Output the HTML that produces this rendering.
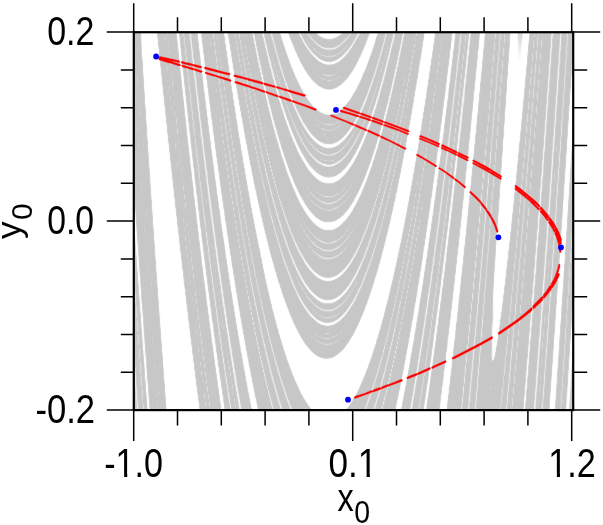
<!DOCTYPE html>
<html><head><meta charset="utf-8"><title>plot</title>
<style>html,body{margin:0;padding:0;background:#fff;width:603px;height:525px;overflow:hidden}svg{display:block}</style>
</head><body><svg width="603" height="525" viewBox="0 0 603 525">
<rect width="603" height="525" fill="#fff"/>
<defs><clipPath id="cp"><rect x="133.8" y="32.2" width="439.40000000000003" height="377.90000000000003"/></clipPath></defs>
<g clip-path="url(#cp)"><g fill-rule="evenodd" transform="scale(.1)"><path fill="rgb(243,243,243)" d="M5728 3485l-6 7-4 20 0 130-10 30 0 130-6 6-4 24 0 130-10 26 0 110 40 0zM1332 2088l0 1410 6 4 0 36-6 4 0 556 40 0 3-36 3 36 104 0-4-53-6-7 0-110-4-16-6-7 0-117-10-20 0-116-10-20 0-117-10-20 0-117-10-20 0-120-10-20 0-116-10-24 0-116-4-17-6-7 0-120-10-20 0-120-10-20 0-120-4-16-6-7 0-120-4-17-6-6 0-124-10-20 0-120-4-16zM5728 1305l-10 20 0 133-10 30 0 130-10 30 0 130-10 30 0 130-10 30 0 130-10 27 0 133-10 24 0 133-6 7-4 16 0 130-10 30 0 130-6 7-4 17 0 130-6 6-4 20 0 130-6 7-4 17 0 130-6 6-4 20 0 124-10 30 0 123-10 27 0 126-10 24 0 126-10 27 0 127-6 6-4 17 0 123 114 0 10-36 0-127 10-27 0-133 6-7 4-20 0-130 6-6 4-20 0-134 10-30 0-130 10-30 0-130 6-3zM4848 322l0 23-10 20 0 93-10 17 0 93-10 17 0 93-10 17 0 90-10 17 0 93-10 17 0 86-10 20 0 90-10 17 0 90-10 17 0 86-10 17 0 90-10 17 0 86-10 17 0 87-10 16 0 87-10 17 0 83-10 17 0 86-10 14 0 86-10 14 0 86-10 14 0 83-10 17 0 83-10 17 0 83-10 13 0 80-10 17 0 83-10 14 0 80-10 16 0 80-10 17 0 77-10 16 0 77-10 17 0 76-10 17 0 77-10 13 0 80-10 13 0 77-10 17 0 73-10 17 0 76-10 14 0 73-10 13 0 77-10 13 0 74-10 13 0 73-10 17 0 70-10 13 0 74-10 16 154 0 3-10 3 10 64 0 3-16 3 16 554 0 0-103 10-17 0-106 10-17 3-113 7 3-4 123-6 4-4 13 0 110-10 17 0 86 94 0 3-26 3 26 154 0 0-123 6-7 4-16 0-120 10-24 0-123 6-7 4-16 0-120 10-24 0-126 10-20 0-127 10-20 0-127 10-26 0-124 6-6 4-17 0-127 6-6 4-17 0-127 6-6 4-17 0-127 10-26 0-127 6-7 4-16 0-130 10-17 0-133 10-27 0-127 10-26 0-130 10-20 0-134 6-6 4-20 0-130 10-24 0-133 6-7 4-16 0-134 6-6 4-20 0-130 10-27 0-133 10-24 0-136 6-4 0-306-200 0-3 16-3-16-234 0 0 76-10 20 0 97-10 20 0 93-10 20 0 94-10 16 0 97-10 13 0 97-10 13 0 94-10 16 0 94-10 16 0 90-10 17 0 90-10 17 0 86-10 17 0 90-10 17 0 86-10 14 0 86-10 17 0 83-10 17 0 83-10 17 0 83-10 14 0 83-10 13 0 80-10 17 0 80-10 13 0 80-10 14 0 76-10 14 0 76-10 14 0 73-10 17 0 70-10 13 0 70-10 17 0 66-10 14 0 66-10 14 0 63-10 13 0 64-10 13 0 57-10 13 0 53-10 14 0 53-10 10 0 47-10 10 0 40-10 10-3 33-13-7 0-280 6-10 4-30 0-323 10-33 0-154 6-6 4-17 0-137 10-23 0-123 10-24 0-116 10-20 0-114 10-20 0-126 10-20 0-134 10-23 0-130 10-23 0-130 10-24 0-130 10-20 0-130 10-20 0-130 10-20 0-130 10-23 0-127 6-6 4-17 0-127 10-20 0-126 10-24 0-126 6-7 4-43zM5275 3615l7 10-7 120-7-7zM5285 3488l0 130-7-13zM4742 3432l3-4 3 7-3 3zM4702 3175l3-3 3 6-3 4zM4802 322l-254 0 0 53-10 17 0 70-10 16 0 70-10 17 0 70-10 17 0 66-10 20 0 67-10 13 0 70-10 17 0 67-10 13 0 70-10 13 0 67-10 17 0 63-10 17 0 66-10 17 0 60-10 13 0 67-10 17 0 63-10 13 0 64-10 13 0 63-10 14 0 63-10 13 0 60-10 17 0 60-10 13 0 60-10 17 0 60-10 10 0 60-10 13 0 60-10 14 0 56-10 14 0 56-10 17 0 57-10 13 0 53-10 17 0 53-10 14 0 53-10 13 0 57-10 10 0 53-10 17 0 50-10 13 0 54-10 13 0 50-10 13 0 54-10 13 0 50-10 10 0 50-10 13 0 50-10 14 0 46-10 14 0 46-10 14 0 46-10 14 0 46-10 14 0 46-10 14 0 43-10 13 0 47-10 10 0 43-10 14 0 43-10 13 0 40-10 14 0 43-10 13 0 40-10 10 0 44-10 13 0 40-10 10 0 40-10 13 0 30 234 0 0-30 10-13 0-53 10-17 0-53 10-14 0-56 10-14 0-56 10-14 0-56 10-14 0-56 10-14 0-60 10-13 0-60 10-10 0-63 10-14 0-60 10-13 0-60 10-17 0-60 10-13 0-63 10-14 0-63 10-13 0-64 10-13 0-63 10-17 0-63 10-17 0-63 10-14 0-66 10-14 0-66 10-14 0-66 10-17 0-70 10-13 0-67 10-13 0-70 10-17 0-70 10-13 0-70 10-14 0-73 10-13 0-74 10-13 0-73 10-14 0-73 10-13 0-77 10-10 0-77 10-10 3-83 7 10-4 80-10 13 0 77-6 3-4 14 0 70-10 16 0 74-10 13 0 73-10 17 0 73-10 17 0 70-10 17 0 70-10 16 0 70-10 14 0 70-10 13 0 73-10 14 0 70-10 13 0 70-10 17 0 63-10 17 0 66-10 14 0 66-10 17 0 63-10 14 0 66-10 14 0 66-10 14 0 63-10 13 0 67-10 10 0 63-10 17 0 60-10 13 0 64-10 13 0 60-10 17 0 56-10 17 0 60-10 13 0 57-10 17 0 56-10 17 0 53-10 17 0 57-10 13 0 57-10 10 0 46 144 0 0-56 10-14 0-66 10-14 0-66 10-17 0-67 10-13 0-70 10-13 0-70 10-14 0-70 10-13 0-70 10-13 0-70 10-17 0-70 10-17 0-70 10-16 0-70 10-17 0-73 10-14 0-73 10-17 0-73 10-13 0-77 10-13 0-77 10-17 0-73 10-17 0-76 10-17 0-77 10-13 0-80 10-13 0-80 10-14 0-80 10-16 0-80 10-17 0-80 10-13 0-80 10-17 0-83 10-17 0-80 10-17 0-80 10-16 0-84 10-16 0-84 10-13 0-87 10-16 0-87 10-17 0-83 10-17 0-86 10-20 0-84 10-16 0-87 10-17 0-86 10-20 0-87 10-17 0-90 10-16zM4595 1282l0 93-7-10zM4512 1185l3-3 3 6-3 4zM4522 1102l3-4 3 7-3 3zM4542 925l3-3 3 6-3 4zM4532 322l-184 0 0 26-10 14 0 60-10 13 0 60-10 10 0 60-10 13 0 57-10 10 0 57-10 13 0 57-10 13 0 53-10 14 0 53-10 13 0 57-10 10 0 53-10 14 0 53-10 13 0 50-10 14 0 50-10 13 0 50-10 13 0 50-10 14 0 46-10 14 0 53-10 10 0 50-10 10 0 47-10 13 0 43-10 14 0 46-10 14 0 43-10 13 0 47-10 10 0 43-10 14 0 43-10 13 0 44-10 10 0 43-10 13 0 40-10 14 0 40-10 10 0 43-10 10 0 40-10 10 0 40-10 10 0 40-10 13 0 37-10 13 0 37-10 10 0 40-10 7 0 36-10 14 0 33-10 13 0 37-10 7 0 36-10 10 0 37-10 7 0 33-10 13 0 30-10 14 0 33-10 7 0 33-10 10 0 30-10 10 0 30-10 13 0 27-10 10 0 30-10 10 0 30-10 7 0 33-10 7 0 26-10 10 0 27-10 10 0 27-10 10 0 23-10 10 0 23-10 14 0 23-10 7 0 23-10 13 0 24-10 10 0 23-10 7 0 23-10 7 0 23-10 7 0 23-10 7 0 23-10 7 0 23-10 7 0 20-10 6 0 20-10 10 0 17-10 7 0 20-10 6 0 17-10 10 0 17-10 6 0 17-10 7 0 13-20 33 0 17-10 7 0 13-10 7 0 13-10 7 0 13-10 7 0 13-10 7 0 10-10 6 0 10-20 24 0 10-10 6-10 17 0 10-10 3-20 37-10 3 0 10 504 0 0-33 10-10 0-37 10-10 0-36 10-10 0-40 10-10 0-37 10-13 0-40 10-10 0-40 10-14 0-36 10-14 0-43 10-10 0-40 10-13 0-40 10-14 0-43 10-10 0-43 10-14 0-43 10-10 0-47 10-10 0-46 10-10 0-47 10-13 0-47 10-10 0-50 10-10 0-50 10-13 0-47 10-13 0-47 10-10 0-50 10-13 0-50 10-14 0-50 10-13 0-50 10-13 0-54 10-13 0-50 10-13 0-57 10-10 0-53 10-14 0-53 10-13 0-57 10-13 0-54 10-13 0-57 10-13 0-60 10-10 0-57 10-13 0-60 10-13 0-57 10-17 0-56 10-14 0-60 10-16 0-60 10-14 0-60 10-13 0-63 10-14 0-63 10-13 0-60 10-17 0-63 10-14 0-63 10-17 0-63 10-17 0-63 10-13 0-67 10-13 0-67 10-17 0-66 10-14 0-66 10-17 0-67 10-16 0-67 10-17 0-66 10-17 0-70 10-17zM3742 4075l3-3 3 6-3 4zM2878 322l0 16 10 7 0 20 10 10 0 17 10 10 0 16 10 7 0 17 10 13 0 13 10 7 0 17 10 10 0 13 10 10 0 13 10 7 0 13 10 7 0 17 10 6 0 14 10 6 0 14 20 23 0 13 10 7 0 10 20 33 10 7 10 23 10 7 10 23 10 7 0 7 10 3 14 23 30 30 26 17 0 7 17 10 10 0 7 10 13 0 7 10 26 0 10 10 44 0 13-10 23 0 7-10 17 0 3-10 13 0 7-10 7 0 6-10 30-20 44-50 0-7 40-47 0-10 10-6 10-17 0-10 10-7 0-13 10-3 0-10 10-10 0-10 6-4 14-36 20-30 0-14 10-6 0-17 10-7 0-13 20-33 0-17 10-7 0-16 10-10 0-17 10-10 0-17 10-10 0-16 10-10 0-20-274 0-43 36-33 14-4 6-20 0-13 10-47 0-10-10-23 0-7-10-13 0-7-10-23-10-23-26zM3112 525l3-3 3 6-3 4zM3482 515l-4 10-10 3 0 7-10 3 0 7-10 3 0 7-43 43-7 0-3 10-27 10-10 10-13 0-10 10-90 0-7-10-13 0-10-10-10 0-17-16-13-4-3-10-7 0-3-10-7 0-13-13 0-7-7 0-3-10-10-3-4-10 7-3 3 10 7 0 40 40 10 0 3 10 17 10 10 0 10 10 17 0 10 10 80 0 10-10 16 0 7-10 13 0 7-10 23-10 7-10 7 0 3-10 7 0 3-10 7 0 3-10 7 0 3-10 7 0 3-10 7 0 3-10zM3102 512l3-4 3 7-3 3zM3482 505l3-3 3 6-3 4zM3088 495l7-3 7 13-7 3zM3082 485l3-3 3 6-3 4zM3502 475l3-3 3 6-3 4zM3072 472l3-4 3 7-3 3zM3512 462l3-4 3 7-3 3zM3062 455l3-3 3 6-3 4zM3522 445l3-3 3 6-3 4zM3052 442l3-4 3 7-3 3zM3032 405l3-3 3 6-3 4zM3012 372l3-4 3 7-3 3zM2275 322l3 60 10 10 0 53 10 13 0 50 10 14 0 50 10 13 0 50 10 13 0 50 10 14 0 46 10 14 0 50 10 10 0 50 10 13 0 47 10 10 0 50 10 10 0 46 10 14 0 43 10 13 0 44 10 13 0 43 10 14 0 43 10 10 0 47 10 10 0 43 10 10 0 43 10 14 0 40 10 13 0 40 10 10 0 40 10 10 0 43 10 10 0 40 10 10 0 40 10 10 0 40 10 7 0 40 10 10 0 37 10 13 0 37 10 10 0 36 10 7 0 37 10 13 0 33 10 10 0 34 10 10 0 33 10 10 0 33 10 14 0 30 10 10 0 30 10 13 0 30 10 10 0 30 10 10 0 30 10 10 0 30 10 10 0 27 10 13 0 27 10 10 0 26 10 7 0 30 10 10 0 23 10 10 0 27 10 10 0 23 10 10 0 24 10 13 0 23 10 7 0 23 10 7 0 27 10 10 0 20 10 10 0 20 10 10 0 20 10 10 0 20 10 10 0 16 10 7 0 23 10 7 0 20 10 10 0 17 10 6 0 20 10 7 0 17 10 10 0 16 10 7 0 13 10 7 0 17 10 10 0 13 10 10 0 13 10 7 0 13 10 7 0 13 10 7 0 13 10 7 0 13 10 7 0 10 20 27 0 10 10 3 0 13 10 7 10 23 10 7 0 7 10 6 20 34 7 0 3 10 40 40 10 3 0 7 37 20 7 10 13 0 7 10 23 0 13 10 54 0 10-10 23 0 67-40 0-7 10-3 0-7 10-3 0-7 10-3 0-7 10-3 3-10 7 0 0-7 46-57 4-13 10-7 10-23 10-7 0-13 10-7 10-16 0-10 10-10 0-10 20-27 10-33 10-10 0-14 10-6 0-17 10-7 0-13 10-10 0-17 10-6 0-17 10-10 0-17 10-6 0-17 10-10 0-20 10-7 0-16 10-10 0-20 6-4 4-23 10-10 0-20 10-10 0-20 10-10 0-20 10-10 0-23 6-4 4-26 10-10 0-27 10-7 0-23 10-10 0-23 10-10 0-27 10-10 0-23 10-14 0-23 10-10 0-30 10-7 0-26 10-14 0-26 10-10 0-27 10-13 0-27 10-10 0-30 10-13 0-30 10-10 0-30 10-10 0-34 10-10 0-33 10-10 0-33 10-10 0-37 10-7 0-33 10-13 0-37 10-7 0-36 10-10 0-37 10-10 0-40 10-10 0-37 10-10 0-36 10-14 0-36 10-14 0-36 10-14 0-40 10-13 0-40 10-10 0-40 10-13 0-40 10-14 0-43 10-10 0-40 10-13 0-44 10-10 0-46 10-10 0-47 10-10 0-47 10-10 0-46 10-14 0-46 10-10 0-47 10-13 0-50 10-14 0-46 10-14 0-46 10-14 0-50 10-10 0-53 10-10 0-50 10-13 0-50 10-14 0-53 10-13 0-50 10-14 0-53 10-13 0-20-214 0-3 33-3-33-84 0-3 13-3-13-164 0-10 13 0 23-10 10 0 20-10 14 0 23-10 7 0 23-10 7 0 23-10 7 0 23-10 7 0 23-10 7 0 20-10 6 0 20-10 10 0 17-10 10 0 17-10 10 0 13-10 10 0 17-10 10 0 13-20 33 0 17-10 7 0 13-10 7 0 13-10 10 0 10-10 10 0 10-10 10-10 30-10 7 0 13-10 7-20 33 0 10-10 7-10 23-10 3-20 37-10 3 0 7-50 50 0 10-10 3 0 7-10 3-3 10-13 0-7 10-20-3-40 7-63-4-10-10-14 0-6-10-27-10-3-10-7 0-63-63 0-7-10-3 0-10-20-20-10-23-10-7-4-13-6-4 0-10-10-3 0-13-10-7 0-10-20-27 0-10-10-10-14-36-6-4 0-13-10-10 0-13-10-7 0-13-10-7 0-17-10-10 0-16-10-7 0-17-10-10 0-16-10-7 0-17-10-10 0-16-10-10 0-20-10-7 0-20-10-10 0-20-10-10 0-20-10-10 0-17-10-13 0-20-10-10 0-23-10-7 0-23-10-10 0-24-10-16zM3428 3158l7-10 7 7-7 7zM3108 3152l7-4 57 54 13 0 3 10 10 0 10 10 17 0 13 10 74 0 13-10 17 0 50-30 0-7 16-7 17-20 7 7-30 33-34 20-3 10-13 0-7 10-13 0-7 10-57 4-43-4-7-10-13 0-7-10-13 0-43-40-7 0zM3445 3138l0 14-7-7zM3102 3148l3-10 7 7-7 7zM3468 3112l0 13-10 3 0 7-6 3 0-13 10-3 0-7zM3075 3115l10-3 17 23-7 3-3-10-7 0zM3472 3105l3-3 3 6-3 4zM3052 3075l3-3 10 13-10 3zM3502 3062l3-4 3 7-3 3zM3512 3045l3-3 3 6-3 4zM3032 3045l3-3 3 6-3 4zM3532 3012l3-4 3 7-3 3zM3012 3012l3-4 3 7-3 3zM3002 2992l3-4 3 7-3 3zM2982 2955l3-3 3 6-3 4zM2972 2935l3-3 3 6-3 4zM3068 2875l7-7 37 50 70 60 13 4 10 10 13 0 10 10 40 0 7 6 17-6 36 0 7-10 17 0 10-10 10 0 3-10 10 0 20-20 7 0 0-7 10-3 0-7 10-3 0-7 10-3 3-10 7 0 0-7 20-17 3-10 7 7-4 10-10 3 0 7-10 7-20 33-10 3 0 7-10 3-3 10-7 0-46 40-10 0-7 10-17 0-10 10-83 0-7-10-13 0-50-30-63-63 0-7-10-6 0-7-20-20zM3495 2852l3 13-10 3-3 14-7-7zM3052 2842l6 3 0 7 10 3 4 10-7 7-3-14-10-3zM3515 2822l3 13-10 3-3 10-3-13 10-3zM3035 2808l3 14 10 3-3 17-3-14-10-3zM3025 2792l7 13-4 3-6-3zM2972 2705l3-3 3 6-3 4zM3592 2675l3-3 3 6-3 4zM3495 2632l3 13-10 3-3 10-10-3 10-13 7 0zM3612 2632l3-4 3 7-3 3zM3062 2632l6 0 10 20 10 3 10 23 54 54 23 10 3 10 17 10 10 0 10 10 20 0 10 10 70 0 10-10 20 0 10-10 10 0 17-10 43-40 7 0 0-7 10-3 0-7 20-17 13-23 3 17-80 86-20 10-3 10-10 0-10 10-10 0-10 10-17 0-13 10-50 0-10-10-20 0-10-10-30-10-3-10-7 0-83-83 0-7-10-6 0-10-10-7 0-7-10-3zM3512 2612l3 3-10 13-3-13zM3045 2615l10-3 7 13-7 3zM2932 2615l3-3 3 6-3 4zM3622 2605l3-3 3 6-3 4zM2922 2592l3-4 3 7-3 3zM3035 2582l7 13-4 3-6-3zM2912 2565l3-3 3 6-3 4zM2992 2515l3-3 3 6-3 4zM2892 2515l3-3 3 6-3 4zM2882 2492l3-4 3 7-3 3zM2972 2475l3-3 3 6-3 4zM3592 2455l3-3 3 6-3 4zM2962 2455l3-3 3 6-3 4zM2952 2432l3-4 3 7-3 3zM3612 2412l3-4 3 7-3 3zM3622 2385l3-3 3 6-3 4zM2932 2385l3-3 3 6-3 4zM2922 2362l3-4 3 7-3 3zM2912 2335l3-3 3 6-3 4zM3328 1645l30 0-23 7zM3222 1645l23-3 7 10 73-4 7 7-87 3-3-10zM3038 1255l7-7 3 14 10 3 0 10 10 17 10 3 20 37 7 0 17 26 46 44 37 20 7 10 16 0 10 10 34 0 10 6 13 0 10-6 33 0 10-10 14 0 10-10 10 0 3-10 10 0 20-20 7 0 0-7 10-3 0-7 10-3 0-7 10-3 3-10 7 0 0-7 20-17 10-23 20-20 0-10 10-3 3-10 10 3-7 3-10 17 0 10-10 7-10 23-10 7-20 33-73 73-23 10-7 10-13 0-7 10-23 0-14 10-43 0-10-10-20 0-10-10-30-10-7-10-30-20-56-63 0-7-10-3-4-13-16-17-10-23-10-7 0-10zM3545 1225l3 20-10 7-3 13-3-20 10-7zM3555 1208l3 17-10 3-3-3 7-3zM3015 1195l3 17 10 3 0 17 10 3 4 10-7 7-3-14-10-3 0-17-10-3zM3005 1178l7 17-4 3-6-3zM2995 1158l7 17-4 3-6-3zM3855 1128l7 7-4 33-6 4-4-7zM3742 1102l3 3-7 3-3 27-3-30zM3868 1092l0 36-6 4 0-37zM2825 1095l13 0 0 23 10 7 0 20 10 10 0 17 10 10 0 20 10 10 0 16 10 7 0 20 10 10 0 17 10 10 0 16 10 7 0 17 10 10 0 16 10 7 0 13 10 10 0 14 10 10 0 13 10 10 0 13 10 7 0 13 10 7 0 13 10 7 0 13 10 7 0 10 20 27 0 10 10 6 0 10 10 7 4 13 16 17 20 37 64 70 33 20 7 10 10 0 6 10 17 0 7 10 26 0 14 10 30 0 13-10 27 0 10-10 13 0 23-20 14-4 13-16 7 0 3-10 7 0 3-10 7 0 3-10 7 0 0-7 20-17 20-33 20-20 0-10 10-7 10-23 10-7 0-13 20-23 0-10 6-4 14-33 10-10 0-13 6-4 4-16 6-4 4-16 10-10 0-17 10-7 0-13 20-33 0-17 10-7 0-16 10-10 0-17 10-10 0-20 10-7 0-16 10-10 0-20 10-10 0-17 10-7 0-23 13 0-7 7 0 20-10 10 0 23-10 7 0 20-10 10 0 16-10 10 0 20-6 4-4 23-10 10 0 17-10 10 0 13-10 10 0 17-10 10 0 13-20 33 0 17-10 7 0 13-10 10 0 10-10 10 0 10-30 60-10 10 0 10-10 7 0 13-10 7-50 83-93 93-17 10-10 0-6 10-17 0-10 10-80 0-7-10-16 0-4-6-43-24-63-63 0-7-10-3-4-13-26-30-4-14-16-16 0-10-10-7 0-10-20-27 0-10-20-23 0-13-10-7 0-13-10-7 0-17-10-6 0-14-10-10 0-13-10-10 0-13-10-7 0-17-10-10 0-16-10-7 0-17-10-10 0-16-10-7 0-20-10-10 0-17-10-10 0-16-10-10 0-20-10-7 0-23-10-7 0-23-10-7 0-23-10-7 0-23zM3748 1072l4 3-7 30-3-30zM2825 1058l0 37-7-30zM3878 1052l4 3-7 37-3-37zM2815 1028l7 27-7 7zM3765 1008l3 27-6 3-4-3zM2805 995l7 30-4 3-6-3zM3662 975l3-3 3 6-3 4zM2795 962l7 33-4 3-6-3zM2892 932l3-4 3 7-3 3zM3682 922l3-4 3 7-3 3zM2882 905l3-3 3 6-3 4zM3692 895l3-3 3 6-3 4zM2655 888l3 40 10 7 0 33 10 7 0 33 10 7 0 33 10 7 0 33 10 7 0 33 10 7 0 30 10 10 0 27 10 10 0 26 10 10 0 27 10 10 0 27 10 10 0 26 10 7 0 27 10 6 0 27 10 10 0 23 10 7 0 23 10 7 0 27 10 6 0 24 10 10 0 20 10 10 0 20 10 10 0 16 10 7 0 23 10 7 0 20 10 10 0 17 10 10 0 16 10 7 0 17 10 10 0 16 10 7 0 17 10 10 0 13 10 10 0 13 10 7 0 13 10 7 0 17 10 6 0 14 10 10 0 10 10 6 0 14 20 23 0 13 10 7 0 10 20 23 0 10 20 20 0 10 10 7 0 7 10 3 14 27 60 60 23 10 7 10 10 0 6 10 17 0 7 10 36 0 7 6 20 0 7-6 36 0 7-10 17 0 3-10 13 0 7-10 33-20 44-44 10-20 30-33 0-10 10-3 10-17 0-10 10-7 20-33 0-10 10-7 0-13 10-7 0-13 10-7 0-13 10-3 0-17 10-7 0-13 10-7 0-13 20-33 0-17 10-7 0-13 10-10 0-17 10-6 0-17 10-10 0-20 10-7 0-16 10-10 0-17 10-10 0-20 10-7 0-23 10-7 0-23 10-7 0-23 10-7 0-23 10-7 0-23 10-7 0-23 10-13 0-20 10-10 0-27 10-7 0-26 10-10 0-27 10-7 0-26 10-10 0-27 10-7 0-33 10-7 0-26 10 0-4 36-10 10 0 27-10 10 0 30-10 7 0 30-10 10 0 23-10 13 0 27-10 7 0 26-10 10 0 27-10 7 0 23-10 10 0 23-6 4-4 26-10 10 0 24-10 10 0 23-10 7 0 23-10 7 0 20-10 10 0 16-10 10 0 20-10 10 0 17-10 10 0 20-10 7 0 16-10 10 0 17-10 7 0 13-10 13 0 17-10 7 0 13-10 7 0 13-20 33 0 14-10 6 0 14-10 6 0 14-10 6-10 30-20 24 0 13-10 7-30 53-10 7-20 33-10 3 0 7-43 43-7 0-3 10-23 10-7 10-13 0-7 10-17 0-10 10-73 0-7-10-13 0-30-20-10 0-3-10-7 0-73-73 0-7-30-33-10-23-10-7 0-10-20-27 0-10-10-3 0-13-10-7 0-13-10-7 0-13-10-7 0-13-10-7 0-13-10-7 0-13-10-7 0-17-10-6 0-17-10-10 0-13-10-7 0-17-10-10 0-16-10-7 0-17-10-10 0-16-10-7 0-20-10-10 0-20-10-10-4-23-6-4 0-20-10-10 0-20-10-10 0-20-10-10 0-20-10-13 0-20-10-10 0-23-10-7 0-27-10-10 0-23-10-10 0-27-10-6 0-27-10-10 0-27-10-10 0-26-10-7 0-30-10-10 0-27-10-10 0-30-10-10 0-30-10-10 0-30-10-10 0-30-10-10 0-33-10-10 0-33-10-7 0-33-10-7-4-40zM2645 845l7 40-7 7zM2632 802l6 3 0 43-6-3zM2822 725l3-3 3 6-3 4zM3752 715l3-3 3 6-3 4zM2812 695l3-3 3 6-3 4zM2008 322l0 56 10 17 0 70 10 17 0 66 10 17 0 67 10 13 0 70 10 17 0 63 10 17 0 66 10 14 0 66 10 14 0 66 10 14 0 66 10 14 0 63 10 17 0 63 10 13 0 64 10 13 0 63 10 14 0 63 10 13 0 60 10 17 0 60 10 13 0 60 10 14 0 56 10 17 0 60 10 10 0 60 10 13 0 60 10 14 0 56 10 14 0 53 10 17 0 53 10 13 0 57 10 10 0 57 10 13 0 53 10 14 0 53 10 13 0 54 10 13 0 50 10 13 0 50 10 14 0 50 10 13 0 53 10 10 0 50 10 14 0 50 10 13 0 47 10 13 0 47 10 13 0 47 10 13 0 43 10 14 0 46 10 14 0 43 10 13 0 44 10 13 0 43 10 14 0 43 10 10 0 43 10 14 0 43 10 10 0 40 10 13 0 40 10 14 0 40 10 10 0 43 10 10 0 37 10 13 0 40 10 10 0 40 10 10 0 37 10 13 0 33 10 14 0 36 10 10 0 10 234 0 3-13 3 13 94 0 3-6 3 6 204 0 0-6-20-17-20-37-10-6 0-10-10-7-10-23-10-7 0-13-10-7 0-10-20-27 0-10-10-10-4-16-6-4-10-33-10-10 0-13-10-7 0-17-10-10 0-13-10-10 0-13-10-7 0-20-20-33 0-20-10-7-10-47-10-10 0-16-10-10 0-20-10-10 0-20-10-7 0-23-10-10 0-24-10-10 0-23-10-10 0-23-10-7 0-27-10-10 0-23-10-10 0-27-10-10 0-23-10-10 0-27-10-10 0-30-10-10 0-26-10-10 0-30-10-7 0-30-10-10 0-33-10-10 0-30-10-10 0-34-10-10 0-33-10-10 0-33-10-7 0-37-10-10 0-36-10-14 0-33-10-10 0-40-10-10 0-40-10-10 0-43-10-14 0-36-10-10 0-37-10-10 0-40-10-10 0-40-10-10 0-40-10-10 0-40-10-10 0-43-10-7 0-43-10-14 0-40-10-13 0-40-10-10 0-47-10-10 0-43-10-10 0-47-10-13 0-43-10-10 0-47-10-10 0-47-10-13 0-47-10-13 0-47-10-10 0-50-10-13 0-47-10-13 0-50-10-10 0-50-10-13 0-50-10-14 0-50-10-13 0-50-10-13 0-54-10-13 0-53-10-14 0-53-10-10 0-57-10-13 0-53-10-14 0-56-10-14 0-56-10-14 0-56-10-14 0-56-10-14 0-56-10-14 0-60-10-13 0-60-10-13 0-20zM2902 4072l3-4 3 7-3 3zM2722 4072l3-4 3 7-3 3zM2892 4045l3-3 3 6-3 4zM2882 4022l3-4 3 7-3 3zM2872 3992l3-4 3 7-3 3zM2782 3992l3-4 3 7-3 3zM2762 3925l3-3 3 6-3 4zM2742 3852l3-4 3 7-3 3zM2732 3815l3-3 3 6-3 4zM1788 322l0 73 10 13 0 80 10 17 0 77 10 20 0 80 10 16 0 80 10 14 0 80 10 16 0 77 10 17 0 73 10 20 0 73 10 17 0 73 10 20 0 74 10 16 0 70 10 20 0 74 10 16 0 74 10 13 0 73 10 17 0 70 10 17 0 73 10 13 0 70 10 17 0 70 10 17 0 66 10 17 0 70 10 17 0 66 10 14 0 70 10 13 0 70 10 13 0 67 10 17 0 63 10 17 0 63 10 17 0 63 10 17 0 63 10 13 0 67 10 13 0 64 10 13 0 63 10 14 0 63 10 13 0 60 10 17 0 60 10 13 0 60 10 14 0 60 10 13 0 60 10 13 0 60 10 14 0 56 10 14 0 56 10 17 0 53 10 17 0 53 10 14 0 56 10 14 0 53 10 17 0 56 164 0 3-26 3 26 114 0 0-23-10-10 0-43-10-10 0-40-10-14 0-40-10-13 0-43-10-10 0-44-10-10 0-43-10-10 0-47-10-13 0-43-10-14 0-43-10-10 0-47-10-13 0-47-10-13 0-47-10-10 0-46-10-14 0-46-10-14 0-50-10-13 0-47-10-13 0-50-10-10 0-53-10-14 0-50-10-13 0-50-10-13 0-54-10-13 0-53-10-14 0-53-10-10 0-57-10-13 0-53-10-14 0-56-10-14 0-53-10-17 0-53-10-17 0-53-10-17 0-56-10-14 0-56-10-17 0-57-10-13 0-60-10-17 0-60-10-13 0-60-10-13 0-60-10-17 0-60-10-17 0-63-10-10 0-63-10-17 0-63-10-14 0-66-10-14 0-63-10-17 0-66-10-14 0-66-10-14 0-66-10-17 0-67-10-13 0-67-10-16 0-70-10-14 0-70-10-13 0-70-10-17 0-70-10-16 0-70-10-14 0-73-10-17 0-66zM1568 322l0 63 10 17 0 80 10 20 0 80 10 16 0 80 10 17 0 80 10 17 0 80 10 16 0 80 10 14 0 80 10 16 0 80 10 17 0 80 10 13 0 80 10 17 0 77 10 16 0 77 10 17 0 76 10 17 0 77 10 13 0 77 10 16 0 77 10 13 0 77 10 17 0 73 10 17 0 73 10 17 0 73 10 17 0 73 10 13 0 74 10 16 0 74 10 13 0 73 10 14 0 73 10 17 0 70 10 13 0 73 10 14 0 70 10 16 0 70 10 14 0 70 10 13 0 70 10 17 0 66 10 14 0 70 10 13 0 70 10 13 0 67 10 13 0 67 10 13 0 67 10 17 0 63 10 17 0 63 10 13 0 67 10 10 0 67 10 13 0 63 234 0 0-16-10-14 0-56-10-14 0-56-10-14 0-56-10-14 0-56-10-14 0-60-10-13 0-60-10-13 0-60-10-14 0-60-10-13 0-60-10-17 0-60-10-13 0-60-10-17 0-63-10-17 0-60-10-13 0-67-10-13 0-63-10-17 0-63-10-17 0-63-10-17 0-67-10-13 0-67-10-13 0-70-10-13 0-67-10-17 0-66-10-17 0-67-10-20 0-66-10-17 0-70-10-17 0-70-10-13 0-73-10-14 0-73-10-17 0-70-10-16 0-74-10-16 0-74-10-16 0-74-10-16 0-77-10-17 0-73-10-17 0-76-10-14 0-76-10-17 0-77-10-20 0-76-10-17 0-77-10-16 0-80-10-17 0-80-10-17 0-76-10-20 0-80-10-17 0-80-10-20 0-53zM1332 322l0 1576 6 4 0 120 4 16 6 7 0 123 10 20 0 124 10 20 0 123 10 20 0 117 4 16 6 7 0 123 10 20 0 117 10 23 0 117 10 20 0 117 4 16 6 7 0 117 10 20 0 116 10 20 0 117 10 20 0 113 4 17 6 7 0 116 10 20 0 110 4 17 6 7 0 106 184 0 0-26-10-24 0-113-10-17 0-116-10-20 0-114-10-20 0-116-10-24 0-113-10-23 0-114-4-16-6-7 0-120-10-20 0-117-10-23 0-117-4-16-6-7 0-120-4-17-6-6 0-124-10-20 0-120-4-16-6-7 0-127-10-20 0-126-10-20 0-127-10-23 0-127-10-23 0-127-10-23 0-127-4-17-6-6 0-130-10-24 0-133-10-23 0-130-4-17-6-7 0-136-10-24 0-133-4-17-6-6 0-137-10-27 0-136-4-17-6-7 0-66z"/><path fill="rgb(231,231,231)" d="M5728 3512l-6 23 0 80-10 80-4 137-6 30 0 73-14 163 34 0 0-10 6-3zM1332 2112l0 1360 6 3 4 50-4 37-6 3 0 533 40 0 3-60 3 60 100 0 0-20-6-16-4-117-6-20-4-120-6-17-4-116-6-20-4-117-6-17-14-256-6-20-14-264-6-13-4-123-6-20-4-120-6-24-4-123-6-17-4-123-6-20-4-123-6-20-4-127zM1355 3758l7 57-7 30zM5728 1325l-6 20-4 140-6 20-4 140-6 17-14 303-6 20-4 137-6 23-4 137-6 23-4 133-6 20-4 137-6 17-4 136-6 24-4 136-6 17-4 133-6 24-4 133-6 20-4 133-6 17-4 137-6 16-4 130-6 24-4 130-6 20-4 133-6 20-4 103 114 0 0-33 6-27 7-133-3-10 6-13 4-130 6-30 4-130 6-30 4-130 6-24 4-140 6-23 4-137 6-3zM4848 322l0 40-6 16-4 94-6 16-4 94-6 16-4 94-6 16-4 94-6 16-4 90-6 17-4 90-6 17-4 90-10 53 0 53-6 14-4 90-6 16-4 90-6 14-4 90-6 16-4 87-10 53 0 50-6 14-4 86-6 20-4 80-6 17-4 83-6 17-4 87-6 13-14 183-6 14-4 83-10 50 0 50-6 13-4 80-6 17-4 80-6 17-4 80-6 13-4 80-6 13-4 80-6 14-4 80-6 13-4 77-10 50 0 43-6 13-4 80-6 14-4 76-6 14-4 76-10 40 0 47-6 17-4 73-6 13-4 74-10 43 0 50-6 10-4 70-6 13-7 80 147 0 3-26 3 26 64 0 3-33 3 33 64 0 3-40 3 40 244 0 3-6 3 6 54 0 3-36 3 36 167 0 7-53 0-67 6-13 4-110 6-17 4-110 6-13 4-113 6-14 4-110 6-16 4-114 6-13 4-113 6-14 4-116 10-54 0-76 6-14 4-116 6-14 4-116 6-14 4-120 6-13 4-117 10-53 0-80 6-13 4-120 6-14 4-120 6-10 4-126 6-10 4-124 6-6 7-134 7 4-4 136-6 7-4 127-6 10-4 130-6 13-4 123-6 14-4 120-6 16-4 120-6 17-4 117-6 16-4 117-6 17-4 116-6 14-4 120-6 13-4 117-6 13-4 117-6 13-4 117-6 13-4 117-10 53 0 73-6 17-4 113-6 17-4 110-6 13-4 114-6 13-4 73 94 0 3-50 7 17 0 33 143 0 7-143 6-17 4-126 10-74 0-73 6-20 4-127 6-16 4-127 10-77 0-73 6-20 4-130 6-17 4-130 10-73 0-80 6-17 4-133 6-17 4-133 6-17 4-133 6-20 14-287 10-76 0-77 6-20 4-130 10-77 0-83 6-20 4-137 6-20 4-136 6-20 4-137 6-17 4-140 6-23 4-133 6-24 4-136 6-4 0-286-200 0-3 33-7-13 0-20-226 0-4 93-6 17-4 100-6 16-4 97-6 13-4 100-6 14-4 96-6 14-4 96-6 14-14 203-6 17-4 90-10 53 0 53-10 50 0 54-10 50 0 56-6 14-4 90-6 13-4 87-10 43 0 57-6 13-4 87-10 43 0 57-6 10-4 86-6 10-4 84-6 13-4 80-10 43 0 50-10 40 0 54-6 10-4 76-10 44 0 46-6 10-4 77-6 10-4 73-6 10-4 70-10 37 0 47-10 30 0 46-10 30 0 44-10 30 0 40-10 30 0 36-10 27 0 37-10 23 0 33-10 24 0 26-6 7-4 30-13 7-3-330 6-24 4-76 0-257 6-33 4-144 6-30 14-276 6-17 4-120 6-23 4-110 10-60 0-90 6-17 4-137 6-20 4-133 6-23 4-130 6-20 4-130 10-74 0-80 6-20 4-126 10-74 0-80 6-20 4-130 6-20 4-130 6-16 4-130 6-20 4-130 6-30zM5355 3912l7 26-7 97-7-13zM5032 3795l3-3 3 6-3 4zM5365 3782l7 16-7 104-7-20zM5375 3645l7 27-7 96-7-23zM5385 3515l7 17-7 100-7-20zM5395 3372l7 23-7 100-7-20zM5405 3242l7 20-7 93-7-20zM5415 3102l7 23-7 97-7-30zM5425 2965l7 23-7 94-7-24zM5435 2822l7 26-7 94-7-24zM5445 2685l7 20-7 97-7-30zM5455 2542l7 30-7 86-7-30zM5465 2405l7 20-7 100-7-33zM5475 2265l7 20-7 90-7-23zM5485 2125l7 23-7 87-7-27zM5495 1978l7 27-7 90-7-37zM5572 1912l3-4 3 7-3 3zM5505 1835l7 30-7 80-7-27zM5515 1695l7 27-7 80-7-27zM5525 1545l7 30-7 87-7-34zM5438 1492l0 136-6 4 0-137zM5535 1402l7 26-7 80-7-26zM5445 1355l7 7-4 130-6 3-4-60zM5545 1258l7 34-7 73-7-33zM5455 1215l7 7-4 126-6 4-4-50zM5555 1108l7 27-7 83-7-33zM5465 1075l7 13-7 127-7-7zM5565 958l7 34-7 76-7-26zM5475 935l7 10-7 130-7-10zM4902 935l3-3 3 6-3 4zM5575 808l7 37-7 77-7-34zM5485 795l7 13-7 120-7-10zM5585 658l7 34-7 80-7-30zM5495 655l7 13-7 120-7-13zM5595 515l7 30-7 73zM5505 512l7 13-7 120-7-13zM5515 372l7 13-7 117-7-17zM5605 362l7 33-7 73-7-33zM4802 322l-94 0-6 30-4 80-6 13-4 83-6 17-4 83-6 17-14 177-6 16-14 174-6 16-4 77-6 17-4 76-6 17-4 80-6 13-14 170-6 17-4 73-6 14-4 80-6 16-4 70-6 14-4 73-6 17-4 70-6 16-4 74-6 13-4 73-6 14-4 73-6 13-4 74-6 16-4 67-6 17-4 70-6 13-4 70-6 13-4 70-6 14-4 66-10 44 0 40-6 13-4 70-6 13-14 144-6 10-4 66-6 14-4 66-6 14-4 63-6 13-4 67-6 10-4 63-6 14-4 63-6 13-4 60-6 14-4 60-6 13-4 63-6 10-14 134-6 10-4 60-6 13-4 57-6 10-4 60-10 46 140 0 4-66 10-44 0-40 6-10 4-70 6-13 14-150 10-40 0-43 6-10 4-74 10-43 0-40 6-13 4-74 6-13 4-73 6-14 4-73 6-13 4-74 6-13 4-73 6-14 4-76 6-14 4-73 10-47 0-46 6-14 4-76 6-14 4-76 6-14 4-80 6-13 4-77 6-13 4-80 6-13 4-84 10-43 0-50 6-13 4-84 6-13 4-80 6-13 14-184 6-13 4-83 6-17 14-180 10-50 0-50 6-13 4-87 6-17 4-86 6-17 4-83 6-17 4-90 6-13 4-90 6-14 4-86 6-17 4-90 6-13 4-94 6-13 4-90 6-17zM4692 322l-140 0-4 66-6 17-4 70-10 50 0 37-6 16-4 70-6 14-4 73-6 10-4 73-6 14-14 153-6 13-14 150-6 14-4 66-6 14-4 73-6 10-14 143-6 14-4 63-6 13-4 64-6 13-4 67-6 10-14 140-6 10-4 63-6 13-4 64-6 10-4 63-6 10-4 63-6 10-4 60-6 10-4 60-6 14-14 130-6 10-4 60-6 10-4 56-6 10-4 57-10 40 0 30-6 10-4 57-6 10-4 56-6 10-14 120-6 10-4 54-6 10-4 53-6 10-14 113-6 10-4 50-6 10-4 54-6 6-4 50-6 10-4 50-6 10-4 50-10 27 0 30-6 10-4 47-6 10-4 46-6 10-4 47-10 30 0 27-6 6-4 47-6 7-4 46-6 7-4 47-6 10-4 40-6 10-4 43-6 7-4 26 94 0 6-10 7-53 7 3-4 54-6 6 126 0 14-110 6-10 4-56 6-14 4-56 6-14 4-56 6-14 4-56 6-14 4-60 6-10 14-133 6-13 4-60 6-14 4-63 6-13 14-134 6-13 4-67 6-10 4-66 6-10 4-67 6-13 14-147 6-10 4-67 6-13 0-37 10-43 14-150 6-13 4-70 6-14 4-66 6-17 4-70 6-10 4-73 6-14 14-156 6-14 4-73 6-13 4-74 6-13 4-73 6-14 4-76 6-14 4-73 6-17 4-73 10-47 0-46 6-14 4-76 6-17 4-77 6-13 4-77 6-16 4-80 6-14 4-76 6-17 4-80 6-17 24-270 6-16zM4128 3975l4 33-4 24-6 3-4-30 4-27zM4135 3915l7 7-7 56-7-6zM4145 3855l7 7-7 56-7-6 0-30zM4155 3795l7 7-7 53-7-7zM4165 3735l7 7-7 53-7-10zM4175 3675l7 10-7 47-7-7zM4185 3612l7 10-7 46-7-10zM4195 3548l7 14-7 43-7-7zM4205 3485l7 10-7 47-7-14zM4215 3418l7 14-7 43-7-17zM4225 3355l7 13-7 40-7-10zM4235 3288l7 17-7 40-7-17zM4245 3222l7 13-7 43zM4255 3155l7 17-7 36zM4265 3085l7 20-7 37-7-17zM4275 3015l7 20-7 37-7-17zM4285 2945l7 20-7 40-7-20zM4295 2878l7 17-7 37zM4315 2735l7 20-7 33zM4335 2588l0 54-7-17zM4528 322l-180 0 0 40-6 10-4 60-6 10-4 60-6 13-4 60-6 10-4 60-6 10-4 57-6 10-4 60-6 10-4 56-6 14-4 53-6 10-4 57-6 10-4 56-6 10-4 57-10 30 0 33-6 10-14 117-10 30-10 97-6 6-4 54-10 26 0 34-6 10-4 50-6 10-4 46-10 27 0 33-10 27 0 30-10 27 0 30-10 26 0 30-10 27 0 30-6 10-4 43-10 27 0 30-6 7-4 46-6 7-4 43-10 27 0 27-10 23 0 30-10 20 0 30-6 7-4 43-6 7-4 43-6 7-4 40-10 23 0 27-10 20 0 26-6 7-4 40-10 20 0 27-10 20 0 23-10 23 0 24-10 20 0 23-10 20 0 23-6 7-14 77-10 20 0 23-10 17 0 23-6 7-4 33-10 17 0 20-6 6-14 70-6 7-4 30-10 17 0 20-6 6-4 30-6 7-4 27-6 6-4 30-10 17 0 17-10 16-10 50-6 7-4 23-10 17 0 17-10 13 0 17-6 6-4 24-16 33-4 23-16 34-4 23-6 7-4 20-10 13 0 13-6 4-4 20-10 13-20 60-10 10-10 33-6 4-4 16-30 60-6 4-14 33-6 3-44 74-26 30 0 6 496 0 4-40 6-10 4-36 10-27 0-23 6-7 4-40 10-27 0-23 6-7 4-43 10-27 0-26 6-7 4-43 10-27 0-27 6-6 4-47 6-7 4-46 6-10 4-44 10-30 0-26 6-7 4-47 10-30 0-30 6-10 14-103 6-10 4-47 6-10 4-50 6-10 4-53 6-7 4-53 6-7 4-53 6-10 4-50 10-33 0-30 6-14 4-50 10-33 10-97 6-10 4-53 6-10 4-57 6-13 4-53 6-14 4-53 10-40 0-30 6-13 4-54 6-13 4-57 6-13 4-60 6-10 4-57 6-13 4-60 6-13 4-60 6-14 14-133 10-40 0-33 6-10 4-67 6-10 14-140 6-10 4-67 6-13 4-63 6-14 4-66 6-14 4-66 6-14 4-63 6-13 4-70 6-14 4-66 6-17 4-67 6-10 4-70 6-13 4-70 6-13 4-70 6-14 4-70 6-13 4-73zM3832 3512l3-4 3 7-3 3zM3962 3475l3-3 3 6-3 4zM3842 3475l3-3 3 6-3 4zM3972 3425l3-3 3 6-3 4zM3972 3165l3-3 3 6-3 4zM2878 322l40 110 10 13 4 20 46 97 4 16 6 4 14 36 36 67 30 40 4 13 46 60 50 50 67 40 33 4 10 6 57-6 50-24 47-36 56-64 60-93 4-13 6-4 14-33 10-10 0-10 10-10 0-10 26-47 4-16 36-77 4-20 6-7 4-20 6-6 4-20 6-4 4-23 10-17 0-6-104 0-3 6-3-6-164 0-23 26-7 0-23 20-17 4-3 6-13 0-17 10-63 0-67-30-40-36-157 0 4 13-7 7-3-20zM3348 485l-20 7-16-7 23-7zM3235 485l10-7 30 7-10 7zM3348 475l20 0-13 7zM3215 475l20 0-10 7zM3368 465l20 0-13 7zM3562 388l-4 17-6 3-24 47-40 60-40 47-63 56-37 14-3 6-40 7-63-7-57-30-83-83 0-7-30-36-44-74 4-10 6 4 64 100 63 66 43 30 40 14 7 6 53 4 47-14 63-40 50-50 64-90 0-6 6-4 14-30zM3025 378l7 14-4 10-6-4-4-13zM3568 368l4 7-10 13-4-6zM3012 362l10 13-7 7-7-14zM3575 348l7 7-10 13-4-3zM3002 342l6 3 0 17-6-4zM3585 328l7 7-10 13-4-6zM2278 322l0 33 10 30 0 37 10 26 4 57 6 7 4 56 6 7 4 57 6 6 0 37 10 27 4 53 6 7 0 36 10 27 0 33 10 27 0 33 10 27 0 33 10 27 0 30 10 27 4 50 6 6 4 50 6 7 4 50 6 7 4 50 6 6 14 104 6 6 4 47 6 7 4 46 6 7 0 30 10 23 4 44 6 6 0 30 10 24 0 26 10 24 0 26 10 24 10 76 10 20 0 27 10 20 0 27 10 20 0 26 10 20 0 27 10 20 4 40 6 7 0 23 10 20 0 23 10 20 0 24 10 20 4 36 6 7 0 23 10 17 0 23 10 20 0 20 10 20 0 20 10 20 10 60 10 17 0 20 10 17 0 23 10 17 4 30 6 6 0 17 10 17 0 20 10 16 0 17 10 17 0 16 10 17 0 20 10 13 10 50 10 17 0 13 10 17 0 13 10 17 0 13 10 17 10 43 10 14 10 43 10 13 4 20 6 7 20 60 10 13 4 20 6 4 0 13 10 10 0 10 54 110 66 110 80 93 57 40 30 14 20 0 7 6 43 0 10-6 20 0 47-24 26-20 54-53 36-47 4-13 16-17 4-13 6-3 14-30 20-27 0-10 6-3 4-17 6-3 4-17 6-3 4-17 6-3 4-17 16-27 4-16 26-54 4-20 16-30 4-20 10-13 0-13 16-34 4-23 6-7 14-50 10-16 0-14 10-16 0-14 6-6 4-27 6-7 4-26 6-7 4-23 10-17 10-50 6-7 4-30 10-16 0-20 6-7 14-63 10-20 0-20 10-17 0-20 6-7 4-33 6-7 4-33 6-7 4-33 6-7 4-33 10-20 0-20 10-20 0-23 10-24 0-20 10-20 0-23 6-7 4-36 10-24 0-23 6-7 4-36 10-24 0-23 10-23 0-27 10-20 0-27 6-6 14-90 6-7 4-43 6-7 4-43 6-7 4-47 6-6 4-44 6-10 4-43 6-7 4-46 6-7 4-47 6-6 4-47 10-27 0-30 6-6 4-47 6-10 4-47 6-10 4-46 6-10 4-50 10-30 0-30 6-7 4-53 10-27 0-33 10-27 0-33 10-27 0-33 6-7 4-53 6-10 4-54 10-30 0-33 10-30 0-33 6-10 4-57 6-10 4-53 6-10 4-57 6-10 0-13-206 0-7 40-7-4 4-36-84 0-3 23-7-10 0-13-70 0-3 13-3-13-84 0-10 43-10 17 0 16-6 7-4 23-6 7-4 23-6 7-4 23-6 7-4 23-6 7-4 23-10 17 0 13-6 4-4 23-20 40 0 13-6 4-4 20-6 6-4 20-6 4-24 66-70 140-6 4-34 63-30 40-60 63-23 34-27 16-40 0-23 10-30 0-10-6-30-4-40-20-83-80-60-83-34-67-6-3 0-10-10-10-14-37-6-3 0-10-30-57-14-43-36-80 0-13-10-14-4-23-16-33-14-54-16-33-4-27-16-36-20-80-174 0-3 10-3-10-84 0 4 43 6 7 4 43 6 7 4 43 6 7 0 26 10 24 4 40 6 6 0 27 10 20 4 40 6 7 0 26 10 20 0 24 10 20 0 26 10 20 4 37 6 7 0 23 10 20 0 23 10 20 4 34 6 6 0 24 10 20 0 20 10 20 4 33 6 7 4 30 6 6 0 20 10 20 0 20 10 17 0 20 10 17 0 16 10 20 10 54 10 16 4 27 6 7 4 30 6 3 4 30 6 7 10 46 10 14 0 16 10 17 0 13 10 17 10 43 10 14 10 43 10 13 24 74 6 3 4 20 6 7 0 10 10 13 24 63 6 4 10 33 10 10 50 100 40 60 74 83 40 30 53 24 90-4 50-26 53-44 50-60 34-56 6-4 4-13 6-3 24-50 6-4 4-16 6-4 4-16 6-4 4-16 40-80 0-10 6-4 4-20 10-13 0-10 6-7 4-20 10-13 0-13 6-7 4-20 6-7 4-20 20-43 0-13 6-7 4-23 6-7 4-23 6-7 4-23 10-17 0-17 10-16 0-17 16-37 4-30 10-13 0-20 10-17 0-16 10-17 0-20 10-17 0-20 6-6 4-30 10-17 0-23 10-17 0-20 6-7 4-33 10-17 0-23 6-7 4-33 6-7 4-33 10-20 0-23 10-17 0-23 6-7 4-37 10-20 0-26 6-4 4-40 6-6 4-37 6-7 4-40 6-6 4-40 6-4 4-43 6-7 4-43 3-3 7 6-4 44-6 3-4 43-6 7-4 43-6 4-4 43-6 3-4 44-10 20-10 70-10 20 0 23-10 20 0 23-6 7-4 37-10 20 0 23-6 7-14 76-10 17 0 23-10 17 0 23-6 7-4 30-10 20 0 20-10 17 0 20-6 6-4 30-10 17 0 20-10 17 0 16-6 7-4 30-6 7-4 26-10 17 0 17-10 16 0 17-6 7-4 23-10 17 0 16-6 7-4 23-6 7-4 23-10 17 0 13-16 34-4 23-20 40 0 13-10 14 0 13-6 3-4 20-6 7-4 20-10 10 0 13-6 4-4 16-6 7-4 20-6 3-4 17-10 10 0 10-30 60-10 10 0 10-6 3-4 14-40 63-50 63-63 60-60 30-83 0-7-6-20-4-83-63-70-90-4-13-6-4-24-46-6-4-60-120-10-33-10-10-4-20-16-30-10-37-10-13 0-13-10-14 0-13-10-13-4-24-6-3 0-13-10-17 0-13-10-17 0-13-10-17-14-53-6-7 0-17-10-16 0-17-10-17 0-16-10-17-10-50-10-17-4-30-6-6-4-30-6-7-4-30-6-7-4-30-6-6 0-20-10-17 0-20-10-20-4-30-6-7 0-20-10-20 0-23-10-20-4-33-6-7 0-23-10-20-4-37-6-7 0-23-10-20 0-23-10-20 0-24-10-20 0-26-10-20 0-27-10-20 0-27-10-20 0-26-10-20-4-44-6-6-4-40-6-7-4-47-6-6-4-40-6-7-4-47-6-6-4-50zM3538 3002l4 6-10 14-4-7zM3548 2982l0 20-6 3-4-10zM3565 2945l7 10-7 13zM2978 2948l10 0 34 70 86 120 54 50 30 20 30 14 13 0 7 6 66 0 67-30 27-20 66-70 34-53 6-3 14-30 6-4 4 10-44 74-40 53-53 53-67 40-60 10-46-10-40-20-80-73-70-100-4-13-16-20-4-14-6-3zM2975 2925l7 17-4 6-10-13zM2955 2882l7 13-7 10zM2945 2862l7 13-7 7zM3595 2665l7 10-10 13-4-6zM2948 2655l7-7 17 44 6 3 4 17 6 3 24 53 6 4 4 13 40 63 46 60 70 64 67 30 80-4 43-20 40-30 80-90 50-80 4-13 6-3 34-74 6-3 4 10-54 110-6 3-4 14-40 56 0 7-30 40-63 63-70 40-77 4-43-14-3-6-27-14-73-70-60-83-24-47-6-3-4-17-6-3-24-57-16-23zM3608 2642l4 3-7 20-7-10zM2942 2628l10 14-4 10-10-14zM3615 2622l0 23-7-10zM2935 2605l7 17-4 6-6-3zM2925 2582l7 13-7 10zM2915 2558l0 24-7-17zM3722 2552l3-4 3 7-3 3zM3575 2485l7 10-10 13-4-6zM3585 2465l7 10-10 13-4-6zM2972 2468l3-3 7 17 6 3 0 10 10 10 10 30 54 87 60 76 76 60 27 14 17 0 6 6 47 4 17-4 6-6 17 0 40-20 43-34 70-80 4-13 16-17 4-13 30-40 0-10 20-27 3-13 7 10-24 50-6 3-44 80-50 67-43 43-63 40-24 4-3 6-67 0-6-6-24-4-56-36-40-37-70-93-34-64-6-3 0-10-10-10-24-57-6-3zM3595 2445l3 20-6 3-4-3zM2962 2442l6 3 0 13 7 7-3 3-10-3zM2952 2422l6 3-3 20-7-20zM2945 2398l7 17-7 7-7-17zM2752 2322l3-4 3 7-3 3zM2712 2172l3-4 3 7-3 3zM3822 1995l3-3 3 6-3 4zM3812 1815l3-3 3 6-3 4zM3822 1782l3-4 3 7-3 3zM2722 1742l3-4 3 7-3 3zM2692 1625l3-3 3 6-3 4zM2632 1605l3-3 3 6-3 4zM2682 1585l3-3 3 6-3 4zM3435 1575l3 10-10 3-3-3zM3128 1575l10-3 24 26 46 30 54 20 53 0 10-6 13 0 47-24 40-33 3 10-23 23-70 40-80 4-57-24-50-40zM3125 1558l0 14-7-7zM2622 1562l3-4 3 7-3 3zM3465 1555l-7 3 0 7-10 3-3 10-10-3 7-3 0-7 10-3 3-10zM3108 1555l7-7 7 7-7 7zM3468 1542l4 3-7 10-3-10zM3102 1542l3-4 7 7-7 3zM2672 1542l3-4 3 7-3 3zM3482 1522l3-4 3 7-3 3zM3082 1515l3-3 3 6-3 4zM3492 1505l3-3 3 6-3 4zM3072 1502l3-4 3 7-3 3zM3062 1485l3-3 3 6-3 4zM3052 1472l3-4 3 7-3 3zM3522 1462l3-4 3 7-3 3zM3042 1455l3-3 3 6-3 4zM3532 1445l3-3 3 6-3 4zM3032 1435l3-3 3 6-3 4zM3022 1422l3-4 3 7-3 3zM2908 975l10 0 4 20 6 7 34 86 6 4 0 10 64 123 40 63 46 60 44 44 36 26 54 24 73 0 17-10 10 0 50-30 56-54 40-50 50-80 4-13 6-3 44-87 0-10 6-3 14-40 6-4 24-66 6-4 4 10-84 197-70 120-70 90-53 43-37 20-23 4-7 6-60 0-6-6-24-4-63-40-53-53-30-40-90-153-34-84-6-3-4-17-6-6-24-70-6-4zM3665 962l7 13-4 13-6 4-4-14zM2905 945l7 17-4 13-6-3-4-14zM3675 938l7 7-7 17-7-7zM2895 918l7 17-4 13-6-3-4-13zM3685 912l0 26-7-13zM2885 892l7 13 0 10-7 7-7-17zM3695 882l7 13-7 13zM2875 865l7 20-7 7-7-17zM3705 855l7 10-7 17zM2865 835l0 30-7-20zM3715 828l0 24-7-7zM2855 808l7 17-7 10zM3725 798l0 27-7-10zM2845 778l7 17-7 7zM3735 768l0 24-7-7zM3865 642l7 6-4 30-6 4-4-20zM3875 602l7 6-7 37-7-7zM3888 562l4 20-4 16-6 4-4-20 4-17zM2682 545l6 3 4 37 6 7 4 30 6 6 14 74 6 6 4 30 6 7 24 103 6 7 4 27 16 43 4 27 6 6 4 27 6 7 4 26 6 7 4 23 6 7 0 13 14 30 0 14 16 33 4 23 6 7 4 23 6 7 34 100 46 100 0 10 20 33 4 17 40 77 6 3 4 13 26 37 4 13 56 74 60 56 34 20 33 14 27 0 13 6 20-6 23 0 17-10 10 0 53-34 80-86 50-77 4-13 6-4 14-33 6-3 4-17 6-3 14-37 20-33 0-10 6-4 34-90 16-30 24-73 6-7 4-23 16-33 34-117 6-7 4-26 10-17 30-117 6-6 4-30 6-7 4-30 6-7 4-30 6-6 4-30 6-7 4-33 3-4 7 7-4 37-6 6-4 30-6 7-4 33-6 7-14 67-6 6-4 27-6 7-4 30-6 6-4 27-10 20-30 113-6 7-4 23-20 60-6 7-4 23-10 17 0 13-6 7-24 73-16 30-4 20-6 7-34 87-20 33 0 10-6 3-4 17-10 10 0 10-6 3-24 50-6 4-4 13-40 60-40 50-73 63-43 20-24 4-66-4-44-20-50-40-56-63-70-110-4-13-6-4-4-16-6-4-20-40-4-16-46-97 0-10-10-13-4-20-6-7-4-20-16-30-14-50-6-7-4-23-16-33-4-24-6-6 0-14-10-20-4-23-6-7-24-90-6-6-14-64-6-6-4-30-6-7-24-103-6-7-4-30-6-7-14-70-6-6-4-37-6-7-4-36-6-4-4-20zM3895 518l7 7-4 33-6 4-4-24zM2672 505l6 3 4 17-4 23-6-3-4-20zM3905 478l7 7-7 37-7-7zM4005 465l7 7-4 40-6 3-4-17zM2665 462l7 23-4 20-6-3-4-34zM3915 435l7 7-7 36-7-10zM2655 422l7 20 0 16-7 7-7-27zM4015 415l7 7-7 43-7-7zM3925 392l7 10-7 33-7-10zM2645 378l7 20 0 17-7 7-7-37zM4025 365l7 7-4 40-6 3-4-20zM3935 348l7 10-7 30-7-10zM2635 335l7 33-7 7-7-20 0-13zM2008 322l4 46 6 14 4 70 6 13 4 70 6 17 4 70 6 13 4 70 6 13 4 70 6 10 4 70 6 14 14 146 6 14 4 66 6 14 4 66 6 10 14 144 6 13 14 140 6 10 4 67 6 10 0 36 10 40 4 60 6 14 4 60 6 10 14 136 6 10 4 60 6 10 4 60 6 14 4 56 6 10 0 34 10 36 4 57 6 10 4 60 6 10 4 57 6 10 4 56 6 10 4 57 6 10 10 97 10 30 4 53 6 10 4 57 6 10 4 50 6 10 0 30 10 33 4 50 6 10 4 53 6 7 4 50 6 10 0 30 10 27 0 30 10 30 4 46 6 10 4 47 6 10 4 47 6 10 4 46 6 10 4 47 6 7 14 100 6 6 0 30 10 24 0 26 10 27 4 43 6 7 14 93 6 7 0 27 10 26 0 20 10 27 4 40 6 7 10 66 234 0 3-20 3 20 90 0 7-13 3 13 197 0-7-16-26-30 0-7-30-40-34-67-6-3-20-40 0-10-10-10 0-10-50-107-4-20-6-3-14-50-16-30-4-23-6-7-24-80-6-7-4-23-6-7-4-26-6-7-14-60-6-7-4-26-6-7-4-27-6-6-14-64-6-6-4-30-6-7-4-30-6-7-4-33-6-7-4-33-6-7 0-20-10-16 0-24-10-20-4-33-6-7-14-76-6-7 0-23-10-24 0-23-10-20-4-40-6-7 0-23-10-23 0-27-10-23-4-44-6-6-4-47-6-7-10-76-10-20 0-27-10-23-4-40-6-10 0-27-10-23 0-27-10-23 0-30-10-20-4-47-6-7-4-46-6-7-4-47-6-6-14-104-6-6 0-30-10-27 0-33-10-24 0-30-10-26-4-50-6-7 0-33-10-27 0-33-10-27 0-33-10-27 0-33-10-27-4-53-6-7 0-37-10-26 0-37-10-27 0-36-10-27-4-57-6-6 0-37-10-30 0-37-10-30 0-36-10-30-4-57-6-10 0-40-10-27 0-40-10-30-4-60-6-10 0-40-10-30 0-40-10-30 0-40-10-30 0-43-10-30 0-43-10-30 0-30zM2805 4045l7 20-7 10-7-20zM2592 2945l3-3 3 6-3 4zM2472 2922l3-4 3 7-3 3zM2462 2865l3-3 3 6-3 4zM2452 2812l3-4 3 7-3 3zM2452 2512l3-4 3 7-3 3zM2392 2155l3-3 3 6-3 4zM1788 322l4 56 6 17 4 83 6 14 4 83 6 10 4 83 6 17 4 80 6 13 4 80 6 14 4 76 6 20 4 74 6 16 4 80 6 14 4 76 6 14 4 76 6 14 14 166 6 17 4 73 6 17 4 73 6 14 4 73 6 13 4 74 6 13 4 73 6 14 14 156 6 14 14 156 6 14 24 233 6 13 4 67 6 13 4 67 6 13 0 37 10 43 4 67 6 13 4 67 6 10 4 67 6 13 4 63 6 14 14 136 6 14 4 63 6 13 4 60 6 14 4 60 6 13 4 60 6 13 4 60 6 14 0 30 10 40 4 56 6 14 4 56 6 10 4 60 6 14 14 126 6 10 7 70 153 0 0-10-6-10-4-50-6-10-4-46-6-10-4-54-6-10-14-113-6-10-4-50-6-10-4-53-6-10-4-54-6-10-4-53-6-13-4-54-6-10-4-56-6-10-4-57-6-10-4-60-6-7-4-60-6-6-14-134-6-6-14-134-6-6-4-60 7-7 7 67 6 3 4 63 6 7 4 57 6 13 4 63 6 4 4 63 6 7 4 56 6 10 4 57 6 10 4 57 6 6 4 57 6 10 4 53 6 10 4 54 6 10 4 50 6 13 4 50 6 10 4 53 6 10 4 50 6 10 4 50 6 10 4 50 6 10 0 27 10 30 14 93 106 0-10-70-6-10-4-43-6-7 0-26-10-27-4-47-6-6 0-27-10-30-4-43-6-10 0-27-10-30-4-47-6-10-4-46-6-10-4-47-6-10-14-107-6-10 0-30-10-30-4-50-6-10-4-53-6-10-4-50-6-10-4-53-6-10-4-54-6-10-4-53-6-10-4-53-6-10-4-57-6-10-4-53-6-14-4-53-6-13-4-54-6-13-4-57-6-10-14-126-6-10-4-60-6-10-4-60-6-10-4-64-6-10-4-60-6-10-4-63-6-10-4-63-6-10-4-64-6-10-4-66-6-10-4-64-6-10-4-66-6-10-4-67-6-10-4-67-6-10 0-40-10-40-14-143-6-13-14-147-6-13-4-70-6-14-4-70-6-13-4-70-6-10-4-73-6-10-4-74-6-13-4-70-6-13-4-74-6-13-4-70-6-13-4-77-6-13-4-74-3-6zM2205 2772l7 36-4 34-6-4-4-60zM2195 2702l7 33 0 30-7 7-7-34 0-30zM2185 2628l7 37 0 27-7 6-7-33 0-30zM2175 2555l7 33 0 30-7 10-7-33 0-33zM2165 2478l7 37 0 30-7 7-7-37 0-23zM2155 2408l7 34 0 26-7 7-7-33 0-27zM2145 2332l7 30 0 33-7 7-7-34 0-26zM2135 2255l7 37 0 23-7 10-7-33 0-27zM2125 2178l7 37 0 23-7 10-7-56zM2115 2105l7 30 0 23-7 20-7-63zM2105 2022l7 40-7 33-7-43zM2095 1948l7 34 0 23-7 10-7-37 0-23zM2085 1865l7 63-7 14-7-37 0-30zM2002 1845l3-3 3 6-3 4zM2075 1788l7 40-7 30-7-56zM2065 1705l7 43-7 27-7-57zM2055 1625l7 37-7 33-7-57zM2045 1542l7 56-7 14-7-37zM1962 1512l3-4 3 7-3 3zM2035 1462l7 40-7 26-7-40zM2025 1378l7 40-7 27-7-53zM2015 1295l7 37-7 30-7-40zM2005 1212l7 40-7 26-7-43zM1995 1122l7 43-7 27-7-44zM1985 1038l7 34-7 36-7-43zM1975 952l7 40-7 26-7-40zM1965 865l7 43-7 24-7-40zM1955 778l0 70-7-43zM1945 688l7 44-7 23zM1935 598l7 47-7 20-7-37zM1925 508l0 67-7-40zM1915 418l7 44-7 23zM1905 328l0 67-7-40zM1568 322l4 53 6 13 0 57 10 40 4 87 6 13 0 53 10 44 0 53 10 43 0 54 10 43 0 53 10 40 4 87 6 10 4 83 6 14 4 83 6 10 4 83 6 14 0 53 10 40 4 80 6 13 0 54 10 40 0 50 10 43 4 77 6 13 0 50 10 43 0 54 10 36 0 54 10 36 0 50 10 40 0 50 10 40 0 50 10 40 4 77 6 10 0 47 10 43 4 73 6 14 0 53 10 33 10 134 10 40 4 73 6 10 4 73 6 10 0 50 10 37 0 47 10 36 4 74 6 10 4 73 6 10 0 43 10 40 4 70 6 10 4 70 6 10 4 70 6 10 4 70 6 10 0 47 10 33 4 67 6 10 0 43 10 37 4 67 3 6 223 0-6-20-4-56-6-10-4-60-6-10-14-130-6-10-4-64-6-10-4-63-6-13-4-60-6-14-4-60-6-13-4-63-6-10-14-140-6-10-4-67-6-13-4-67-6-10-4-67-6-13-4-63-6-14-4-66-6-14-4-66-6-14-4-70-6-10-4-70-6-13-4-67-6-16-4-67-6-13-4-70-6-14-4-70-6-13-4-73-6-14-14-156-6-14-4-76-6-14-4-70-6-13-4-80-6-10-4-77-6-13-4-77-6-13-4-73-6-17-4-77-6-13-4-80-6-10-4-80-6-13-4-80-6-14-4-80-6-13-4-80-6-13-4-80-6-17-4-77-6-20-14-173-6-17 0-46-10-54-14-166zM1332 322l0 1553 6 3 4 124 6 20 14 270 6 16 4 124 6 23 14 257 6 26 4 114 6 23 4 120 6 20 4 120 6 17 14 256 6 20 4 117 6 20 4 117 6 16 4 120 6 20 4 114 6 16 4 117 3 13 173 0-6-30-4-110-6-23-4-113-6-20 0-64-10-73-4-113-6-24-4-110-6-26-4-117-6-20 0-73-10-70-4-117-6-20-4-120-6-20 0-73-10-70 0-74-10-73-4-120-6-20 0-77-10-70-4-123-6-23 0-77-10-73-14-277-6-20-4-130-6-23-4-134-6-20 0-80-10-76-4-134-6-20-4-130-6-26-4-134-6-26-4-137-6-23-10-250z"/><path fill="rgb(218,218,218)" d="M5728 3545l-6 40 0 80-10 90 0 67-20 276 26 0 4-50 6-3zM1332 2142l0 513 6 3 0 67-6 3 0 720 6 4 4 26 0 107-10 7 0 506 36 0 4-86 6 3 4 83 50 0 3-50 3 50 37 0-7-43 0-73-10-57 0-73-10-70 0-67-10-67 0-76-10-60 0-70-10-67-10-217-10-56 0-84-10-60 0-76-10-67 0-70-10-70 0-77-10-63 0-77-10-66 0-80-10-67 0-70zM1362 3875l6 3 4 24-4 113-6-3-7-130zM1345 3592l7 30 0 106 6 7 4 30 0 97-7 10-7-34 0-100-6-3-4-130zM5728 1362l-6 26 0 94-10 63 0 97-10 63 0 97-10 76 0 84-10 70 0 86-10 74 0 83-10 70 0 87-10 70 0 86-10 70 0 87-10 70 0 87-10 63 0 90-10 63 0 90-10 67 0 87-7 33-3 117-10 70 0 80-10 70 0 83-10 67 0 86-10 67 0 63 50 0 3-16 3 16 50 0 10-110 0-73 10-80 0-80 10-80 0-80 10-80 0-80 10-73 14-284 6-3 0-783-6-4 0-86 6-4zM5728 322l-50 0-3 106-3-106-54 0 0 20-6 10 0 113-4 33-6 7 0 113-10 67 0 83-10 67 0 80-10 67-4 113-6 10 0 113-10 40 0 100-10 54 0 93-10 43 0 110-10 47 3 20-13 137 0 76-10 57 0 93-10 67 0 77-10 43 3 23-13 137 0 80-10 67 0 70-10 70-10 213-10 77 0 63-7 27-3 113-10 67 0 63-10 80 0 63-10 70 0 67-10 70 0 70-10 67 0 66-7 27-10 173 67 0-4-50 7-36 7 33-4 53 64 0 6-53 0-83 10-64 0-83 10-60 0-87 10-66 0-77 10-63 0-84 10-63 0-83 10-64 0-86 10-64 0-86 10-57 0-93 10-70 0-80 10-67 0-87 10-60 0-86 10-67 0-87 10-63 0-90 10-70 0-87 10-56 0-94 10-66 0-90 10-64 0-93 10-70 0-83 10-67 0-97 10-63 0-90 10-73 0-84 10-70 4-123 6-3zM5435 3872l7 23 0 50-7 33-7-36zM5445 3728l7 30 0 47-7 33-7-30 0-43zM5455 3592l7 30 0 43-7 30-7-33zM5465 3448l7 40-7 70-7-36zM5475 3302l7 33-7 83-7-33zM5485 3162l7 40-7 70-7-40zM5495 3018l7 37-7 70-7-37zM5505 2875l7 47-7 66-7-36zM5515 2728l7 44-7 70-7-40zM5525 2582l7 43-7 70-7-40zM5535 2438l7 37-7 77-7-44zM5545 2282l7 50-7 70-7-40zM5555 2138l7 44-7 73-7-40zM5565 1992l7 40-7 73-7-63zM5575 1842l7 73-7 37-7-57zM5585 1692l7 40-7 73-7-60zM5595 1548l7 34-7 73-7-63zM5605 1395l7 37 0 43-7 30-7-30 0-43zM5615 1238l7 47-7 67-7-44zM5645 785l0 103-7-50zM5655 638l7 57-7 43zM5665 475l0 107-7-37zM5608 322l-76 0-10 80 0 93-10 57 0 86-10 54 0 90-10 50 0 90-10 56 0 87-10 57 0 83-10 57 0 83-10 60 0 80-10 57 0 83-10 53 0 84-10 56 0 80-10 54 0 86-10 50 0 84-10 50 0 86-10 50 0 84-10 53 0 83-10 50 0 84-10 50 0 83-10 50 0 80-10 57 0 73-10 50 0 83-10 50 0 80-10 50 0 77-10 50 0 80-10 50 0 80-10 47 0 80-10 50 0 76-10 47 0 43 86 0 0-46 10-60 0-74 10-63 0-70 10-67 0-63 10-77 0-56 10-74 0-73 10-67 4-96 6-17 0-87 10-70 10-210 10-63 0-73 10-50 0-94 10-53-3-13 13-144 0-66 10-57 0-83 10-64 0-83 10-73 0-74 10-53 0-83 10-67 10-230 10-57 0-83 10-60 0-93 10-54 0-93 4-27 6-10 0-120 10-63 4-107 6-6-3-27 7-120 6-7 0-110 4-33zM5518 322l-223 0-3 90-10 50 0 63-10 50 0 67-10 46 0 64-10 43 0 67-10 50 0 60-7 23-3 87-10 50 0 60-10 43 0 63-10 44 0 63-10 40 0 63-10 44 0 63-10 40 0 63-10 37 0 63-10 40 0 60-10 37 0 63-10 37 0 63-10 37 0 60-10 37 0 56-10 40 0 57-10 33 0 57-10 37 0 56-10 34 0 56-10 34 0 53-10 30 0 57-10 30 0 53-10 30 0 53-10 27 0 53-10 27 0 50-10 27 0 46-10 27 0 47-10 23 0 43-10 24 0 40-10 20 0 36-10 20 0 30-10 17 0 20-10 10-7 0-7-10 0-310 10-90 0-273 10-84 0-96 10-67 0-90 10-67 0-80 10-63 0-77 10-53 0-80 10-50 0-100 10-57 0-93 10-60 0-97 10-56 0-97 10-53 0-97 10-60 0-90 10-60 0-90 10-63 0-87 10-67 0-83 10-60 0-90 10-57 0-93 10-57 0-93 7-33-97 0-3 43-3-43-44 0-3 53-3-53-100 0 0 36-10 50 0 60-10 50 0 60-10 50 0 60-10 50 0 60-10 50 0 57-10 53 0 54-10 50 0 56-10 47 0 60-10 43 0 60-10 44 0 63-10 47 0 56-10 44 0 60-10 46 0 57-10 43 0 57-10 47 0 56-10 40 0 57-10 47 0 56-7 20-3 77-10 43 0 57-10 43 0 54-10 43 0 57-7 20-3 73-10 43 0 54-10 46 0 50-10 40 0 54-10 40 0 53-10 40 0 53-10 40 0 54-10 40 0 50-10 40 0 53-10 33 0 57-10 37 0 56-10 34 0 50-10 40 0 50-10 40 0 50-10 36 0 50-10 37 0 47-10 40-4 56 140 0 7-40 7 17 0 23 56 0 0-30 7-23 7 17 0 36 56 0 7-63 7 27 0 36 240 0 3-26 3 26 50 0 7-46 7 13 0 33 160 0 6-40 0-76 10-47 0-77 10-46 0-80 10-47 0-80 10-47 0-76 10-50 0-80 10-47 0-80 10-50 0-80 10-47 0-83 10-47 0-80 10-56 0-77 10-50 0-80 10-50 0-83 10-50 0-84 10-46 0-87 10-50 0-83 10-50 0-84 10-53 0-83 10-50 0-87 10-53 0-84 10-53 0-83 10-54 0-83 10-50 0-90 10-57 0-83 7-27 3-113 10-60 0-83 10-57 0-83 10-57 0-87zM4625 3962l7 20 0 33-7 23-7-23 0-33zM5075 3938l7 34-7 50-7-30zM4695 3935l7 10 0 60-7 23-7-16 0-50zM4765 3915l7 17 0 43-7 33-7-26 0-37zM4898 3885l7-7 7 7-7 7zM4635 3862l7 20 0 33-7 23-7-23 0-33zM5085 3828l7 37-7 47-7-34zM4705 3825l7 17 0 56-7 30-7-16 0-57zM4775 3788l7 34-7 63-7-30zM4645 3762l7 20 0 30-7 23-7-20 0-33zM5095 3722l7 23-7 53-7-36zM4715 3715l7 7 0 63-7 27-7-10 0-57zM4785 3675l7 20-7 63-7-26 0-30zM4655 3658l7 20 0 30-7 24-7-20 0-34zM5105 3615l7 37-7 40-7-27zM4725 3598l7 20 0 54-7 30-7-14 0-53zM4665 3555l7 23 0 30-7 20-7-20 0-30zM4795 3545l7 37-7 60-7-37zM5115 3498l7 37-7 50-7-50zM4735 3492l7 20 0 53-7 30-7-23 0-47zM4675 3455l7 20 0 30-7 20-7-20 0-30zM4805 3422l7 36-7 54-7-34zM5125 3395l7 40-7 40zM4745 3385l7 10 0 53-7 34-7-24 0-43zM5075 3372l7 53-7 17zM4685 3348l7 24 0 26-7 24-7-24 0-26zM4815 3302l7 33-7 57-7-34zM4755 3272l7 20 0 46-7 27-7-17 0-50zM4695 3245l7 20 0 30-7 23-7-23 0-30zM4825 3172l7 46-7 40-7-33zM4765 3162l7 20 0 40-7 33-7-20 0-50zM4705 3138l7 24 0 30-7 20-7-20 0-30zM5155 3058l0 77-7-50zM4835 3055l7 50-7 30zM4775 3048l7 20-7 80-7-26 0-44zM4715 3035l7 23-7 47-7-23zM4785 2932l7 26 0 37-7 27-7-17 0-43zM4725 2932l7 20 0 26-7 20-7-20 0-26zM4795 2822l7 20 0 36-7 27-7-23 0-34zM4735 2822l7 23-7 50-7-27zM4745 2715l7 23-7 50-7-26zM4805 2702l7 36-7 60-7-23zM4755 2608l7 24 0 23-7 20-7-20zM4815 2592l7 26 0 30-7 27-7-27zM4765 2502l7 20-7 46-7-26zM4825 2468l7 34 0 36-7 24-7-20zM4775 2388l7 27-7 40-7-23zM4835 2355l7 30-7 60-7-37zM4785 2278l7 27-7 43-7-26zM4845 2238l7 34-7 56-7-23zM4795 2172l7 23-7 40-7-23zM4855 2125l7 33-7 50-7-26 0-30zM4805 2058l7 24-7 43-7-27zM4865 2002l7 40-7 53-7-37zM4815 1948l7 24-7 40-7-24zM4875 1878l7 50-7 44-7-34zM4825 1832l7 26-7 40-7-26zM4885 1772l7 30-7 43-7-23zM4835 1722l7 30-7 33-7-27zM4895 1648l7 27-7 60-7-40zM4845 1608l7 27-7 37-7-27zM4905 1522l7 33-7 57-7-57zM4855 1495l7 30-7 30-7-30zM5322 592l3-4 3 7-3 3zM5402 545l3-3 3 6-3 4zM5412 422l3-4 3 7-3 3zM4798 322l-86 0-10 56 0 54-10 43 0 53-10 47-10 147-10 43 0 53-10 44-10 150-10 46 0 44-10 50-10 140-10 43 0 50-10 40 0 50-10 43 0 47-10 40 0 50-10 47-10 130-10 43 0 47-10 43 0 47-10 40 0 46-10 40 0 47-20 123-10 130-10 37 0 50-10 40 0 43-10 37 0 40-20 123 0 40-10 40-10 120-10 37 0 43-10 34 0 43-10 40 0 37-10 36 0 44-10 33 0 40-20 113 0 40-10 34-10 113-10 33 0 37-7 20-3 53-10 37 0 33-10 37 0 33-7 17-3 53-10 50 133 0 3-63 10-37 0-46 10-34 0-46 10-37 0-43 10-37 0-47 10-36 0-47 10-37 0-46 10-37 10-133 10-40 0-47 10-37 0-50 10-36 0-50 10-40 0-47 10-37 0-53 10-40 0-47 10-43 0-50 10-37 0-53 10-37 0-53 10-43 0-50 10-40 0-54 10-36 0-54 10-43 0-53 10-40 0-54 10-40 0-56 10-44 0-50 10-40 0-56 10-47 0-53 10-44 0-53 10-43 10-154 10-43 0-57 7-20 3-80 10-50 0-53 10-43 0-57 10-47 0-60 10-40 0-60 10-46 0-57 10-50 0-57 10-46 0-57 10-50 0-57 10-46zM4688 322l-70 0-3 16-3-16-57 0-3 63-10 43 0 44-10 46 0 40-10 44 0 43-10 43 0 44-7 16-3 64-10 46 0 40-10 40 0 44-10 40 0 40-10 40 0 43-20 120 0 43-20 114 0 43-10 40 0 40-10 37 0 40-10 33 0 43-10 37 0 40-10 30 0 43-10 37 0 40-10 37-10 110-10 33 0 40-10 30 0 40-10 33 0 40-20 104 0 36-10 34 0 36-7 14-3 53-10 30 0 40-10 30 0 37-10 30 0 36-10 30 0 37-10 30 0 37-10 30 0 33-10 30 0 33-10 30 0 34-10 30 0 33-7 13-3 47-10 30 0 33-10 30 0 30-10 27 0 33-10 30 0 30-10 24 0 33-10 27 0 30-10 26 0 34-10 23 0 30-10 27-10 86-10 24 0 30-10 26 0 27-10 27 0 26-10 27 0 27-10 26 0 24-10 36 86 0 10-30 0-30 10-30 4-43 6-10 10-97 10-26 0-34 10-23 0-37 10-30 0-33 10-27 0-33 10-33 10-94 10-30 0-36 10-34 0-30 10-23 0-43 10-27 0-40 10-23 0-44 10-36 0-30 10-27 0-43 10-34 4-53 6-7 0-46 10-27 0-43 10-27 4-60 6-10 0-47 10-20 0-53 10-27 0-46 4-14 6-3 0-57 10-26 0-47 7-20 7 3 0 57-10 20 0 57-10 20-4 70-6 3-4 70-6 3 0 50-10 30 0 44-10 30 0 43-10 27 0 43-10 37 0 36-10 34 0 36-10 24 0 43-10 30 0 37-10 36 0 34-10 26 0 40-10 30 0 37-10 33-4 50-6 14 0 33-10 33 0 34-10 33-10 93-10 30 0 30-10 34-4 43-6 13 0 34-10 33 0 30-7 13-3 44-14 66 117 0 3-6 0-30 20-104 0-36 10-34 0-33 10-40 10-100 10-37 0-36 7-17 3-53 10-40 0-37 10-33 10-114 10-36 0-40 10-37 0-37 7-16 3-60 7-17 3-60 10-43 0-34 10-40 0-40 10-33 0-47 20-116 0-40 10-37 0-43 10-37 0-47 10-40 10-123 10-40 0-47 10-36 0-47 20-127 0-43 10-40 0-47 10-40 0-46 10-44 0-43 10-43 0-44 10-46 10-134 10-40 0-53 10-47 10-136 10-44 0-46 10-47 0-47 10-46 10-144 10-43 0-53 10-44 10-150 20-143zM4378 2278l4 64-7 16-10-13 7-63zM4385 2202l7 6 0 54-4 16-6 4-4-60zM4405 2048l7 7-4 70-6 3 0 57-4 17-6 3-4-60 4-17 6-6 0-54zM4415 1968l7 10 0 50-7 20-7-6 0-50zM4425 1888l7 7 0 50-7 20-7-7 0-46zM4438 1808l4 57-7 20-7-7 4-66zM4448 1732l4 53-7 27-7-7 0-53 4-17zM4455 1648l7 7 0 50-7 20-7-7 0-46zM4465 1562l7 10 0 53-7 20-7-7 0-53zM4475 1485l7 10 0 47-7 23-7-17 0-40zM4542 1405l3-3 3 6-3 4zM4485 1398l7 7 0 53-7 24-7-17 0-43zM4495 1315l7 10 0 47-7 26-7-16 0-40zM4552 1292l3-4 3 7-3 3zM4505 1235l7 7 0 43-7 27-7-10 0-47zM4515 1145l7 7 0 50-7 26-7-10 0-50zM4525 1062l7 10 0 46-7 24-7-14 0-40zM4535 978l7 14 0 40-7 23-7-17 0-36zM4545 885l7 13 0 44-7 26-7-16 0-37zM4555 802l7 13 0 40-7 23-7-13 0-40zM4612 772l3-4 3 7-3 3zM4565 715l7 10 0 40-7 27-7-10 0-47zM4575 625l7 10 0 40-7 30-7-17 0-43zM4585 532l7 13 0 40-7 30-7-13 0-44zM4595 445l7 13 0 44-7 20-7-14 0-43zM4605 355l7 10 0 40-7 27-7-20 0-37zM4522 322l-170 0 0 36-10 30 0 40-10 30 0 44-10 30 0 40-10 30 0 40-10 26 0 44-10 26 0 40-10 30 0 40-10 27 0 40-10 27 0 40-10 26 0 40-10 27 0 37-10 26 0 40-10 27 0 37-10 26 0 37-10 23 0 37-10 27 0 36-10 27 0 33-10 27 0 37-10 23 0 33-10 27 0 33-10 24 0 33-10 23 0 37-10 20 0 37-10 23 0 33-10 24 0 30-10 23 0 33-10 20 0 34-10 23 0 30-10 20 0 33-10 20 0 30-10 24 0 30-10 20 0 30-10 23-10 77-10 20-10 76-10 20 0 27-10 20 0 27-10 20 0 26-10 20 0 27-10 20 0 23-10 20 0 24-10 20-10 66-10 17-10 67-10 16 0 24-10 16 0 24-10 16 0 24-10 16 0 20-10 17 0 23-10 17 0 20-10 13 0 24-10 13-10 57-10 13 0 20-10 17 0 16-10 17 0 17-10 16-10 50-10 14 0 16-10 17 0 13-10 17-10 43-10 14 0 16-20 40 0 17-10 10 0 13-10 14-10 40-10 13 0 10-10 13 0 10-60 130-60 104-50 66 180 0 53-136 7 3 0 17-10 10 0 16-20 40 0 17-10 13-4 20 77 0 3-26 10-14 0-20 7-10 7 4 0 23-10 10-4 33 64 0 3-10 3 10 137 0 3-36 10-24 0-26 10-20 0-27 10-23 0-27 10-23 0-24 10-26 0-27 10-23 0-27 10-23 0-30 10-24 0-26 20-80 0-30 10-24 0-30 10-26 0-27 10-27 0-30 10-26 0-30 10-27 0-30 10-27 0-30 10-26 0-34 10-26 0-34 10-26 0-34 10-23 0-37 10-26 10-97 10-27 0-36 10-27 0-37 10-26 0-37 10-27 0-36 10-30 0-37 10-30 0-37 10-26 0-40 7-14 3-53 10-30 0-37 10-33 0-37 10-33 0-37 10-33 0-37 20-103 10-110 10-33 0-40 10-34 0-40 10-33 10-117 10-33 0-40 10-37 0-40 10-36 0-40 10-37 4-60 6-17 0-43 10-40 0-40 10-30 0-50 7-17 3-60 10-36 0-44 10-46 0-40 10-37 0-43 10-40 0-44 10-40 0-43 10-40 0-43 10-47zM3825 4052l7 10 0 13-7 10-7-10 0-13zM3835 4015l7 10-7 23-7-10 0-13zM3845 3975l7 10 0 13-7 10-7-10 0-13zM3855 3938l7 10-7 20-7-10zM3705 3932l7 6 0 14-10 10-4-20zM3785 3928l7 7 0 20-10 13 0 20-10 14 0 20-10 10-4-27 10-13 0-20 10-10 0-24zM3718 3905l4 17-10 10-4-20zM3865 3898l7 10-7 20-7-10zM3795 3892l7 6 0 20-10 10-4-23zM3725 3872l7 6 0 17-7 10-7-7 0-16zM3808 3858l4 24-10 10-4-24zM3875 3855l7 13-7 20-7-10zM3735 3842l7 6 0 14-10 10-4-20zM3815 3822l7 6 0 17-10 13-4-26zM3885 3815l7 13-7 17-7-10zM3745 3812l7 6-7 24-7-7 0-13zM3825 3785l7 7 0 16-7 14-7-7 0-20zM3755 3778l7 10-7 20-7-10zM3895 3775l7 10-7 20-7-10zM3835 3745l7 7 0 20-7 13-7-7 0-20zM3765 3745l7 10-7 20-7-7zM3905 3732l7 10-7 20-7-14zM3775 3715l7 7-7 20-7-10zM3845 3708l7 7 0 17-7 13-7-7 0-16zM3915 3688l7 14-7 16-7-13zM3785 3678l7 14-7 16-7-10zM3855 3668l7 14 0 13-7 10-7-7 0-16zM3925 3645l7 10-7 20-7-17zM3795 3645l7 10-7 20-7-17zM3865 3628l7 14 0 13-7 10-7-7 0-16zM3805 3608l7 14-7 16-7-10zM3935 3598l7 14-7 16-7-13zM3875 3588l7 14-7 23-7-10zM3815 3572l7 13-7 17-7-17zM3945 3555l7 10-7 20-7-20zM3885 3548l7 10-7 27-7-10zM3955 3508l7 17-7 13-7-13zM3895 3505l7 10-7 27-7-7 0-17zM3835 3498l7 17-7 13-7-13zM3965 3462l7 13-7 17-7-17zM3905 3462l7 13-7 23-7-10zM3845 3462l7 13-7 17-7-14zM3915 3422l7 10-7 23-7-10zM3925 3378l7 14-7 20-7-10zM3875 3342l0 30-7-17zM3935 3332l7 20-7 20-7-14zM3945 3288l7 14-7 23-7-17zM3995 3052l0 36-7-13zM4072 2412l3-4 3 7-3 3zM4082 2345l3-3 3 6-3 4zM4172 2335l3-3 3 6-3 4zM3002 335l10 10 10 27 50 83 56 73 67 60 40 20 13 0 24 10 43 0 73-30 70-63 60-80 67-123-67 0-3 6-3-6-80 0-17 20-37 26-56 24-60 0-17-10-13 0-37-20-43-40-74 0-3 16-3-16-70 0zM3128 402l7-4 7 10-7 4zM3118 392l7-4 7 10-7 4zM3472 385l-4 10-10 3 0 7-60 57-53 30-17 0-13 6-47 0-50-16-33-20-47-47 7-7 17 20 60 40 10 0 16 10 67 4 23-4 44-20 40-30 43-46zM3108 385l7-7 7 10-7 4zM3468 378l7-10 7 7-7 7zM3102 368l3-3 7 10-7 3zM3478 365l7-7 7 7-7 7zM3088 355l7-3 3 10-3 3zM3078 345l7-7 7 7-7 7zM2882 322l20 60 10 13 0 13 10 14 0 13 10 13 0 10 10 14 20 56 20 34 0 10 50 96 50 80 10 7 30 43 63 60 57 30 23 0 17 7 56-7 57-30 73-70 40-53 60-100 0-10 10-10 10-30 20-30 0-10 50-107 0-13 10-13 0-10 20-44 0-13 10-13 0-10-96 0-70 133-40 53 0 7-70 77-40 30-40 20-17 0-13 6-40 0-14-6-16 0-57-30-57-54-90-123-50-97-3-16zM2635 322l57 230 0 16 20 60 10 60 10 20 0 17 20 60 0 17 10 16 0 17 10 20 10 53 10 17 10 50 10 17 0 16 10 17 10 47 10 16 0 14 10 16 10 44 10 13 10 43 10 14 0 13 20 40 0 13 10 14 0 10 10 13 0 10 30 60 0 10 50 103 60 100 30 40 50 54 33 26 57 30 63 4 53-14 57-40 43-43 50-67 50-83 80-170 30-87 10-13 0-13 10-14 10-43 10-13 0-14 30-76 10-47 10-17 4-23 6-7 0-16 10-17 0-17 20-53 0-17 10-20 0-16 10-20 0-17 30-93 0-17 7-10 3-30 7-10 3-30 7-10 3-30 20-63 0-20 10-24 0-20 10-20 0-23 7-10 3-33 10-30-66 0-7 20-7-7 0-13-76 0 0 10-10 16 0 17-10 13 0 17-10 17 0 16-10 14 0 16-20 44 0 16-10 14 0 16-20 40 0 17-10 13-10 37-10 13 0 14-30 60 0 13-90 180-60 90-60 63-24 34-30 20-43 0-27 10-63-10-77-50-60-67-50-70 0-10-40-60 0-10-30-50 0-13-10-10 0-10-20-34 0-13-10-10 0-13-20-37-10-40-10-10-10-43-10-14-10-43-10-13 0-17-20-43 0-17-10-13 0-17-10-17 0-16-10-14-10-46-80 0 4 30-7 6-7-13 4-23zM3308 1545l14-7 23 4-10 10-20 0zM3232 1545l6-7 34 7-7 7-23 0zM3345 1538l10-10 13 7-10 7zM3208 1535l7-7 17 7-7 7-10 0zM3365 1528l10-10 7 4-7 10zM3192 1522l6-4 14 7-10 7zM3398 1512l-3 6-13-3 13-7zM3178 1515l7-7 7 10-7 4zM3165 1505l10-3 3 6-3 4zM3398 1505l7-7 7 4-7 10zM3408 1495l14 0-7 7zM3422 1488l3-6 7 3-7 7zM3432 1475l3-3 3 6-3 4zM3522 1472l-14 30-46 63-54 53-73 44-47 6-46-6-70-40-64-64-50-70 0-6 7-4 67 87 63 53 40 20 60 10 47-10 66-40 60-60 0-6 30-34 10-23 7-7zM3132 1472l3-4 7 7-7 3zM3528 1455l4 10-10 7-4-10zM3045 1445l17 27-4 10-20-24zM3538 1438l4 10-7 10-7-13zM3032 1428l10 7-4 13-10-10zM3545 1418l7 10-10 10-4-6zM3022 1412l10 10-4 10-10-10zM3555 1402l3 16-6 4-4-7zM3015 1392l7 13-4 7-10-7zM3565 1382l7 10-7 10-7-7zM3005 1375l7 10-7 10-7-10zM3575 1365l7 10-7 7-7-7zM2995 1355l7 10-7 10-7-10zM3585 1342l0 20-7-7zM2985 1335l7 10-7 7-7-7zM2975 1312l7 13-7 10-7-10zM2832 955l3-3 3 6-3 4zM3782 812l3-4 3 7-3 3zM3778 635l4 23-10 10-4-23zM2795 612l7 13 0 20 10 10 0 20 10 13 0 20 6 4 4 26 10 14 0 16 10 14 0 16 10 14 0 13 20 43 0 14 10 13 0 13 16 34 4 20 10 13 0 10 40 87 0 10 30 53 0 10 10 10 0 10 10 10 0 10 70 113 40 50 66 60 60 30 80 0 50-23 37-27 43-43 50-67 40-63 60-120 0-10 50-107 10-36 10-14 10-40 10-13 0-17 20-43 10-43 10-14 0-20 10-13 14-57 10 0 0 24-10 13 0 20-10 17 0 16-20 44 0 20-10 13 0 13-20 44 0 13-10 13 0 14-10 16-10 40-10 14 0 10-10 13-10 37-40 80 0 10-90 163-54 70-73 67-37 20-13 0-20 10-53 0-20-10-14 0-63-40-47-47-30-43-10-7-90-153 0-10-20-34 0-10-50-106 0-10-50-124 0-13-20-47 0-16-10-14 0-16-20-44 0-20-10-13 0-20-10-13 0-17-10-17 0-20zM2782 578l10 10-4 27-10-10zM3795 565l7 7 0 20-10 13 0 20-10 10-4-23 10-14 0-20zM2775 542l7 13-4 27-10-14 0-20zM3808 532l4 23-10 13-4-26zM2762 508l10 10-4 27-10-10zM3818 495l4 23-7 17-7-7 0-20zM2755 472l7 13-4 23-10-10 0-20zM3825 458l7 7 0 20-10 10-4-23zM2745 435l7 13 0 17-7 7-7-10 0-20zM3835 422l7 6 0 20-7 10-7-6 0-17zM2732 398l10 14 0 16-7 7-7-13zM3845 385l7 7 0 16-7 14-7-7 0-17zM2725 358l7 14 0 20-7 6-7-13 0-17zM3855 348l7 7-7 27-7-7zM2542 322l0 30 10 23 0 30 10 20 0 30 10 20 0 27 10 20 0 30 10 20 0 26 10 20 0 27 10 20 0 27 10 20 0 23 10 20 0 27 10 16 0 27 10 17 0 26 10 17 0 27 10 16 10 67 10 17 0 23 10 17 0 23 10 17 0 23 10 17 0 23 10 13 0 24 10 13 0 23 10 17 0 20 6 7 4 26 10 17 0 20 20 50 0 20 10 13 10 50 10 14 0 20 10 13 0 17 10 13 10 47 10 13 10 43 10 14 0 13 10 13 0 17 10 10 10 40 10 10 10 40 10 10 0 13 20 34 0 10 20 33 0 10 10 10 0 10 10 10 0 10 10 10 30 60 50 73 53 60 30 20 7 10 60 30 86 0 14-10 13 0 80-60 73-93 90-163 0-10 20-34 0-13 10-10 0-10 20-37 0-13 20-37 0-16 10-14 0-13 10-10 0-17 10-13 0-13 10-14 0-16 10-14 0-16 10-14 0-16 10-14 0-16 10-14 0-16 10-17 0-17 10-16 0-17 20-50 0-20 10-13 0-20 10-17 0-20 10-13 10-60 10-14 0-23 10-17 0-23 10-17 0-20 10-16 0-24 10-20 0-20 10-16 0-27 10-17 0-23 10-20 0-23 10-17 0-27 10-16 0-27 10-20 0-23 10-20 0-27 10-20 0-23 10-24 0-26 10-17 0-30 10-20 0-27 10-20 0-30 10-20 0-30 10-23 0-27 10-20 0-26-76 0-10 63-20 67 0 20-10 20 0 23-10 23 0 20-10 20 0 20-10 24 0 20-10 20-10 56-10 20 0 20-10 17 0 23-10 17 0 20-10 17 0 16-10 20 0 17-10 20-10 50-10 17 0 16-10 20-10 47-10 17-10 46-10 17-10 43-10 14-10 43-10 17-40 116-10 14 0 10-40 90-70 133-80 110-37 37-40 30-43 20-30 3-60-3-14-10-13 0-57-40-70-77-100-167 0-10-20-33 0-10-10-10 0-10-30-60-10-37-10-13 0-10-30-70 0-13-10-14 0-13-10-17 0-13-10-17-10-43-10-17-10-46-10-17-10-50-10-17 0-16-10-17-10-50-10-20 0-17-10-20 0-16-10-20 0-17-10-20 0-20-10-17-10-60-10-16 0-24-20-60 0-23-10-20 0-20-20-63 0-27-10-20 0-20-10-23-10-50zM3348 2085l7-7 7 7-7 7zM3252 2035l10-7 50 0 10 7-17 7-40 0zM3325 2025l10-7 10 0 7 7-14 7zM3218 2025l7-7 20 7-7 7zM3352 2015l13-7 7 7zM3198 2015l7-7 13 7zM3185 2005l17 0-7 7zM3388 1995l7-7 7 7zM3402 1988l3-6 7 3-7 7zM3298 1965l27-7 7 7-7 7zM3238 1965l10-7 24 7-14 7zM2282 322l0 40 10 23 0 43 10 24 0 40 10 23 0 40 10 23 0 40 10 24 0 40 10 20 0 40 10 23 0 40 10 20 0 40 10 23 0 37 10 20 0 37 10 23 0 37 10 23 0 33 10 24 0 36 10 20 0 34 10 23 0 33 10 24 0 33 10 20 0 33 10 24 0 30 10 23 0 30 10 20 0 33 10 20 0 34 10 20 0 33 10 17 0 33 10 17 0 33 10 17 0 30 10 20 0 30 10 20 0 26 10 20 0 27 10 20 0 30 10 17 0 26 10 20 0 27 10 17 0 26 10 17 0 27 10 20 10 66 10 17 0 27 10 16 0 24 10 16 0 24 10 20 0 20 10 16 0 24 10 16 0 24 10 16 0 20 10 17 0 23 10 14 0 23 10 13 0 20 10 17 0 20 10 17 0 16 10 17 0 20 10 13 0 17 10 17 10 50 10 13 0 17 10 13 0 17 10 13 0 20 10 10 0 17 10 13 10 43 10 14 0 13 10 13 0 14 10 13 10 40 10 10 0 13 10 14 10 33 10 10 0 13 10 10 0 10 50 100 20 27 0 10 40 60 50 63 70 60 40 20 20 0 33 10 30-10 20 0 70-40 53-53 57-77 3-13 40-60 10-30 10-7 0-10 20-33 0-10 10-10 20-57 10-10 0-13 20-37 0-13 10-13 0-14 10-13 0-13 20-40 0-17 10-10 0-17 10-13 0-17 10-13 0-17 20-43 0-20 10-13 0-17 10-17 0-16 10-14 0-20 10-13 0-20 20-50 0-20 10-17 0-20 10-16 0-20 10-17 0-20 10-17 0-23 10-17 10-60 10-16 0-24 10-20 0-23 10-17 0-23 10-17 0-26 10-17 0-23 10-20 0-27 10-17 0-26 10-20 0-24 10-20 0-26 10-20 0-27 10-20 0-27 10-20 0-26 10-20 0-30 10-20 0-27 10-23 0-30 10-17 0-33 10-20 0-30 10-20 0-30 10-24 0-30 10-23 0-30 10-23 0-30 10-24 0-33 10-20 0-33 10-24 0-33 10-23 0-34 10-23 0-33 10-24 0-33 10-27 0-33 10-23 0-37 10-27 0-33 10-23 0-37 10-20 0-40 10-27 0-36 10-27 0-37 10-26 0-37 10-23 0-40 10-27 0-37 10-26 0-40 10-27 0-40 7-23-200 0-3 6 0 30-10 20 0 30-10 20 0 30-10 24 0 26-10 20 0 30-10 20 0 30-10 20 0 27-10 20 0 27-10 20 0 26-10 20 0 27-10 20 0 23-10 20 0 27-10 17 0 26-10 17 0 27-10 16-10 67-10 17 0 23-10 17 0 23-10 17 0 23-10 17 0 23-10 17 0 20-10 16 0 20-10 17 0 20-10 17 0 20-10 16-10 57-10 13 0 20-10 14 0 16-10 17 0 20-10 13 0 17-10 13 0 17-10 17 0 16-10 14 0 16-10 14-10 43-10 13 0 17-10 10 0 13-10 14 0 13-20 40 0 13-10 14 0 10-10 13-20 57-10 10 0 13-10 10 0 10-10 10 0 10-10 10 0 10-10 10 0 10-20 27-20 43-50 70-87 87-60 30-80 0-17-10-10 0-60-40-43-44-47-66-10-7-3-13-27-37 0-10-20-27-40-80-10-33-10-10 0-10-20-37 0-13-10-10 0-13-10-14 0-13-10-10-10-43-20-40 0-17-10-10 0-20-10-10-10-47-10-13 0-20-20-43 0-20-10-14 0-16-10-17 0-20-10-13-10-57-10-13 0-20-10-17 0-20-10-17 0-23-10-13 0-24-10-13 0-23-10-17 0-23-10-17 0-20-10-20 0-23-10-17 0-27-10-16-10-67-10-17 0-26-10-17 0-27-10-20 0-23-10-20 0-27-10-20 0-26-10-17 0-30-10-20 0-27-10-20 0-26-10-20 0-30-10-20 0-30-10-20 0-27-10-23 0-30-10-20 0-30-6-20zM3348 3092l-3 6-20 4-13 10-70 0-10-7 3-7 83 0 10-10zM3205 3092l20-4 10 10-20 4zM3188 3082l10-4 10 10-13 4zM3382 3072l-24 20-13-4 20-16zM3172 3072l13-4 7 10-10 4zM3378 3065l7-7 10 7-10 7zM3158 3062l7-4 10 10-10 4zM3408 3052l-3 6-13-3 13-7zM3148 3055l7-7 7 10-7 4zM3138 3045l7-3 3 6-3 4zM3408 3045l7-7 3 4-3 6zM3128 3035l7-3 3 6-3 4zM3418 3035l7-7 3 4-3 6zM3118 3025l7-3 3 6-3 4zM3432 3022l3-4 3 7-3 3zM3108 3015l7-3 3 6-3 4zM3102 3005l3-3 3 6-3 4zM3452 2995l3-3 3 6-3 4zM3092 2992l3-4 3 7-3 3zM3462 2985l3-3 3 6-3 4zM3082 2982l3-4 3 7-3 3zM3472 2972l3-4 3 7-3 3zM3072 2965l3-3 3 6-3 4zM3648 2762l4 16-10 14-4 20-6 3-4-20 10-10 4-20zM2898 2765l7-3 7 10 0 13 10 10 0 13 10 10 0 14 10 10 10 33 50 100 10 10 30 60 50 70 73 73 53 30 14 0 23 10 40 0 23-10 14 0 53-30 53-50 50-63 50-80 40-77 0-10 10-10 4-16 6-4 0-13 10-10 4-17 6-3 4-20 10 0 0 13-80 174-60 100-40 53-47 47-57 40-20 10-56 10-30-10-20 0-44-24-80-73-60-83-40-77-10-10 0-10-20-30-10-33-10-10 0-10-30-60 0-14-10-10 0-13-10-13zM3655 2735l7 7 0 13-10 10-4-20zM3665 2712l7 6 0 10-10 10-4-16zM2882 2708l6 4 4 23 10 10-4 20-6-3-4-20-10-14zM3675 2685l7 7-7 20-7-7zM2872 2682l10 10-4 20-10-10zM3685 2655l7 10-7 20-7-7 0-13zM2862 2655l10 10-4 20-10-10zM3695 2628l7 7-7 20-7-7zM2855 2625l7 10 0 17-7 6-7-10 0-16zM3705 2598l7 7-7 20-7-7zM2845 2598l7 10 0 14-7 6-7-10 0-13zM3242 2585l6-7 67 0 7 7-10 7-60 0zM3715 2572l7 6-7 17-7-7zM3325 2575l7-7 13 0 7 7-10 7-10 0zM3215 2575l7-7 20 7-7 7-13 0zM2835 2568l7 14 0 10-7 6-7-10zM3348 2565l20 0-13 7zM3195 2565l7-7 13 7-7 7zM3368 2555l7-7 10 7-10 7zM3178 2555l7-7 10 7-7 7zM3725 2538l7 14-7 13-7-10zM3168 2545l7-7 7 7-7 7zM2825 2538l7 10-7 20-7-13 0-10zM3398 2535l7-7 7 7-7 7zM3408 2525l7-7 7 7-7 7zM3735 2508l7 14-7 13-7-10zM2815 2508l7 10 0 10-7 7-7-10 0-10zM3235 2502l90-4 3 7-10 7-73 0zM3325 2498l13-10 17 4-10 10zM3212 2492l16-4 10 7-6 7-14 0zM3352 2488l10-10 10 4-7 10zM3192 2482l13-4 7 10-10 4zM3745 2475l0 27-7-7zM2805 2475l7 10 0 13-7 7-7-10 0-13zM3372 2478l10-10 6 4-10 10zM3178 2472l7-4 10 7-10 7zM3162 2465l13-3 3 6-3 4zM3388 2468l7-10 7 7-7 7zM3398 2455l7-7 7 7-7 7zM3152 2452l3-4 10 7-10 3zM2795 2445l7 10 0 10-7 7-7-10 0-10zM3412 2448l3-6 7 3-7 7zM3142 2442l3-4 7 7-7 3zM3422 2438l3-6 7 3-7 7zM3132 2432l3-4 7 7-7 3zM3432 2425l3-3 3 6-3 4zM3308 2425l14-7 20 7-14 7zM3225 2425l7-7 13 0 10 7-10 7zM3122 2422l3-4 7 7-7 3zM3442 2418l3-6 7 3-7 7zM3342 2415l13-7 7 7-7 7zM3205 2415l7-7 13 7-7 7zM2785 2408l7 14-7 16-7-10zM3452 2405l3-3 3 6-3 4zM3188 2405l7-7 7 7-7 7zM3378 2395l14 0-7 7zM3705 2382l7 6 0 14-10 13 0 17-10 10-4-24 10-10 0-16zM2775 2375l7 20-7 10-7-10zM2838 2368l7-6 7 10 0 16 10 14 0 13 20 43 0 14 10 13 10 40 10 10 0 13 10 14 0 10 10 13 20 57 50 93 0 10 40 60 3 13 47 67 60 63 43 30 47 20 73 0 17-10 13 0 60-40 43-43 50-67 70-120 0-10 20-30 10-33 10-10 0-10 30-60 0-13 10-10 0-14 14-33 6-3 0-17 10-13 4-20 10 0 0 16-10 14 0 16-10 14 0 13-10 13-10 37-10 13 0 14-10 13 0 10-10 13-20 57-50 100-60 100-10 7-30 43-57 57-30 20-40 20-67 3-26-3-14-10-10 0-46-30-64-64-60-83-30-60-10-10-10-30-10-10 0-10-20-30 0-10-40-83 0-14-20-36 0-14-10-13 0-13-10-14 0-13-10-13 0-17-10-10-10-47-10-10zM3718 2352l4 20-10 10-4-20zM2765 2342l7 13 0 10-7 7-7-14zM3725 2322l7 6-7 27-7-7 0-16zM2822 2302l6 3 4 27 10 10-4 23-6-3-4-24-10-13zM3735 2292l7 6 0 14-10 10-4-20zM3665 2275l7 7 0 13-10 10-4-20zM2888 2275l7-3 7 10 0 16 10 7 0 17 10 10 0 13 10 10 0 13 10 14 10 33 10 10 0 10 10 10 0 13 10 10 10 30 90 147 30 37 60 56 50 30 20 0 16 10 44 0 20-10 16 0 37-20 63-53 70-90 30-50 0-10 10-7 0-10 10-10 40-80 4-16 6-4 0-13 10-10 0-13 10-10 0-14 10-10 0-13 10-10 4-20 10 0 0 17-10 10 0 13-10 10 0 17-10 10 0 13-10 13-10 34-10 10 0 13-10 10 0 10-10 10 0 10-10 10 0 10-10 10-10 30-90 137-47 50-73 50-17 0-13 10-64 0-53-24-50-36-43-47-54-73-30-50 0-10-10-7 0-10-10-10 0-10-10-10 0-10-10-10-10-30-10-10 0-13-10-10 0-14-10-10 0-10-10-13 0-13-20-37 0-17-6-3-4-20-10-10zM2745 2272l7 13-7 13-7-13zM2815 2268l7 14-4 23-10-10 0-20zM3745 2258l7 7-7 27-7-7zM3675 2248l7 7 0 13-7 10-7-6 0-14zM2885 2245l7 10-4 20-10-7 0-16zM2805 2238l7 14-4 20-10-10 0-17zM3755 2228l7 10-7 20-7-6zM3685 2222l7 6 0 14-10 6-4-16zM2872 2218l10 10-4 20-10-10zM2795 2205l7 13 0 14-7 6-7-10 0-16zM3765 2195l7 7 0 13-7 10-7-7 0-13zM3695 2195l7 7-7 20-7-7 0-13zM2725 2195l7 20-7 13-7-13zM2865 2192l7 10 0 13-7 7-7-10 0-14zM2785 2175l7 10 0 13-7 7-7-10 0-13zM3705 2165l7 7 0 13-7 7-7-7zM3775 2162l7 6-7 24-7-7 0-13zM2855 2162l7 10 0 13-7 7-7-10 0-14zM2715 2158l7 17-7 13-7-13zM2775 2138l7 14 0 13-7 7-7-10 0-14zM3715 2135l7 10-7 20-7-10zM2845 2132l7 10 0 13-7 7-7-10zM3785 2125l7 10-7 23-7-10zM2705 2122l7 13-7 17-7-17zM3725 2108l7 7 0 10-7 7-7-7 0-10zM2765 2105l7 10 0 17-7 6-7-13 0-13zM2835 2102l7 10 0 13-7 7-7-7 0-13zM3795 2088l7 10-7 24-7-10zM3735 2075l7 10 0 10-7 7-7-7zM2825 2072l7 10 0 13-7 7-7-10zM2755 2068l7 14-7 20-7-14zM3805 2058l7 10-7 20-7-13zM3745 2045l7 7-7 20-7-10zM2815 2042l7 10-7 20-7-14 0-10zM2745 2032l7 13 0 13-7 7-7-10 0-13zM3815 2022l7 10-7 20-7-14zM3755 2012l7 10-7 16-7-10zM2805 2008l7 10-7 20-7-10zM2735 1998l7 10 0 14-7 10-7-14 0-13zM3825 1985l7 10-7 17-7-17zM3765 1978l7 14-7 13-7-7zM2795 1978l7 7-7 20-7-10 0-10zM2725 1958l7 17-7 17-7-14zM3775 1945l7 10-7 17-7-17zM2785 1945l7 10-7 17-7-10 0-10zM2715 1918l7 14 0 13-7 10-7-13 0-14zM3785 1912l7 10-7 16-7-10zM3845 1908l7 17-7 13zM2775 1908l7 14-7 13-7-10zM2705 1882l7 13-7 20-7-13zM3795 1878l7 17-7 10-7-10zM2765 1875l7 10-7 17-7-14zM3805 1842l7 13-7 13-7-13zM2755 1838l7 14-7 16-7-13zM2745 1805l7 10-7 13-7-10zM2685 1802l7 13 0 13-7 7-7-10zM2735 1765l7 10-7 20-7-20zM2675 1762l7 13-7 20-7-17zM3932 1755l3-3 3 6-3 4zM3835 1735l7 10-7 13-7-13zM2725 1728l7 17-7 10-7-10zM2665 1722l7 13-7 20-7-17zM2715 1692l7 13-7 13-7-13zM2655 1678l7 17-7 17-7-17zM2705 1652l7 13-7 13-7-13zM2695 1612l7 13-7 13-7-13zM2685 1575l7 10-7 13-7-13zM3972 1565l3-3 3 6-3 4zM2625 1548l7 17-7 17zM2675 1532l7 13-7 10-7-10zM4002 1002l3-4 3 7-3 3zM4012 945l3-3 3 6-3 4zM2432 825l3-3 3 6-3 4zM4142 462l3-4 3 7-3 3zM2012 322l0 26 10 37 0 47 10 36 0 50 10 37 0 43 10 37 0 47 10 36 0 47 10 37 0 46 10 34 0 43 20 120 0 43 10 34 0 43 10 37 0 43 10 33 0 47 10 30 0 43 10 37 0 40 10 33 0 47 10 30 0 40 10 33 0 40 10 37 0 37 10 33 0 40 10 33 0 40 10 34 0 36 10 34 0 40 10 30 0 40 10 30 0 40 6 13 4 53 10 30 0 40 10 30 0 37 10 30 0 37 10 26 0 37 10 30 0 37 10 30 0 36 10 27 0 37 10 26 0 37 10 27 0 33 10 30 0 33 10 27 0 37 10 23 0 37 10 26 0 30 10 30 0 34 10 23 0 33 10 24 0 33 10 27 0 33 10 23 0 30 10 27 0 30 10 23 0 30 10 27 0 30 10 23 0 30 10 24 0 30 10 23 0 27 10 23 0 30 10 23 0 27 10 23 0 27 10 23 0 27 10 23 0 27 10 23 0 27 10 20 0 27 10 20 0 16 150 0 3-6 3 6 70 0 0-10-10-16 0-17-10-17 0-16-10-17 0-20-10-17 0-16-10-17 0-23-10-14-10-56-10-14 0-26-6-4-4-33-6-3-4-14 4-26 10 13 0 23 10 14 0 23 10 13 0 24 10 13 0 23 10 14 0 23 10 10 0 23 10 14 0 20 10 13 0 17 10 16 0 17 20 47 0 16 86 0-20-43 0-13-10-14 0-13-10-13-10-44-10-13 0-20-10-10 4-27 6 4 4 26 10 10 0 17 10 10 0 17 10 13 0 13 10 14 0 16 10 14 20 56 190 0-64-93-20-43-20-27 0-10-20-30 0-10-60-127 0-13-10-13 0-10-20-44 0-13-20-40 0-13-10-17 0-13-10-17 0-13-30-77 0-17-10-16 0-17-20-50 0-20-10-13 0-20-10-17 0-20-10-17 0-20-10-13 0-20-10-20 0-20-10-17 0-20-10-20 0-23-10-17 0-23-10-20 0-20-10-17 0-26-10-17 0-23-10-20 0-24-10-20 0-26-10-17 0-30-10-20 0-27-10-20 0-26-10-20 0-30-10-24 0-33-10-20 0-30-10-17 0-30-10-20 0-30-10-16 0-30-10-20 0-30-10-20 0-34-10-16 0-34-10-20 0-33-10-20 0-30-10-23 0-34-10-20 0-33-10-20 0-33-10-24 0-33-10-20 0-37-10-20 0-36-10-20 0-40-10-20 0-37-10-20 0-40-10-20 0-40-10-20 0-40-10-23 0-37-10-23 0-40-10-24 0-40-10-23 0-40-10-23 0-40-10-24 0-40-10-26 0-40-10-24 0-43-10-23 0-44-10-23 0-43-10-27 0-43-10-24 0-46-10-24 0-46-10-24 0-46-10-27 0-43-10-27 0-47-10-26 0-47-10-27 0-26zM2725 4055l7 10 0 17-7 10-7-14 0-16zM2715 4018l7 10 0 17-7 7-7-10 0-17zM2705 3978l7 10 0 17-7 10-7-10 0-17zM2695 3938l7 14 0 13-7 10-7-10 0-17zM2685 3902l7 10 0 16-7 7-7-10 0-13zM2835 3858l7 14-4 20-10-10 0-17zM2675 3858l7 14 0 13-7 10-7-10 0-17zM2665 3818l7 10 0 14-7 10-7-10 0-14zM2815 3795l7 10 0 23 10 10-4 24-6-4-4-23-10-13 0-20zM2655 3775l7 13 0 14-7 10-7-14zM2805 3765l7 10 0 17-7 6-7-10 0-16zM2645 3735l7 10 0 13-7 10-7-10 0-13zM2795 3732l7 10 0 16-7 7-7-10 0-17zM2785 3698l7 14 0 13-7 7-7-10 0-17zM2635 3688l7 14 0 13-7 10-7-10zM2705 3685l7 10 0 23-7 7-7-13 0-20zM2775 3665l7 10 0 17-7 6-7-13 0-13zM2625 3645l7 13-7 24-7-14zM2692 3642l10 13 0 20-7 7-7-10zM2765 3628l7 14 0 13-7 7-7-10 0-14zM2685 3602l7 13-4 30-10-13 0-24zM2615 3602l7 10 0 13-7 10-7-10 0-13zM2755 3595l7 10 0 13-7 10-7-13 0-13zM2675 3565l7 10 0 20-7 7-7-10 0-20zM2745 3558l7 14-7 20-7-14zM2605 3555l7 13-7 24-7-14zM2735 3522l7 10-7 23-7-13 0-14zM2665 3522l7 13 0 20-7 7-7-14 0-20zM2595 3512l7 10-7 23-7-13zM2725 3482l7 13 0 13-7 10-7-13 0-13zM2655 3482l7 10 0 16-7 10-7-13 0-17zM2585 3465l7 10-7 23-7-13zM2715 3445l7 10 0 13-7 10-7-13zM2645 3435l7 13 0 20-7 10-7-13 0-20zM2575 3415l7 17-7 20-7-14zM2705 3405l7 17-7 16-7-13zM2635 3395l7 13 0 14-7 10-7-14 0-16zM2565 3368l7 14-7 20-7-14zM2695 3365l7 17-7 16-7-13zM2625 3352l7 10 0 16-7 10-7-13 0-13zM2685 3325l7 17-7 16-7-13zM2555 3318l7 14-7 20-7-14zM2615 3305l7 10 0 17-7 10-7-14 0-13zM2675 3282l7 16-7 20-7-13zM2545 3272l7 13-7 20-7-17zM2605 3258l7 14 0 16-7 10-7-13zM2665 3242l7 13-7 20-7-17zM2535 3218l7 17-7 20-7-17zM2595 3212l7 16 0 14-7 10-7-14zM2655 3198l7 17-7 20-7-20zM2525 3172l7 13-7 17-7-14zM2585 3168l7 14 0 13-7 10-7-13 0-14zM2645 3155l7 20-7 17-7-17zM2515 3122l7 13-7 17-7-17zM2575 3118l7 14-7 26-7-16zM2635 3112l0 33-7-20zM2625 3068l7 17-7 17-7-17zM2565 3068l7 17-7 23-7-13zM2505 3068l7 17-7 13-7-13zM2555 3022l7 13-7 27-7-17 0-13zM2545 2968l7 17-7 27-7-17zM2485 2962l7 13-7 17-7-17zM2535 2922l7 13-7 27-7-17zM2525 2868l7 17-7 23-7-13zM2515 2818l7 17-7 23-7-20zM2505 2765l7 20-7 20-7-20zM2485 2658l7 27-7 13zM2332 1485l3-3 3 6-3 4zM2232 1405l3-3 3 6-3 4zM2182 762l3-4 3 7-3 3zM1908 322l4 73 6 7 4 86 10 27 0 67 6 6 4 17 0 57 10 33 0 53 10 34 0 46 10 40 0 47 20 130 0 50 10 33 0 57 10 30 0 43 10 40 0 44 10 43 0 47 10 33 0 50 10 33 0 40 10 44 0 53 10 23 0 47 10 40 3 57 7 16 0 44 10 40 3 56 7 17 0 43 10 40 0 37 20 117 3 56 7 17 0 40 10 37 0 36 10 37 10 110 10 37 0 36 20 110 0 34 10 36 0 37 10 33 0 37 10 30 0 37 20 103 0 33 10 34 0 36 10 30 0 37 10 30 10 100 10 30 0 33 10 30 0 34 20 93 0 30 10 33 10 94 10 30 0 30 6 13 14 103 10 30 10 90 106 0-10-30 0-26-10-24 0-30-10-23 0-27-20-80 0-30-10-23 0-30-10-27 0-30-10-23 0-30-10-27 0-30-10-26 0-34-10-26-10-90-10-27 0-33-10-27 0-33-10-27 0-33-10-30 0-34-10-26 0-34-10-26 0-37-10-27 0-36-10-30 0-37-10-27 0-33-10-30 0-37-10-30 0-36-10-30 0-37-10-33 0-37-10-30-10-107-10-30 0-36-10-34 0-40-10-30 0-40-10-33 0-33-10-37 0-40-10-33 0-40-10-34 0-40-10-33 0-43-10-34 0-36-10-37 0-43-10-34 0-40-10-36 0-47-10-30 0-43-10-37-3-60-7-17 0-46-10-34 0-43-10-37 0-46-10-37 0-43-10-37 0-47-10-36 0-47-10-33 0-47-10-37 0-46-10-40 0-47-10-37-10-133-10-40 0-47-10-40 0-46-6-30zM1792 322l10 76 0 47 10 50 0 50 10 43 0 50 10 50 0 44 10 50 0 50 10 46 0 47 10 43 0 44 10 50 0 50 10 43 0 50 10 37 0 50 20 133 0 50 10 43 0 50 10 37 0 50 10 40 10 133 10 40 0 44 10 43 0 43 10 44 0 43 10 40 0 47 10 40 0 46 10 34 0 43 20 123 0 44 10 40 10 120 10 40 0 43 10 37 0 40 10 40 0 40 10 36 0 40 10 37 0 40 10 37 0 40 10 36 0 40 10 37 10 113 10 37 0 37 10 33 0 43 10 34 0 40 10 33 0 37 10 33 0 37 10 33 0 33 10 37 0 40 10 30 0 37 10 33 0 33 10 34 0 33 6 33 54 0-4-40 7-16 7 20-4 36 87 0-17-83 0-30-10-27 0-30-10-30 0-30-10-33-10-90-10-33 0-34-10-30-10-96-10-30 0-34-10-33-10-100-10-30 0-37-10-33-10-100-10-37 0-33-10-33-10-107-10-33 0-40-10-34 0-33-10-37 0-36-10-37-10-110-10-37 0-36-10-40-3-57-7-17 0-36-10-40-10-114-20-120-3-63-7-13 0-40-10-37 0-43-10-40 0-40-20-124 0-40-10-43 0-37-10-43 0-47-10-36 0-40-10-47-10-123-10-47 0-53-10-30 0-57-10-30 0-53-10-37 0-50-10-37 0-56-10-27 0-53-20-134 0-50-10-40 0-50-10-40 0-66-60 0-3 33-3-33zM2295 3978l7 17 0 30-7 13-7-20 0-30zM2285 3915l7 17 0 30-7 13-7-20 0-27zM2275 3848l7 20 0 27-7 10-7-17 0-30zM2265 3782l7 20 0 30-7 10-7-20 0-24zM2255 3715l7 20 0 23-7 14-7-20 0-20zM2245 3645l7 20 0 23-7 17-7-17 0-26zM2235 3578l7 20 0 20-7 17-7-17 0-26zM2225 3512l7 20 0 20-7 13-7-17 0-20zM2215 3442l7 20 0 20-7 16-7-20zM2205 3372l7 16 0 24-7 16-7-20 0-23zM2195 3298l7 20 0 20-7 17-7-17 0-23zM2185 3225l7 23-7 40-7-23zM2175 3155l7 20-7 43-7-30zM2165 3082l7 23-7 37-7-24zM2155 3008l7 24-7 33-7-20zM2145 2935l7 20 0 20-7 17-7-20zM2135 2858l7 24-7 33-7-20zM2125 2782l7 23-7 37-7-24zM2115 2705l7 27-7 36-7-30zM2105 2628l7 27-7 33-7-23zM2095 2552l7 26-7 30-7-23zM2085 2472l7 23-7 37-7-27zM2075 2395l7 30-7 27-7-27zM2065 2318l7 24-7 33-7-30zM2045 2152l7 23-7 37zM2035 2075l7 30-7 20-7-20zM1572 322l0 33 10 37 0 60 10 36 0 60 10 40 0 60 10 37 0 60 10 37 0 60 10 33 0 63 10 34 0 60 10 36 0 60 10 37 0 60 10 33 0 60 10 37 0 57 10 36 0 60 10 34 0 56 10 37 0 57 10 36 0 57 10 33 0 57 10 33 0 60 10 34 0 56 10 34 0 56 10 34 0 56 10 34 0 53 10 37 0 53 10 33 0 57 10 33 0 54 10 33 0 53 10 34 0 53 10 33 0 54 10 33 0 50 10 33 0 54 10 30 0 53 10 33 0 50 10 34 0 50 10 33 0 50 10 30 0 53 10 30 0 50 10 34 0 50 10 30 0 46 10 34 0 50 10 30 0 50 10 30 0 46 10 30 0 50 10 30 0 47 6 23 217 0-7-20 0-36-10-34 0-36-10-34 0-36-10-34 0-40-10-33 0-40-10-30 0-37-10-36 0-40-10-34 0-40-10-36 0-40-10-34-10-116-10-34 0-40-10-36 0-44-10-36 0-40-10-40 0-37-10-40 0-43-10-37 0-40-20-120 0-43-10-40-10-124-10-40 0-43-10-40 0-43-10-40 0-47-10-40-10-130-10-40 0-50-10-40-10-133-10-40 0-47-20-133 0-47-10-43 0-47-10-43-10-140-10-44 0-50-10-43-3-73-7-20 0-50-10-47 0-50-10-43 0-47-10-50 0-50-10-47 0-46-10-47 0-53-10-47 0-53-10-44-3-66zM2092 4032l3-4 3 7-3 3zM2042 3645l3-3 3 6-3 4zM1332 322l0 1533 6 3 4 100 10 70 0 77 10 67 0 73 20 213 0 74 10 66 10 210 10 67 0 80 20 203 0 74 10 66 10 207 10 63 0 74 10 60 0 83 10 53 0 74 10 63 0 67 6 56 164 0-4-113-6-23-4-107-10-60 0-77-10-56 0-77-10-60 0-80-10-57 0-80-10-60 0-76-10-64 0-76-10-60 0-80-10-64 0-80-10-60 0-83-10-63 0-84-10-60 0-86-10-60 0-84-10-63 0-90-10-57 0-93-10-57 0-93-10-57 0-90-10-60 0-90-10-63 0-90-10-67 0-90-10-63 0-93-10-67 0-93-10-67 0-90-10-70 0-93-10-67 0-83z"/><path fill="rgb(199,199,199)" d="M1332 3618l0 480 33 0 0-56-7-24-3-106-7-30 0-67-10-73 0-70zM5728 3572l-10 150 4 16-7 7-3 150-7 10-3 143-7 10 0 40 20 0 3-76 10-7 0-147-6-3 6-7zM1332 2165l0 457 6 3 4 113-4 17-6 3 0 334 6 3 0 10-6 3 0 34 6 3 0 13-6 4 0 10 6 3-6 3 0 240 6 4 7 140 7 30 0 56 10 84 3 110 7 23 0 67 10 76 3 90 43 0 0-60 7-10 7 17 0 53 30 0-7-123-7-20-3-110-7-20-13-257-7-16-3-114-7-30-3-113-7-20-3-123-7-17-3-123-7-24-3-113-7-27-3-110-7-20-3-126-7-24-3-113-7-27-3-123-7-10 4-10zM1425 3882l7 30-4 106-6-3-4-20 0-107zM1415 3748l7 20 0 97-7 10-7-13-3-37 3-70zM1405 3612l7 23 0 100-7 7-7-7 0-113zM1395 3478l7 17 0 90-7 10-7-10 0-93zM1385 3335l7 20 0 90-7 10-7-10 0-93zM1375 3188l7 27 0 100-7 7-7-7 0-107zM1365 3058l7 20 0 100-7 7-7-20 0-97zM1355 2915l7 20 0 77-7 30-7-27 0-87zM1345 2768l7 17 0 93-7 17-10-40 7-60-4-20zM5728 1382l-6 140-7 13-3 143-7 20-3 144-7 20-3 130-7 30-3 133-7 20-3 133-7 17 0 80-10 90-3 133-7 20-13 290-7 20-13 287-7 23-3 127-7 30-3 123-7 27-3 127-7 23-3 123-7 27-3 123-7 30-3 70 46 0 7-43 7 10 0 33 20 0 3-6 3 6 17 0 13-226 7-24 3-143 7-10 0-90 10-83 3-130 7-17 3-143 7-27 0-90 7-63 6-4 0-300-6-3 6-3 0-44-10-3 10-13 0-7-6-3 0-10 6-4 0-336-10-14 0-120 4-20 6-3zM5642 4005l3-3 3 6-3 4zM5655 3772l0 20-7-7zM5625 3745l7 7-4 16 7 87-3 33-10 17 0 140-7 10-7-7 0-116 4-30 10-17-4-107zM5635 3588l7 10 0 130-7 14-7-10 0-120zM5652 3428l0 150-7 14-7-7 4-153zM5682 3365l3-3 3 6-3 4zM5665 3125l7 7 0 120-4 23-10 10 7 60-3 73-7 14-7-10 0-127 4-20 10-7-4-126zM5675 2968l7 10 0 120-7 20-7-20 0-116zM5685 2802l13 13-6 7 3 93-3 30-7 10-7-7 0-123zM5695 2648l7 14-4 13 7 70-3 40-7 10-7-7 0-123zM5705 2488l7 14 0 120-7 16-7-13 0-113zM5718 2322l4 153-7 10-7-7 0-123 4-30zM5728 322l-46 0 0 110-4 23-6 10 0 117-10 46 0 110-10 54 0 96-10 60 0 100-4 27-6 10 0 113-10 40 0 114-4 20-6 3 0 133-10 44 0 103-10 53 0 97-10 50 0 97-10 53 0 97-10 50 3 56-7 77-6 23 0 94-10 46 0 104-10 53 0 93-10 54 0 93-10 43 3 57-13 93 0 97-10 40 0 110-10 40 0 97-10 50 3 43-13 107 0 76-10 44 0 100-10 60 0 76-10 50 0 70 56 0 7-46 3-124 7-20 3-123 7-27 3-120 7-20 3-123 7-23 3-124 7-26 3-120 7-27 3-130 7-17 3-130 7-16 3-130 7-30 3-120 7-27 3-127 7-20 3-133 7-20 0-73 10-84 13-280 7-20 3-133 7-27 3-133 7-20 3-133 7-27 3-127 7-26 3-134 7-23 3-133 7-24 17-323 6-3zM5668 322l-46 0-7 53-3 127-7 26 0 84-10 73 0 70-10 80-3 127-7 20-3 120-7 23 0 90-10 63-3 124-10 76 3 27-10 57-3 130-7 20-3 123-7 23-3 127-7 23-3 114-7 30-3 110-7 33-3 117-7 20 0 73-10 70-3 120-7 20 0 63-10 80-13 260-7 20-3 110-7 27-3 117-10 83 3 10-13 113 0 64-7 13 0 73-13 134 3 13-7 30-6 137-7 36 63 0-3-13 3-77 10-53 0-87 10-46 0-120 10-17 0-120 7-7 3-30-3-33 13-97 0-96 10-37 0-120 10-30 0-113 10-27-3-43 3-64 10-46 0-114 10-26 0-117 10-33 0-110 10-34 0-120 10-20 0-130 10-13 0-127 10-20-3-123 13-37 0-120 10-26 0-127 10-27 0-116 4-17 6-7 0-143 10-30 0-113 10-34 0-126 10-7 0-133 4-27 6-10 0-120 10-27 0-136 10-27zM5385 3965l7 80-7 23zM5395 3835l7 10 0 80-7 7zM5405 3745l7 37-4 10-6-4zM5415 3555l7 47-4 46 7 7-10 7zM5425 3418l7 7-7 87-7-74zM5435 3275l3 93 10 7-3 3-13-3-4-80zM5445 3138l7 27 0 60-7 23zM5452 3092l3-4 3 7-3 3zM5455 2998l7 7 0 50-7 27zM5465 2895l7 10 0 33-7 20zM5465 2855l0 40-7-30zM5475 2725l7 40-7 50zM5485 2572l7 43 0 40-7 10zM5495 2428l7 17-7 77zM5505 2305l7 20 0 40-7 20zM5515 2138l7 47-7 20zM5535 1878l7 27-7 10zM5545 1718l7 24 0 53-7 7zM5565 1408l7 97-7 7zM5582 1202l3-4 3 7-3 3zM5585 1158l7 17-7 17zM5602 805l3-3 3 6-3 4zM5632 462l3-4 3 7-3 3zM5602 322l-67 0-3 53-7 23 0 77-10 70-3 117-7 23-3 123-7 20 0 77-10 67 0 73-10 73-3 114-7 20 0 73-10 73-3 114-7 20-10 213-10 67 0 66-10 70-3 114-7 20 0 73-10 63-3 114-7 23 0 70-10 67-13 243-7 20 0 70-10 63 0 67-10 70-3 110-7 17-3 110-7 20-3 110-7 20-3 110-7 16-3 114-7 16 0 67-10 63 0 64-10 63 0 63-10 60 0 50 80 0 3-16 0-67 7-10 3-120 7-17 3-120 7-23 0-63 13-120 0-67 7-10 0-70 10-73 3-117 7-10 0-80 7-47-4-13 7-10 13-250 7-20 3-117 7-20 3-133 7-10 0-67 10-73-3-10 6-50 0-63 10-80 0-64 7-23 7-120-4-10 7-13 0-74 10-66 13-277 7-23 3-117 7-20 3-130 7-23 3-124 7-16 0-87 10-67 3-130 7-20 0-66 10-84 0-66zM5515 322l-83 0-7 26-7-26-26 0-7 40-7-7 4-33-34 0 4 43-7 7-3-50-44 0-6 116-7 17-3 93-7 20-3 94-7 20-3 93-7 13-3 97-7 20-3 90-7 23-3 84-7 23-3 90-7 13-3 94-7 13 0 53-10 54-3 86-7 17-3 87-7 16-3 90-7 14 0 53-10 50-3 83-7 14-3 86-7 14 0 50-10 50-3 80-7 13 0 50-10 47-3 80-7 13 0 47-10 46 0 47-10 43 0 47-10 43-3 70-7 14 0 43-10 43-3 70-7 14-3 70-7 10-3 70-7 10-3 66-7 10-3 64-7 10-3 60-7 10-3 56-7 10-3 54-7 6-3 50-7 7-3 40-7 7-3 26-17 14-7-7-3-20 0-263 3-87 7-30 3-333 7-27 3-140 7-27 0-70 10-83 3-113 7-30 3-114 7-13 3-117 7-20 3-133 7-20 0-80 10-73 3-134 7-20 0-83 10-70 0-80 10-73 0-77 10-73 0-77 10-77 3-123 7-20 3-130 7-20 3-130 7-20 3-127 7-20 0-76 7-57-54-3 4 93-7 27-7-14 4-106-30 0-4 70-6 6 0 110-10 10 0 110-10 20 0 114-10 13 0 110-10 27 0 90-4 23-6 3 0 97-10 27 0 90-4 30-6 10 0 83-4 23-6 7 0 93-4 27-6 10 0 90-4 20-6 7 0 93-4 20-6 7 0 86-10 40-4 107-6 10 0 100-10 23 0 80-10 40 0 80-10 44 0 73-10 43-4 97-6 17 0 76-10 50 0 70-10 47 0 70-10 40 0 70-10 30 0 90-10 30 0 80-7 20-3 90-10 50 0 63-10 54 0 60-7 23-3 87-7 26-3 84-7 23-13 193-7 17 0 53 53 0 0-63 10-47 0-73 10-40 0-87 10-40 0-86 4-24 6-10 0-93 10-27 0-93 10-10 0-113 10-27 0-100 10-10-6-10 6-7 0-96 10-17 0-110 4-20 6-7 0-93 4-20 6-3 0-110 10-14 0-106 7-17 10 3-7 124-6 3 0 107-4 16-6 4 0 103-10 37 0 93-4 23-6 10 0 87-10 37 0 83-4 23-6 7 0 103-4 17-6 7 0 103-10 37 0 93-10 27 0 86-10 50 0 77-10 57 0 66-10 44 0 46 236 0 4-40 6-3 0-80 4-13 6-4 0-80 7-20 7 4 0 93-10 13 0 77-10 17 0 36 46 0 0-53 10-33 0-77 10-43 4-84 6-10 0-76 10-30 0-77 4-17 6-3-6-10 6-10 0-77 10-36 0-64 10-50 0-86 10-14 0-80 10-26 0-84 4-23 6-7 0-90 10-20 0-86 4-27 6-3 0-97 10-17 0-96 10-24 0-100 10-13 0-103 10-14 0-96 7-17 7 7 0 93-4 20-6 7-4 113-6 7 0 86-4 27-6 3 0 94-4 16-6 7 0 83-4 24-6 6 0 87-4 20-6 7 0 90-4 16-6 4 0 96-4 14-6 3 0 93-10 27 0 90-4 17-6 6 0 84-10 40 0 73-10 30 0 77-4 23-6 7 0 80-10 36 0 74-10 30 0 83-10 30 0 37 3 6 37 0 3-13 3 13 110 0 7-33 3-103 7-20 3-107 7-17 3-110 7-16 3-107 7-20 3-107 7-20 3-106 7-20 0-67 10-63 3-110 7-17 0-70 10-60 0-70 10-67 3-106 7-20 3-114 7-20 3-113 7-20 0-63 10-67 0-70 10-67 3-110 7-23 3-113 7-20 0-67 10-70 3-117 7-20 0-66 10-70 3-117 7-20 3-117 7-20 3-123 7-20 0-70 10-70 3-120 7-20 3-120 7-20 3-120 7-27 3-116zM4888 3985l7-7 7 7-7 7zM5125 3972l7 16 0 64-7 16-7-13 0-63zM4898 3882l10-4 4 10-10 4zM5135 3862l7 13 0 60-7 20-7-20 0-60zM5038 3758l4 90-10 14-4-80 4-20zM5145 3748l7 14 0 63-7 17-7-17 0-63zM5155 3628l7 17 0 63-7 17-7-17 0-63zM5165 3512l7 23 0 57-7 20-7-17 0-60zM4762 3462l3-4 3 7-3 3zM5068 3455l7 10-3 80-4 10-10 3 4 90-4 14-6 3 0 83-7 10-7-6 0-74 10-30 0-73 4-20 6-3 0-87zM5175 3398l7 14 0 60-7 23-7-23 0-60zM5078 3352l7 76-3 17-10 10-4-83 4-17zM5252 3292l3-4 3 7-3 3zM5185 3282l7 16 0 57-7 20-7-20 0-57zM5195 3162l7 20 0 60-7 13-7-17 0-56zM5095 3142l7 23 0 73-10 20 0 80-7 14-7-20 4-80 6-4 0-80zM5132 3062l3-4 3 7-3 3zM4802 3062l3-4 3 7-3 3zM5205 3042l7 20 0 63-7 13-7-16 0-60zM5105 3038l10 7-3 77-7 23-7-7 0-80zM5115 2932l7 13 0 73-7 24-7-17 0-70zM5215 2925l7 17 0 56-7 17-7-17 0-56zM5125 2822l7 6 0 87-7 10-7-7 0-70zM4825 2815l7 10-7 7zM5225 2805l7 17 0 56-7 20-7-20 0-53zM5135 2715l7 17 0 70-7 20-7-24 0-56zM5235 2685l7 17 0 60-7 16-7-13 0-67zM5145 2608l7 10 0 80-7 20-7-23 0-57zM4842 2582l3-4 3 7-3 3zM5245 2565l7 17 0 53-7 23-7-23 0-53zM5155 2502l7 20 0 63-7 20-7-17 0-63zM5255 2438l7 17 0 63-7 17-7-20 0-60zM5165 2388l7 7 0 80-7 17-7-17 0-57zM5265 2312l7 23 0 60-7 10-7-10 0-60zM5175 2282l7 16 0 67-7 10-7-7 0-66zM4895 2278l7 7 0 93-4 27-6 10 0 90-7 23-7-6 0-94 4-26 6-4 0-103zM5275 2192l7 23 0 53-7 17-7-17 0-53zM5185 2168l7 24 0 63-7 10-7-10 0-63zM4912 2148l6 7-6 7 0 86-7 30-7-20-3-73 7-33zM5285 2062l7 26 0 60-7 17-7-17 0-60zM5195 2055l7 23 0 60-7 17-7-23 0-50zM4915 2022l7 16 0 84-7 20-7-7 0-97zM5248 1988l4 94-4 20-6 3 0 97-7 23-7-7 0-100 10-20 0-100zM5295 1942l7 23 0 50-7 20-7-20 0-50zM5205 1942l7 23 0 70-7 10-7-23 0-57zM4928 1892l4 100-7 23-7-10-3-80 7-30zM5215 1825l7 23 0 70-7 10-7-13 0-63zM5305 1818l7 20 0 54-7 20-7-20 0-54zM4935 1768l7 7 0 87-7 26-7-13 0-100zM5265 1748l7 7 0 87-4 26-6 4 0 96-7 17-7-13 0-90 10-20 0-100zM5225 1715l7 10 0 80-7 7-7-17 0-63zM5315 1688l7 27 0 50-7 23-7-26 0-47zM4945 1638l7 14 0 80-7 30-7-30 0-80zM5275 1622l7 13 0 87-7 23-7-7 0-103zM5235 1598l7 24 0 60-7 16-7-20 0-56zM5325 1565l7 23 0 50-7 20-7-20 0-50zM4955 1508l7 7 0 90-7 27-7-20 0-84zM5245 1478l7 27 0 67-7 10-7-7 0-63zM5335 1435l7 23 0 54-7 26-7-30 0-50zM4965 1385l7 7 0 86-7 24-7-7 0-103zM5295 1382l7 10 0 83-4 20-10 7 4 96-7 24-7-20 0-90 4-17 6-3 0-97zM5255 1365l7 20 0 63-7 14-7-47zM5345 1302l7 30 0 50-7 20-7-24 0-46zM5305 1258l7 7 0 87-4 23-6 3-4-113zM4975 1252l7 10 0 76-7 30-7-23 0-80zM5265 1248l7 7 0 70-7 17-7-27 0-53zM5355 1185l7 17 0 60-7 16-7-23 0-53zM5315 1128l7 7 0 97-7 16-7-10-3-73zM5275 1128l7 20 0 67-7 17-7-7 0-80zM4985 1125l7 13 0 74-7 23-7-20 0-80zM5365 1048l7 24 0 50-7 20-7-20 0-50zM5325 1008l7 17 0 77-7 30-7-10-3-87zM5285 1008l7 17 0 63-7 17-7-17 0-63zM4995 985l7 23 0 70-7 27-7-27 0-70zM5375 915l7 20 0 60-7 23-7-23 0-60zM5295 882l7 20 0 70-7 16-7-83zM5335 878l7 7 0 87-7 26-7-6 0-100zM5005 858l7 17 0 67-7 36-7-23 0-80zM5385 785l7 20 0 50-7 27-7-27 0-50zM5305 765l7 10 0 70-7 20-7-27 0-53zM5355 748l3 7-6 3 0 100-7 14-7-7 0-103 7-14zM5015 725l7 23 0 64-7 30-7-30 0-64zM5395 652l7 26 0 50-7 17-7-20 0-47zM5315 648l7 7 0 77-7 13-7-20zM5355 628l7 20 0 77-7 17-7-14-3-63zM5025 598l7 14 0 70-7 26-7-26 0-74zM5325 525l7 13 0 64-7 13-7-17 0-53zM5405 522l7 20 0 53-7 23-7-30 0-46zM5322 515l3-3 3 6-3 4zM5365 495l7 10 0 90-7 20-7-17 0-93zM5035 462l7 20 0 63-7 33-7-33 0-67zM5335 392l7 20 0 70-7 13-7-23zM5415 388l7 24 0 53-7 20-7-27 0-46zM5375 365l7 20 0 80-7 17-7-14 0-83zM4998 322l-36 0 0 53-7 17-7-17 0-53-93 0-13 170-7 20-3 93-7 13-3 94-7 23-3 83-7 17-3 93-7 17-3 90-7 20-3 87-7 16-3 90-7 14 0 53-10 53 0 47-10 60-3 83-7 20-3 84-7 20-3 83-7 17-3 86-7 14-3 83-7 17-3 86-7 17-3 80-7 17-3 86-7 14-3 83-7 17-3 83-7 13 0 47-10 53-3 80-7 17-3 77-7 13-3 83-7 17-3 77-7 13-13 173-7 14-3 80-7 13-13 170-7 10-13 170-7 13-3 77-7 13-3 74-7 13-3 73-7 14-3 76-7 14-13 146 136 0 0-36 10-17 0-83 10-17 0-80 7-17 7 7 0 80-4 17-6 6 0 77-4 13-6 4 0 46 53 0 3-6 20-264 7-26 3-87 10-63 0-50 10-47 0-63 7-20 3-87 10-50 0-63 10-44 0-66 10-47 0-67 4-16 6-7 0-93 10-27 0-83 4-27 6-10 0-87 10-23 0-80 10-63 0-60 10-40 0-77 10-33 0-84 10-40 0-83 10-20 0-93 4-20 6-7 0-93 10-27-3-20 7-90 6-10 0-87 4-16 6-7 0-100 10-30 0-90 4-27 6-10 0-86 4-24 6-3 0-97 4-23 6-10 0-87 4-16 6-7 0-100 4-23 6-7 0-97 4-20 6-6 0-104 4-23 6-7 0-93 4-20 6-7 0-100 4-23 6-3zM4658 3642l4 90-10 20 0 83-7 13-7-6 0-80 4-17 6-7 0-80 4-13zM4572 3592l3-4 3 7-3 3zM4668 3538l4 90-7 17-7-7 0-80 4-16zM4678 3435l4 90-7 17-7-10 0-77 4-17zM4688 3332l4 90-4 13-6 3-4-86 4-17zM4695 3232l7 6 0 77-7 20-7-10 0-80zM4705 3125l7 7 0 80-7 16-7-6 0-80zM4715 3018l7 7 0 77-4 16-6 4-4-84zM4725 2915l7 10 0 73-4 17-6 3-4-86zM4735 2805l7 7 0 80-7 13-7-7 0-76zM4745 2698l7 7 0 80-7 13-7-10 0-70zM4755 2592l7 16 0 64-7 20-7-17 0-67zM4765 2482l7 20 0 63-7 20-7-10 0-73zM4775 2372l7 13 0 70-7 17-7-17 0-67zM4785 2265l7 13 0 67-7 17-7-7 0-73zM4795 2155l7 10 0 70-7 20-7-13 0-70zM4805 2045l7 13 0 67-7 13-7-10 0-66zM4815 1928l7 17 0 67-7 16-7-13 0-67zM4825 1815l7 17 0 63-7 20-7-13 0-67zM4835 1705l7 10 0 67-7 26-7-26 0-60zM4845 1588l7 20 0 60-7 30-7-30 0-56zM4855 1475l7 23 0 57-7 23-7-23 0-57zM4865 1365l7 13 0 67-7 17-7-17 0-67zM4875 1245l7 10 0 67-7 20-7-20 0-60zM4815 1138l0 14-7-7zM4885 1128l7 17 0 60-7 23-7-23 0-60zM4895 1012l7 16 0 67-7 13-7-13 0-67zM4905 895l7 17 0 60-7 23-7-23 0-57zM4842 822l3-4 3 7-3 3zM4915 775l7 17 0 60-7 26-7-26 0-57zM4925 655l7 23 0 54-7 23-7-23 0-54zM4935 532l7 26 0 57-7 17-7-17 0-57zM4945 415l7 20 0 60-7 17-7-20 0-57zM4795 322l-80 0-3 36-7 14-3 86-7 14-3 83-7 10-3 90-7 10-3 87-7 10 0 53-10 43-13 180-7 14-13 173-10 50 0 43-7 14-13 170-7 13-3 73-7 14-3 80-7 16-13 160-7 14-3 70-7 20-3 73-7 13-3 70-7 17-3 67-7 20-3 70-7 13-3 70-7 17-3 66-7 14-13 156-7 14-13 150-7 10-3 70-7 13-13 143-7 14-3 66-7 14-13 140-7 13-3 63-7 14-3 60-7 16-3 64-7 13-3 60-7 13-3 60-7 17-3 57-7 13-3 60-7 10-13 133-7 10-3 57-7 13-10 90 123 0 7-16 13-144 7-13 3-70 7-13 3-70 7-14 3-66 7-17 3-67 7-13 3-73 7-10 13-157 7-17 3-70 7-13 0-40 10-50 3-73 7-14 3-73 7-13 3-74 7-16 3-74 7-16 3-74 7-16 3-77 7-13 3-77 7-17 3-76 7-14 3-76 7-17 3-77 7-16 3-80 7-14 3-80 7-16 0-44 10-53 3-77 7-16 13-180 7-17 3-83 7-14 3-83 7-13 3-87 7-13 0-47 10-57 3-83 7-20 3-83 7-17 13-187 7-16 0-47 10-57 3-90 7-16 3-87 7-17 0-46 10-60zM4342 4045l3-3 3 6-3 4zM4412 3492l3-4 3 7-3 3zM4572 2155l3-3 3 6-3 4zM4688 322l-66 0-7 40-3 70-10 33 0 57-10 40 0 53-7 17-3 70-10 40-10 140-7 13-3 73-10 37 0 50-7 20-3 67-10 43 0 43-7 17-3 63-10 54 0 43-7 10-3 70-7 13-3 67-10 40 0 43-7 14-3 70-7 10-3 70-7 13-13 143-10 47 3 10-10 43-3 60-7 14-3 60-17 96-3 60-7 14-3 60-7 16-3 64-7 10-13 136-7 10-3 64-7 13-3 60-7 13-3 57-7 10-3 60-10 40 0 33-7 14-13 123-7 10-3 57-10 36 0 30-7 14-3 56-7 10-3 54-7 13-3 53-7 14-3 50-7 13-3 53-7 14-13 113-7 10-3 50-7 13-3 50-7 7-3 53-7 14-3 46-7 10-13 100 20 0 3-16 3 16 30 0 10-13 0-53 10-17 0-50 7-10 10 10-7 60-6 3 0 47-7 23 40 0 3-56 7-10 3-57 7-13 3-54 7-13 3-60 7-10 13-130 7-10 3-63 7-14 3-56 7-14 3-60 7-13 13-137 7-13 3-63 7-14 3-56 20-124 0-33 7-13 3-67 7-10 3-67 7-10 13-150 7-13 3-70 7-10 3-70 7-10 13-150 7-13 3-70 7-14 3-73 7-10 13-160 7-10 3-77 7-10 3-80 7-6 3-74 7-16 3-70 10-50 0-44 7-13 3-73 7-17 3-77 7-6 3-80 7-17 13-170 7-10 3-80 7-17 3-76 7-14 0-46 10-50 3-80 7-14 3-80 7-16 3-84 7-13 3-80 7-13 3-87 7-10zM4225 3585l7 10-7 23zM4262 3305l3-3 3 6-3 4zM4308 3272l4 56-10 17 0 57-4 13-6 3 0 50-10 20 0 54-10 20 0 50-10 16 0 50-10 24 0 50-10 13 0 50-10 13 0 50-4 17-6 7 0 43-10 10-4-57 10-10 0-53 10-17 0-53 10-13 0-54 7-10 7 0-4-56 10-14 0-56 10-14 0-56 14-14-4-56 10-10 0-60 10-17 0-53zM4318 3198l4 60-7 17-7-13 0-57zM4292 3135l3-3 3 6-3 4zM4325 3125l7 7 0 53-7 13-7-6 0-57zM4348 2978l4 60-10 20 0 50-7 17-7-10 0-53 10-14 0-63zM4355 2902l7 6 0 57-7 13-7-6 0-60zM4322 2875l3-3 3 6-3 4zM4375 2752l7 10 0 50-4 13-6 3 0 60-10 14-7-50 3-17 14-20-4-53zM4385 2675l7 10 0 50-10 13-4-63zM4395 2595l7 7 0 56-7 14-7-14-3-33zM4405 2518l7 7 0 57-7 13-7-7 0-53zM4422 2438l0 67-7 17-7-7 0-63 4-10zM4392 2385l3-3 3 6-3 4zM4425 2355l7 13 0 54-7 20-7-14 0-60zM4435 2278l7 7 0 60-10 10-4-70zM4445 2202l7 10 0 50-7 13-7-10 0-53zM4455 2115l7 10 0 50-7 23-7-23 0-47zM4465 2032l7 10 0 53-7 17-7-10 0-57zM4475 1955l7 7 0 53-7 17-7-10 0-60zM4485 1868l7 17 0 47-7 13-7-13 0-54zM4495 1785l7 13 0 47-7 17-7-17 0-50zM4505 1702l7 13 0 47-7 13-7-10 0-53zM4515 1615l7 13 0 47-7 17-10-37 3-30zM4525 1528l7 14 0 50-7 13-7-10 0-57zM4502 1502l3-4 3 7-3 3zM4535 1442l7 10 0 53-7 13-7-13 0-53zM4545 1352l7 16 0 47-7 17-7-17 0-53zM4555 1262l7 26 0 37-7 23-7-20 0-53zM4532 1245l3-3 3 6-3 4zM4565 1172l7 73-7 10-7-10 0-57zM4575 1085l7 17 0 40-7 23-7-23 0-44zM4585 995l7 17 0 50-7 10-7-14 0-50zM4595 902l7 20 0 40-7 23-7-27 0-46zM4605 812l7 63-7 17-7-17 0-50zM4615 722l7 20 0 36-7 20-7-16 0-47zM4625 632l7 36-7 40-7-20 0-43zM4635 532l7 53-7 27-7-14 0-56zM4645 438l0 77-7-20 0-40zM4655 345l7 20 0 43-7 14-7-7 0-60zM4605 322l-47 0-16 176-7 14-3 70-7 13-3 73-7 14-13 156-7 10-13 154-7 13-3 67-7 16-3 64-7 16-3 64-7 16-3 70-7 17-3 57-7 16-13 144-7 13-3 60-7 13-3 67-7 13-3 60-7 14-3 63-7 17-13 130-7 13-13 137-7 10-3 63-7 10-3 57-7 13-3 60-7 13-23 194-7 10-3 56-7 14-3 53-7 10-3 57-7 13-3 53-7 14-3 50-7 13-3 53-7 14-23 176-7 14-3 46-7 14-3 50-7 13-13 107-7 13-3 43-7 10-3 50-7 10-23 160-7 10-13 100-7 10-3 44-7 13-3 40-7 13-3 40-7 14-20 116 83 0 10-76 7-10 3-47 7-10 3-47 7-13 3-50 7-10 3-50 7-10 3-53 7-7 3-53 7-10 3-54 7-16 3-47 7-13 3-50 7-10 3-57 7-13 3-50 7-10 3-57 7-10 0-33 13-60 0-34 7-13 3-50 7-13 13-130 7-7 3-60 7-13 13-134 7-16 3-50 7-14 3-63 7-13 13-137 7-10 3-60 7-17 0-43 10-40 13-130 7-17 3-60 7-16 3-64 7-16 3-64 20-123 0-40 7-13 3-60 10-47 0-40 7-10 13-153 7-17 13-153 10-47 0-37 7-16 3-70 7-14 3-70 10-46 0-44 7-20 3-66 7-17 13-163 10-37 0-53 7-17 3-70zM4518 322l-90 0-3 40-3-40-67 0-13 120-7 13-3 60-7 13-3 57-7 13-3 57-7 10-3 57-7 13-3 57-7 13-3 57-7 10-13 123-7 10-3 53-7 14 0 26-10 37 0 30-10 37-3 50-7 13-3 50-7 13-3 50-7 10-3 50-7 14-3 46-7 14-3 50-7 10-3 50-7 10-13 106-7 7-3 50-7 10-3 47-7 10-3 46-7 10-3 44-7 10-3 46-7 10 0 24-10 30-3 43-7 10-3 43-7 7-13 97-7 10 0 23-10 27-13 90-7 10-3 36-7 10-3 40-7 7-3 40-7 10-13 83-7 7-13 83-7 7-3 37-7 6-3 34-7 10-13 76-7 7-13 77-7 6-3 30-7 7-3 33-7 7-3 30-7 10-3 30-7 7-3 30-7 6-3 30-7 7-13 63-7 7-3 27-7 6-3 27-7 7-23 93-7 7-33 113-17 33-3 24-7 6-3 20-7 7-3 20-7 7-3 20-17 30-13 43-10 13 0 10-7 4-13 40-60 116-7 4-3 13-67 93 173 0 7-10 43-126 17-34 33-113 10-17 10-50 10-13 0-17 10-16 0-20 10-10 0-27 10-13 0-20 10-14 0-23 10-13 0-24 10-13 0-23 10-17 0-20 10-13 0-27 10-13 0-27 10-13 0-27 7-10 7 7 0 26-10 10 0 34-10 13 0 27-10 6 0 30-10 10 0 27-10 10 0 30-10 13 0 24-10 16-4 27-6 7 0 20-10 16 0 17-7 10-3 27-10 16 0 17-10 10 0 20-10 17-10 50-7 6-3 24-7 6-13 50-10 17 0 13-7 7-13 50-20 43 0 10 40 0 3-6 3 6 20 0 47-143 3-27 10-13 0-20 7-7 13-66 10-17 0-17 27-86 13-70 10-17 0-23 10-20 10-64 10-13 0-30 10-10 0-30 10-17 0-26 10-24 0-23 10-13 0-34 10-16 0-27 10-13 0-37 10-13 0-30 10-17 0-33 7-10 7 3 0 37-10 16 0 34-10 16 0 27-10 13 0 37-10 13 0 34-10 16 0 30-10 14 0 30-10 13 0 30-10 17 0 26-10 24 0 20-10 16 0 24-10 16 0 27-10 13 0 24-10 13 0 30-10 20-10 57-10 16-10 60-7 10-3 24-7 6-13 67-7 7-3 26-7 7-3 27-7 6 0 14-13 33 0 13 56 0 10-16 0-27 10-7 4 34-10 16 130 0 16-96 7-10 3-37 7-10 3-40 7-10 13-90 17-63 3-40 7-10 23-150 7-10 3-44 7-13 3-43 7-10 3-47 7-10 3-47 7-10 13-103 7-10 23-167 7-10 23-176 7-10 3-54 7-10 3-53 7-10 3-53 7-10 23-187 7-10 3-57 7-13 13-123 7-14 3-53 7-13 3-60 7-14 13-123 7-13 3-60 7-14 3-60 7-13 3-60 7-10 3-63 7-10 3-64 7-16 3-60 7-14 3-60 7-13 23-220 7-10 3-67 7-13 3-67 7-13 3-67 7-13 3-70 7-10 3-70 7-10 3-70 7-17 3-63 7-17 13-153 7-13zM3572 4045l3-3 3 6-3 4zM3722 4035l3-3 3 6-3 4zM3742 3975l3-3 3 6-3 4zM3858 3932l4 36-10 7 0 30-10 10 0 30-10 7-4-34 10-10 0-30 10-10 0-26zM3865 3892l7 6 0 27-7 10-7-7 0-26zM3878 3852l4 33-7 10-7-7 0-30zM3782 3842l3-4 3 7-3 3zM3885 3808l7 7 0 30-10 7-4-34zM3895 3768l7 7 0 30-10 7-4-34zM3905 3725l7 7 0 26-7 10-7-6 0-27zM3918 3685l4 30-7 10-7-7 0-26zM3925 3638l7 7 0 27-7 10-7-7 0-27zM3938 3595l4 30-7 10-7-7 0-26zM3945 3548l7 7 0 27-7 10-7-10 0-24zM3955 3502l7 6 0 27-7 10-7-10 0-23zM3965 3455l7 10 0 23-7 10-7-6 0-27zM3975 3408l7 7 0 27-7 10-7-10 0-24zM3985 3358l7 10 0 24-7 10-7-10 0-24zM3995 3312l7 6 0 27-7 7-7-7 0-27zM4005 3262l7 10 0 23-7 10-7-10 0-23zM3895 3255l7 7 0 26-10 10 0 34-10 6-4-33 10-13 0-27zM4015 3212l7 10 0 23-7 10-7-7 0-26zM3908 3208l4 37-7 10-7-7 0-26zM3915 3165l7 7 0 33-10 7-4-34zM4025 3158l7 10 0 24-7 10-7-10 0-24zM3925 3125l7 7 0 30-10 6-4-33zM4035 3108l7 10 0 24-7 10-7-10 0-24zM3935 3078l7 7 0 30-7 10-7-7 0-30zM4045 3055l7 10 0 23-7 14-7-10 0-27zM3945 3035l7 13 0 24-7 6-7-6 0-24zM4055 3002l7 10 0 23-7 10-7-10 0-20zM4008 2992l4 40-10 20 0 33-10 10-4-43 10-14 0-33zM3955 2988l7 7 0 30-7 10-7-7 0-30zM4065 2948l7 14 0 20-7 10-7-10 0-20zM4018 2945l4 37-10 13-4-40zM3968 2942l4 36-7 10-7-6 0-30zM4075 2895l7 13 0 20-7 10-7-10 0-20zM4028 2895l4 40-10 10-4-40zM3975 2895l7 7 0 30-7 10-7-10 0-27zM3985 2845l7 13 0 27-7 7-7-7 0-27zM4085 2842l7 13 0 17-7 10-7-10 0-17zM4038 2842l4 43-10 10-4-43zM3995 2798l7 7 0 33-7 7-7-7 0-26zM4045 2788l7 10 0 34-10 10-4-40zM4095 2785l7 10 0 20-7 13-7-13 0-20zM4005 2748l7 14 0 26-7 10-7-10 0-26zM4055 2738l7 10 0 30-10 10-4-40zM4105 2728l7 14 0 20-7 10-7-10 0-20zM4015 2702l7 10 0 23-7 10-7-10 0-23zM4115 2672l7 13 0 17-7 13-7-13 0-20zM4025 2648l7 14 0 23-7 10-7-10 0-20zM4125 2615l7 10 0 20-7 13-7-13 0-20zM4035 2598l7 10 0 27-7 10-7-17 0-16zM4088 2572l4 46-10 14 0 40-10 16 0 37-10 13-4-46 10-10 0-47 10-10 0-47zM4135 2555l7 13 0 20-7 14-7-14 0-20zM4045 2545l7 10 0 27-7 13-7-17zM4095 2515l7 7 0 40-7 10-7-10 0-37zM4145 2495l7 13 0 17-7 13-7-13 0-20zM4055 2495l7 20 0 20-7 7-7-10zM4105 2458l7 10 0 37-7 13-7-6 0-44zM4065 2442l7 10 0 26-7 7-7-10 0-20zM4155 2438l7 14-7 26-7-13zM4115 2402l7 10 0 36-10 14-4-47zM4075 2388l7 10 0 24-7 10-7-14zM4165 2375l7 10 0 20-7 17-7-17 0-20zM4125 2348l7 10 0 34-10 10-4-47zM4085 2332l7 10 0 26-7 10-7-30zM4175 2315l7 17-7 26-7-13zM4135 2288l7 10 0 37-7 13-7-6 0-47zM4095 2275l7 10 0 30-7 10-7-17zM4185 2255l7 10 0 20-7 13-7-13 0-20zM4145 2228l7 14 0 33-7 10-7-10 0-37zM4105 2222l7 40-7 10-7-7zM4195 2192l7 13-7 30-7-27zM4155 2175l7 10 0 30-7 10-7-7 0-36zM4115 2162l7 23 0 20-7 7-7-14zM4165 2108l7 10 0 37-7 13-7-10 0-40zM4125 2105l7 40-7 10-7-20zM4215 2065l7 10-7 33-7-26zM4175 2048l7 10 0 34-7 16-7-6 0-47zM4135 2048l7 17 0 20-7 10-7-10zM4225 2002l7 23-7 17zM4145 1992l7 23-7 23zM4185 1988l7 7 0 37-7 10-7-10 0-37zM4155 1932l7 13 0 20-7 10-7-30zM4195 1925l7 13 0 30-7 14-7-7 0-43zM4205 1862l7 13-7 43-7-26 0-20zM4175 1812l7 20-7 30-7-37zM4215 1802l7 10 0 30-7 16-7-20 0-26zM4185 1752l7 26-7 20zM4225 1732l7 16-7 44-7-20 0-27zM4235 1668l7 14 0 30-7 13-7-13 0-34zM4205 1625l7 30-7 17zM4245 1605l7 10-7 47-7-24 0-26zM4215 1562l7 33-7 17zM4255 1535l7 10 0 37-7 13-7-10 0-40zM4225 1495l7 40-7 10zM4265 1472l7 13-7 43-7-46zM4235 1435l7 37-7 10zM4275 1402l7 13-7 47-7-24 0-26zM4245 1368l7 17-7 27zM4285 1332l0 63-7-37zM4295 1262l7 40-7 23-7-20 0-27zM4305 1195l7 20-7 40-7-23 0-27zM4315 1122l7 40-7 20-7-17 0-30zM4362 1062l3-4 3 7-3 3zM4325 1052l0 60-7-30zM4335 978l7 17 0 30-7 17-7-14 0-36zM4345 908l7 47-7 10-7-10zM4355 835l0 60-7-20 0-30zM4365 762l0 60-7-44zM4375 688l7 27-7 33-7-23 0-30zM4342 675l3-3 3 6-3 4zM4385 608l7 17-7 47-7-27 0-27zM4422 572l3-4 3 7-3 3zM4395 538l0 54-7-20 0-20zM4405 458l0 60-7-40zM4415 382l0 60-7-20zM3082 332l70 83 36 30 57 30 80 3 30-10 50-30 73-73 30-43-73 0-27 30-26 13-4 7-63 23-40 0-47-13-36-20-44-40-66 0zM3002 322l53 103 40 60 40 47 60 53 37 20 36 10 50 0 10-7 24-3 63-40 80-90 33-50 54-100-60-3-70 96-80 64-27 13-17 0-13 7-50 0-7-7-26-3-20-10-4-7-13-3-27-20-70-74 0-6-30-37-3-13-37 0-3 6-3-6zM3365 552l-7 10-16 0-10 10-77 0-10-7 3-7 84 0 10-10zM3218 552l20-4 10 10-23 4zM3362 548l6-10 14 4-7 10zM3202 542l13-4 7 10-14 4zM3378 538l7-10 13 4-10 10zM3172 522l13-4 17 20-14 0zM3418 508l4 7-20 17-7-7zM3158 515l7-7 10 7-7 7zM3418 508l7-10 7 4-7 10zM3148 502l7-4 7 10-7 4zM3448 478l4 7-20 17-4-7zM3128 485l7-7 7 4 10 16-7 4zM3448 478l7-10 7 7-7 7zM3122 472l3-4 7 7-7 3zM3458 465l7-7 7 7-7 7zM3112 462l3-4 3 7-3 3zM3468 455l7-7 3 4-3 6zM3102 445l3-3 3 6-3 4zM3482 435l3-3 3 6-3 4zM3088 435l7-7 7 7-7 7zM3072 405l3-3 3 6-3 4zM3522 382l3-4 3 7-3 3zM3032 342l3-4 3 7-3 3zM2885 322l20 63 17 30 3 20 17 30 13 43 17 27 0 10 30 53 3 17 77 130 10 7 20 33 63 63 67 37 43 7 40-4 40-13 3-7 37-20 70-70 50-73 23-47 7-3 13-33 7-4 3-16 7-4 3-16 47-94 3-20 10-13 30-87 7-6 3-20 7-7 0-13-93 0 0 10-20 40-7 3 0 10-10 10-43 80-60 80-40 40-34 27-40 20-26 3-10 7-44 0-10-7-23-3-53-30-84-84-50-73-13-30-7-3-13-34-17-23 0-10-10-10-6-23zM3265 805l10-7 30 0 13 7-13 7-30 0zM3328 795l10-7 14 7-7 7zM3228 795l7-7 20 7-10 7-10 0zM3355 785l10-7 7 7-7 7zM3208 785l7-7 13 7-13 7zM3375 775l10-7 7 7-7 7zM3388 765l7-7 7 7-7 7zM3178 765l7-7 7 7-7 7zM3245 755l10-7 70 0 10 7-10 7-70 0zM3362 745l-7 7-17-7 17-7zM3222 745l13-7 7 7-7 7zM3362 735l20 0-7 7zM3422 695l3-3 3 6-3 4zM3442 678l3-6 7 3-7 7zM2722 322l3 33 7 7 0 16 10 20 0 17 20 60 3 27 7 6 13 64 7 6 3 27 7 10 3 23 7 7 0 17 10 16 3 27 7 7 0 13 33 100 7 7 3 23 7 7 3 20 27 60 0 13 10 13 3 20 37 77 0 10 70 140 80 120 53 53 37 27 26 13 40 10 60-3 7-7 40-13 40-30 70-77 60-93 30-57 3-16 17-24 13-40 7-3 23-67 17-30 3-20 7-3 23-73 7-7 0-13 10-17 3-23 7-7 3-23 7-7 13-40 0-13 7-7 23-90 7-7 3-26 7-7 23-97 7-10 3-26 10-20 0-17 10-20 0-17 7-10 3-30 10-26-76 0 0 16-17 37-23 90-7 7-23 83-7 7-43 126-30 60-20 57-50 100-17 20-33 63-114 137-23 17-53 3-7 7-50 0-73-30-67-60-40-50-57-87-13-33-7-4-50-103-20-57-10-13-3-20-7-3-53-157-7-7-3-23-7-7-3-23-17-37-33-116zM3235 1345l10-7 17 7-14 7zM3265 1305l10-7 27 0 13 7-17 7zM3315 1298l10-10 23 4-6 10zM3228 1295l7-7 17 0 10 7-7 7-20 0zM3348 1288l7-10 10 0 7 7-7 7zM3208 1282l14-4 10 7-7 7-10 0zM3368 1275l7-7 13 4-10 10zM3388 1268l7-10 7 7-7 7zM3178 1265l7-7 7 7-7 7zM3398 1255l7-7 7 7-7 7zM3412 1248l3-6 7 3-7 7zM3152 1245l13-3 13 16-13 0-3-10zM3238 1245l10-7 84 0 6 7-10 7-80 0zM3338 1235l10-7 14 4-7 10-10 0zM3215 1235l7-7 16 7-6 7zM3362 1228l10-10 10 7-7 7zM3198 1222l7-4 10 7-10 7zM3182 1215l13-3 3 6-3 4zM3378 1215l7-7 10 7-10 7zM3168 1205l7-7 7 7-7 7zM3408 1195l7-7 7 7-7 7zM3158 1195l7-7 7 7-7 7zM3148 1185l7-3 3 6-3 4zM3418 1185l7-7 7 7-7 7zM3432 1178l3-6 7 3-7 7zM3438 1165l7-7 7 7-7 7zM2638 322l57 250 7 10 0 16 10 20 3 34 10 23 0 17 7 6 23 107 7 7 13 63 7 7 3 26 7 7 3 27 7 10 23 90 7 6 0 14 10 16 33 114 7 6 43 127 7 3 3 20 7 7 23 63 7 4 3 16 80 150 7 4 3 13 17 17 20 33 80 80 30 13 3 7 43 13 57 0 43-13 47-30 50-50 53-70 30-57 7-3 23-53 7-4 70-156 13-47 7-3 3-20 27-60 33-114 7-3 3-27 7-6 23-90 7-7 3-27 7-6 13-64 7-6 3-30 7-7 3-30 7-7 3-30 7-6 3-30 7-7 3-30 7-10 3-30 7-10 3-30 17-50 3-33 7-7 3-33 7-10 3-34 7-6 20-100-17 0-3 6-3-6-37 0-33 133-7 10-3 30-10 20 0 20-17 37-3 30-10 20-10 46-7 7-13 60-7 7-3 23-17 37-3 26-7 7-13 50-7 7-53 153-80 173-7 4-3 13-50 83-70 90-54 44-33 20-50 13-33 0-50-13-4-7-13-3-43-30-54-54-80-116-33-70-7-4 0-10-50-100-3-20-17-30-3-20-17-30-3-20-17-33-3-23-17-34 0-13-10-17 0-13-60-177-13-60-7-6-3-30-7-10-3-27-7-7-3-30-7-6-3-30-27-87-3-33-37 0-3 30-3-30zM3278 1605l14 0-7 7zM3298 1605l17-7 27 7-17 7zM3235 1605l13-7 27 7-20 7zM3212 1595l13-7 7 10-10 4zM3378 1582l-3 6-13-3 13-7zM3195 1585l10-7 3 4-3 6zM3422 1542l3-4 3 7-3 3zM3428 1535l7-7 3 4-3 6zM3088 1418l7-3 7 13 20 17 0 7 63 56 50 27 37 7 53-4 50-20 53-40 47-53 7 3 0 7-74 77-26 20-40 20-67 10-63-20-57-40-67-74zM3485 1408l7 10-10 10-4-13zM3078 1405l7-3 7 13-7 3zM3488 1408l7-10 7 4-7 10zM3068 1392l7-4 7 10-7 7zM3505 1382l7 3-4 13-10-3zM3062 1372l10 13-7 7-7-7zM3508 1378l7-10 7 7-7 7zM3048 1362l7-4 7 10-7 7zM3525 1348l7 7-7 13-7-13zM3038 1345l7-3 7 13-7 3zM3535 1335l7 10-7 7-7-7zM3035 1325l7 10-7 7-7-7zM3538 1325l7-7 7 7-7 7zM3025 1305l7 10-7 10-7-7zM3015 1288l7 17-4 3-6-3zM3565 1278l7 7-7 13zM3578 1262l4 3-7 13-3-13zM2918 1198l7-3 7 7 0 16 10 7 0 17 10 6 0 14 10 10 0 13 10 10 0 10 10 10 0 10 40 70 0 10 73 113 30 37 60 53 47 27 30 3 10 7 30 0 63-20 3-7 40-23 50-50 67-93 33-67 10-10 10-30 10-7 0-13 20-30 0-13 10-7 0-17 10-6 0-17 10-7 0-16 10-7 4 20-10 10 0 13-10 10 0 14-10 10 0 13-10 10 0 13-10 14 0 10-20 26 0 14-40 73-17 20-3 13-7 4-33 53-87 87-53 30-60 10-47-10-40-20-40-30-67-74-80-126 0-10-10-10 0-10-30-50 0-14-20-30 0-16-10-7 0-17-6-3-4-20-10-10zM3658 1182l4 16-10 10-4-20zM2912 1168l10 7-4 20-10-7zM3622 1162l3-4 3 7-3 3zM3668 1155l4 20-10 10-4-23zM2902 1142l10 6-4 24-10-7zM3675 1128l7 7 0 13-10 10-4-23zM2932 1125l3-3 3 6-3 4zM2892 1118l10 7-4 20-10-10zM3685 1102l7 6 0 17-10 7-4-24zM3652 1092l3-4 3 7-3 3zM2885 1088l7 7-4 23-10-10 0-13zM3698 1075l4 20-10 7-4-20zM2875 1062l7 6 0 17-7 7-7-10 0-14zM3705 1045l7 7 0 16-10 7-4-23zM2862 1035l10 7-4 20-10-7zM3718 1015l4 20-7 10-7-7 0-16zM2855 1002l7 10-4 23-10-10 0-17zM3725 985l7 7 0 16-10 10-4-26zM2845 972l7 10 0 16-7 7-7-10 0-17zM3735 955l7 7 0 13-7 10-7-7 0-16zM2835 942l7 10-7 20-7-10zM3745 925l7 10-7 20-7-13 0-10zM2825 908l7 10 0 14-7 10-7-14 0-13zM3755 892l7 13-7 20-7-7 0-16zM2815 878l7 7 0 17-7 6-7-10zM3765 862l7 13-7 17-7-7 0-13zM2805 848l7 7-7 23-7-20zM3775 832l7 10-7 13-7-7 0-10zM2795 812l7 6 0 17-7 10-7-10zM3785 795l7 10-7 20-7-10zM2785 782l7 6 0 14-7 10-7-14zM3795 762l0 30-7-14 0-10zM2802 762l3-4 3 7-3 3zM2775 742l7 13 0 13-7 10-7-13zM3805 725l0 33-7-23zM2765 708l7 7-7 27zM3815 688l7 27-7 7-7-7 0-20zM2755 672l7 10-7 23zM3825 655l0 30-7-17zM2745 635l7 10-7 23-7-13zM3835 618l0 30-7-13 0-10zM2735 598l7 7-7 27zM3845 578l0 30-7-13 0-10zM2725 562l7 13-7 17zM3855 542l0 30-7-17zM3865 502l7 13-7 17-7-14zM3875 458l0 34-7-14zM2695 442l7 13-7 20zM2542 322l13 83 7 10 3 40 7 10 3 40 7 7 3 40 7 10 3 40 7 6 3 37 7 10 3 37 7 10 3 36 7 10 3 34 17 53 3 37 7 6 3 37 7 7 3 33 7 7 3 33 7 10 0 17 10 23 3 33 7 7 13 70 7 7 3 30 7 6 3 30 7 7 3 30 7 7 3 30 7 6 3 27 7 10 3 27 7 6 3 27 7 7 3 26 7 7 3 27 7 6 0 14 10 16 0 14 10 16 0 14 10 16 0 14 10 16 10 44 10 13 3 23 7 7 3 20 7 7 3 20 17 30 20 60 73 153 7 3 43 80 60 77 30 30 40 30 43 20 64 3 53-13 33-20 47-40 40-47 43-63 0-7 7-3 80-153 3-17 37-77 3-20 7-3 23-73 7-7 3-23 17-34 3-23 17-33 3-27 7-7 3-23 17-37 3-26 7-7 3-27 7-6 3-27 7-7 3-30 7-6 3-27 7-7 3-30 7-6 3-30 7-7 3-30 7-7 13-70 7-6 13-74 7-6 13-74 7-6 3-37 7-7 3-33 7-10 3-33 17-54 13-80 7-10 3-36 7-10 3-37 7-10 3-40 7-7 3-40 7-10 3-36 10-30 0-27 7-7 3-40 7-10 3-26-73 0-23 120-7 6-3 37-7 7-13 76-17 50-3 34-7 6-13 70-17 47-3 30-7 7 0 20-10 16-3 30-7 10-3 27-7 7-23 96-7 7-13 60-7 7-13 53-7 7-3 26-7 7-23 77-20 43 0 13-17 30-3 20-7 7-13 43-37 74-3 16-7 4-23 56-7 4-13 33-30 50-70 93-34 34-40 30-13 3-3 7-17 3-7 7-40 6-50-3-36-13-4-7-13-3-40-30-37-37-40-50-43-73-7-4-60-116-13-40-27-50-10-37-10-13-33-100-7-7-3-23-7-7-3-23-7-4-23-86-17-37-13-60-7-7-23-96-7-7-3-30-7-7-3-30-7-6-3-30-7-7-3-30-7-7-13-73-10-13 0-27-7-7-13-76-7-7-3-33-7-7 0-20-10-20-3-40-10-23 0-20-10-20-7-50zM3225 2092l27-4 10 10-30 4zM3398 2062l-20 20-10 0-6 10-14 0-10 10-26 0-4 6-16 4-34-7 7-7 33 0 20-10 24 0 6-10 30-10 7-10zM3395 2058l7-10 10 4-7 10zM3408 2048l7-10 7 4-7 10zM3148 2042l10-4 34 30 30 10 6 10-20 4-36-30-7 0zM3418 2038l7-10 7 4-7 10zM3138 2032l7-4 7 10-7 4zM3428 2028l7-10 7 4-7 10zM3128 2022l7-4 7 10-7 4zM3438 2018l7-10 7 7-7 7zM3118 2015l7-7 7 10-7 4zM3448 2005l7-7 7 7-7 7zM3108 2005l7-7 7 7-7 7zM3462 1992l3-4 3 7-3 3zM3102 1992l3-4 3 7-3 3zM3468 1975l7-3 3 6-3 4zM3088 1975l7-3 3 10-3 3zM3478 1965l7-7 7 7-7 7zM3235 1965l7-7 93 4-7 10-86 0zM3078 1965l7-7 7 7-7 7zM3492 1952l3-4 3 7-3 3zM3335 1955l7-7 20 4-7 10-13 0zM3212 1955l6-7 10 0 7 7-7 7-10 0zM3358 1948l7-10 10 0 7 7-7 7zM3192 1945l13-7 7 10-10 4zM3118 1942l7-4 37 40 36 20 7 10 40 10 10 10 50 0 23-10 17 0 63-40 37-40 7 7-17 23-50 44-10 0-7 10-10 0-10 10-13 0-17 10-36 3-30-3-17-10-13 0-10-10-10 0-7-10-33-20-40-40zM3502 1935l3-3 3 6-3 4zM3062 1938l3-6 7 3-7 7zM3448 1938l7-10 7 4-7 10zM3378 1932l10-4 4 10-10 4zM3178 1932l10-4 7 7-10 7zM3108 1932l7-4 7 10-7 4zM3392 1928l3-6 10 3-10 7zM3458 1928l7-10 7 4-7 10zM3168 1922l7-4 7 10-7 4zM3098 1925l7-7 7 10-7 4zM3408 1915l7-7 3 4-3 6zM3478 1905l4 10-10 7-4-10zM3418 1905l7-7 7 7-7 7zM3142 1902l3-4 7 7-7 3zM3428 1895l7-7 7 7-7 7zM3085 1888l7 7-7 10-7-10zM3532 1885l3-3 3 6-3 4zM3032 1885l3-3 3 6-3 4zM3488 1885l7-7 7 7-7 7zM3438 1885l7-7 7 7-7 7zM3068 1885l7-7 7 7-7 7zM3508 1862l4 3-7 13-3-13zM3515 1848l7 7-7 10-7-7zM3055 1848l0 14-7-7zM3522 1835l3-3 3 6-3 4zM3532 1822l3-4 3 7-3 3zM3538 1805l7-7 7 7-7 7zM3552 1785l3-3 3 6-3 4zM3012 1782l3-4 3 7-3 3zM3002 1765l3-3 3 6-3 4zM2992 1745l3-3 3 6-3 4zM3602 1685l3-3 3 6-3 4zM2282 322l3 43 10 30 0 33 7 10 3 57 10 30 0 33 7 10 3 54 7 10 3 53 7 10 3 50 10 30 0 33 7 7 3 53 7 10 3 47 10 30 0 30 10 30 0 30 7 10 3 47 7 10 3 46 7 10 23 160 7 7 3 47 7 10 3 43 7 10 3 43 10 27 0 27 7 10 3 40 7 10 3 43 7 10 23 140 7 7 3 43 7 7 3 40 7 6 3 40 7 10 13 84 7 6 3 40 7 7 3 37 7 6 3 37 7 7 3 36 7 7 3 37 7 6 3 37 7 7 3 33 7 7 23 113 7 7 13 70 7 6 3 30 7 7 3 30 10 20 0 17 7 6 13 64 7 6 23 94 17 36 3 27 7 7 23 83 7 3 10 44 10 13 3 23 7 4 3 23 7 3 0 14 10 13 3 20 37 77 0 10 73 146 7 4 3 13 40 63 37 47 50 50 46 30 70 20 60-10 40-20 70-60 67-90 3-13 27-37 13-33 7-4 3-16 7-4 3-16 17-24 13-40 7-3 3-17 27-53 3-20 10-13 0-14 7-3 13-47 7-6 3-24 17-33 3-23 7-7 3-23 7-7 3-23 7-7 3-23 17-37 3-27 7-6 3-27 7-7 3-26 7-7 3-27 7-6 13-64 7-6 3-30 7-7 23-107 7-6 3-34 7-6 0-17 10-23 3-34 7-6 3-34 7-6 3-34 7-10 3-33 7-10 3-33 7-10 3-34 17-53 3-37 7-6 3-40 7-7 13-87 7-6 13-90 7-7 3-40 7-10 3-40 7-10 3-40 7-10 3-43 7-7 3-43 7-10 3-44 7-10 3-43 7-10 3-43 7-10 3-47 7-10 3-43 7-10 3-47 7-10 3-47 7-10 3-46 7-10 13-107 7-10 3-53 7-10 3-47 7-10 3-50 7-10 0-30 10-33 23-177 7-10 0-30 10-37 3-53 7-10 0-30 10-37 7-66-70 0 0 33-7 7-7-7 0-33-113 0-3 46-7 10-3 40-7 7-3 43-7 10-13 90-7 10-13 87-7 10-3 37-7 10-3 36-7 7-3 37-7 10-3 36-7 7 0 20-10 27-3 33-7 10-3 33-7 10-3 34-7 6-3 34-7 10-13 70-7 6-3 34-7 10-3 30-7 6-3 30-7 7-3 33-7 7-13 63-7 7-3 30-7 7-20 83-10 20-3 23-7 7-13 57-7 6-13 57-20 43 0 14-7 6-3 20-7 7-3 20-7 7-3 20-27 56-3 20-7 4-13 43-60 123-7 4-3 16-7 4-23 46-50 70-60 64-57 40-40 13-60 0-43-13-4-7-13-3-37-27-50-50-50-67-3-13-7-3-50-87-40-83-13-40-7-4-20-60-10-13-3-20-7-7-3-20-27-60-3-23-7-7-33-113-7-7-3-26-7-4-3-26-7-7-3-27-7-6-3-27-7-7-3-30-7-6-3-27-7-7-3-30-7-6-3-30-7-7-3-30-7-7-23-106-7-7-13-77-7-6-13-77-7-7-3-33-17-53-3-37-7-7-3-36-7-7-3-37-7-10-3-36-7-10-3-37-7-10-3-40-7-7-3-40-7-10-3-36-7-10-3-44-7-6-3-40-7-10-3-44-7-6 0-24-10-36-130 0-3 10-3-10zM3242 3445l6-7 47 0 7 7-14 7-36 0zM3298 3435l10-7 24 4-7 10-17 0zM3208 3432l24-4 10 7-7 7-20 0zM3332 3425l6-7 14 4-4 10-10 0zM3188 3428l4-10 20 7-7 7zM3352 3418l10-10 10 7-7 7zM3168 3412l17-4 7 10-17 4zM3368 3408l7-10 7 4-7 10zM3158 3402l7-4 7 10-7 4zM3145 3395l7-7 10 7-7 7zM3132 3385l13-3 3 6-3 4zM3398 3385l7-7 3 4-3 6zM3238 3385l10-7 47 0 10 7-10 7-43 0zM3412 3372l3-4 3 7-3 3zM3308 3375l10-7 10 0 7 7-7 7zM3208 3372l17-4 10 7-7 7-13 0zM3118 3375l7-7 7 7-7 7zM3338 3368l7-10 10 7-10 7zM3188 3362l10-4 10 7-13 7zM3112 3358l3-3 7 10-7 3zM3355 3355l7-7 10 4-7 10zM3372 3348l3-6 10 3-10 7zM3102 3345l3-3 3 6-3 4zM3158 3342l7-4 7 7-7 7zM3092 3335l3-3 3 6-3 4zM3238 3335l34-7 36 7-33 7zM3148 3335l7-7 7 7-7 7zM3398 3325l7-7 7 7-7 7zM3408 3315l7-7 7 7-7 7zM3072 3312l3-4 3 7-3 3zM3232 3172l83-4 3 7-10 7-66 0zM3318 3165l10-7 10 0 7 7-7 7-13 0zM3208 3162l17-4 10 7-7 7-13 0zM3345 3155l7-7 13 7-7 7zM3188 3152l10-4 10 7-13 7zM3172 3145l13-3 3 6-3 4zM3362 3145l10-7 10 7-7 7zM3378 3135l7-7 7 7-7 7zM3158 3132l7-4 7 7-7 7zM3392 3128l3-6 10 3-10 7zM3148 3122l7-4 7 10-7 4zM3138 3115l7-3 3 6-3 4zM3128 3105l7-3 3 6-3 4zM3118 3095l7-3 3 6-3 4zM3092 3062l3-4 3 7-3 3zM3462 3052l3-4 3 7-3 3zM3068 2962l7-4 27 37 53 53 43 30 47 17 70 0 7-7 13 0 20-10 67-50 53-63 7 3 0 7-10 7-20 33-47 47-40 30-43 20-67 3-47-13-46-30-84-87 0-10-10-7zM3058 2948l7-3 7 13-7 4zM3498 2938l4 10-20 20-4-13zM3052 2928l10 7-4 13-10-10zM3505 2918l7 10-10 10-4-13zM3038 2918l7-3 7 13-7 4zM3515 2905l7 10-10 7-4-7zM3028 2902l7-4 7 14-7 3zM3525 2888l7 7-7 10-7-7zM3025 2878l7 7-4 13-10-6zM3015 2862l7 13-7 7-7-7zM3545 2852l7 13-7 7-7-7zM3005 2845l7 10-7 7-7-7zM3555 2835l7 10-7 7-7-7zM2988 2835l7-7 7 7-7 7zM3565 2815l7 10-7 7-7-7zM2985 2805l7 10-7 7-7-7zM2972 2798l3-10 7 7-7 7zM2965 2765l7 10-7 7-7-7zM3692 2512l3-4 3 7-3 3zM3428 2508l7-10 7 4-7 10zM3118 2498l7-3 60 53 27 10 3 7 23 3 17 10 50 0 23-10 17 0 7-10 13 0 7-10 23-10 27-30 6 0 4 10-24 24-43 30-10 0-7 10-16 0-14 10-73 0-30-10-33-20-7-10-30-20-27-27zM3438 2498l7-10 7 4-7 10zM3112 2488l3-3 7 10-7 3zM3448 2488l7-10 7 4-7 10zM3458 2475l7-7 7 7-7 7zM3105 2468l7 7-7 10-7-10zM3088 2462l7-4 7 10-7 4zM3078 2452l7-4 7 10-7 4zM3478 2445l7-7 7 7-7 7zM3058 2425l7-7 7 7-7 7zM3498 2415l7-7 7 7-7 7zM3038 2395l7-7 7 7-7 7zM3522 2382l3-4 3 7-3 3zM3482 2375l0 10-84 87-46 30-47 13-50 0-43-13-4-7-43-23-37-34-30-36 0-7 7-3 50 53 60 40 20 3 7 7 60 3 40-10 53-30 43-40 37-46zM3032 2375l3-3 3 6-3 4zM3532 2365l3-3 3 6-3 4zM3488 2358l4 7-10 10-4-10zM3428 2358l4 7-17 17-7 0-3-7 17-17zM3428 2358l7-10 7 4-7 10zM3498 2345l4 10-10 7-4-10zM3438 2348l7-10 7 4-7 10zM3118 2342l7-4 27 30 33 20 7 10 10 0 26 17 54 13 30-10 23 0 10-10 30-10 23-20 7 0 3 7-50 37-10 0-10 10-70 10-23-10-17 0-53-30-47-44zM3062 2338l20 17 0 7 20 23-4 10-30-30 0-10-10-10zM3012 2342l3-4 3 7-3 3zM3552 2332l3-4 3 7-3 3zM3505 2328l7 7-10 13-4-13zM3448 2335l7-7 3 4-3 6zM3108 2332l7-4 7 10-7 4zM3048 2325l7-3 7 13-7 3zM3098 2322l7-4 7 10-7 4zM3515 2315l7 10-10 7-4-10zM3465 2308l7 7-7 10-7-10zM3095 2305l7 10-7 7-7-7zM3045 2305l7 10-4 7-10-7zM2992 2305l3-3 3 6-3 4zM3525 2298l7 7-7 10-7-7zM3468 2305l7-7 7 7-7 7zM3078 2295l7-3 3 10-3 3zM3478 2295l7-7 7 7-7 7zM3035 2288l7 7-7 13-7-13zM3532 2282l10 3-7 13-7-13zM3068 2285l7-7 7 7-7 7zM3492 2275l3-3 3 6-3 4zM3498 2265l7-7 7 4-7 10zM2972 2262l3-4 3 7-3 3zM3015 2255l7 10-7 7-7-7zM3548 2255l7-7 7 7-7 7zM3048 2255l7-7 7 7-7 7zM2962 2242l3-4 3 7-3 3zM3005 2235l7 10-7 7-7-7zM3042 2235l3-3 3 6-3 4zM3558 2235l7-7 7 7-7 7zM3522 2232l3-4 3 7-3 3zM3828 2195l4 27-7 10-7-7 0-23zM3585 2188l0 14-7-7zM3012 2185l3-3 3 6-3 4zM3552 2175l3-3 3 6-3 4zM3835 2155l7 7 0 23-7 10-7-7 0-26zM3582 2122l3-4 3 7-3 3zM3845 2115l7 10 0 20-7 10-7-7 0-26zM2912 2045l3-3 3 6-3 4zM3868 2038l4 27-10 13 0 27-7 10-7-7 0-26 10-10 0-27zM2942 2042l3-4 3 7-3 3zM3758 2008l4 27-10 10 0 23-10 7-4-30 10-7 0-23zM3875 1995l7 7 0 23-7 10-7-7 0-26zM2672 1995l10 7 0 30 10 13 0 27 10 10 0 30 10 10 0 30 10 10 0 26 10 10 0 24 10 13 0 23 10 14 0 23 10 13 0 24 10 13 0 17 10 16 0 20 10 14 0 20 10 13 20 80 10 17 0 16 10 14 3 23 17 33 0 14 20 43 3 20 7 7 3 20 7 6 3 20 7 7 0 10 10 13 33 87 17 27 0 10 60 113 80 110 43 43 40 27 57 20 46 0 10-7 27-3 60-37 63-66 77-117 80-163 13-44 10-13 10-37 20-40 10-40 20-40 0-16 10-14 0-16 10-7 0-23 10-14 0-20 10-13 0-17 10-10 0-20 10-13 0-23 10-10 0-24 10-10 0-26 10-7 0-27 10-10 0-26 10-10 0-27 7-7 7 4 0 26-10 10 0 27-10 10 0 27-10 10 0 23-10 17 0 20-10 10 0 23-10 10 0 23-10 14 0 20-10 10 0 20-10 13 0 17-30 76 0 14-10 13 0 17-10 13 0 13-7 7-13 47-10 13 0 13-27 54-3 20-20 33-10 33-7 4-23 56-40 70-7 4-3 13-60 83-54 54-43 30-60 20-43 0-10-7-27-3-37-20-80-74-40-53-50-80-3-13-7-4-90-193-3-20-7-7-3-20-17-30-3-23-27-60-20-60 0-13-10-17 0-17-10-13 0-17-10-16-3-24-7-6-3-27-7-7 0-23-10-13 0-20-10-14 0-23-10-10 0-20-10-17 0-23-10-13 0-24-10-13 0-23-10-17 0-27-10-10 0-26-10-10 0-30-10-14 0-30-10-10zM3768 1975l4 30-10 7-4-30zM2792 1972l10 6 0 27 10 7 0 23 10 10 0 20 10 10 0 20 10 10 0 20 10 10 0 17 10 13 3 23 17 34 0 13 10 13 0 17 10 10 13 47 7 6 33 87 17 27 3 16 7 4 0 10 10 10 0 10 50 83 3 13 80 107 60 50 37 20 26 3 7 7 50 0 7-7 26-3 40-20 67-60 53-70 40-73 7-4 53-106 0-10 7-4 13-40 10-13 0-13 7-4 3-20 17-30 3-20 10-13 0-13 20-40 0-14 10-13 0-17 10-10 0-20 10-10 0-20 10-6 0-24 7-6 7 3 0 23-10 10 0 24-10 10 0 20-10 13 0 13-10 17-10 43-7 7-13 47-10 13 0 13-20 37 0 13-7 4-13 43-10 10 0 13-7 4-3 16-50 100-40 67-60 83-44 44-43 30-40 13-7 7-63 3-40-13-50-30-67-67-50-70-33-63-7-4-50-100-23-63-7-3-3-20-37-84 0-13-10-13-3-20-17-34 0-13-10-17 0-13-10-17-13-53-7-7 0-16-10-14 0-23-10-10 0-23-10-10zM2662 1955l10 7-4 33-10-7zM3885 1952l7 6 0 27-7 10-7-10 0-23zM3778 1942l4 26-7 10-7-6 0-24zM2782 1938l10 10-4 27-10-7zM3895 1912l7 10 0 23-7 10-7-10 0-27zM3788 1908l4 27-10 7-4-27zM2652 1908l10 10 0 30-7 7-7-10zM2772 1905l10 7-4 30-10-7zM3795 1872l7 6 0 24-7 6-7-6 0-20zM3905 1868l7 14 0 16-7 10-7-10 0-20zM2762 1868l10 10-4 30-10-10zM3808 1838l4 27-10 7-4-27zM2755 1835l7 7-4 30-10-7 0-23zM3915 1828l7 10 0 20-10 10-4-33zM3815 1802l7 6 0 20-7 10-7-6 0-24zM2742 1798l10 7 0 23-7 7-7-7zM3925 1782l7 13-7 27-7-10 0-17zM2625 1782l7 6 0 34 10 10 0 33 10 10-4 37-10-10 0-27-10-17 0-30-10-13 0-27zM3828 1765l4 27-7 6-7-6 0-20zM2732 1762l10 6 0 24-7 6-7-6zM3935 1738l7 14-7 26-7-16 0-14zM2612 1735l10 10 0 27-7 10-7-14zM3835 1725l7 10 0 20-7 7-7-7 0-20zM2725 1722l7 10 0 23-7 7-7-10 0-24zM3945 1692l7 13 0 20-7 10-7-10 0-20zM2605 1692l7 6 0 34-7 6-7-13 0-27zM3845 1688l7 7 0 20-7 10-7-7 0-23zM2715 1685l7 10 0 23-7 7-7-10 0-23zM3908 1655l4 37-10 10 0 33-10 13 0 27-10 10-4-37 10-10 0-30 10-16 0-30zM3855 1652l7 6 0 17-7 10-7-7 0-20zM2705 1645l7 10 0 20-7 10-7-10 0-23zM2595 1645l7 10 0 27-7 10-7-14 0-26zM3955 1642l7 23-7 23-7-13 0-23zM2645 1628l7 10 0 30 10 14 0 30 10 13 0 20 10 17 0 33 10 10 0 17 10 23 0 27 10 13 0 20 10 17 10 60 10 16 3 30 7 7 0 17 10 20 0 20 10 16 0 17 10 13 10 57 10 13 33 120 7 7 3 23 7 7 53 160 7 3 3 20 37 77 0 10 83 163 7 4 3 13 60 83 50 50 37 27 40 13 6 7 24 3 56-3 7-7 40-13 40-30 40-40 53-70 50-93 7-4 80-173 3-20 7-7 23-70 7-6 13-50 17-34 3-23 70-210 0-17 10-13 0-23 10-14 10-56 10-10 0-24 10-16 0-24 10-16 0-20 10-14 0-26 10-14 0-26 10-20 0-20 7-10 7 6 0 30-10 10 0 30-10 10 0 30-10 10 0 27-10 13 0 24-10 13 0 27-10 13 0 23-7 7-3 30-10 17-10 53-10 17 0 16-7 7-3 30-10 10 0 20-30 83 0 14-20 43 0 17-7 6-23 77-7 7-3 20-7 6-3 20-37 80 0 10-63 134-70 116-30 40-64 64-66 40-40 6-54-3-36-13-4-7-13-3-27-20-60-60-50-67-40-67-43-93-7-3 0-10-40-84-3-20-17-30-3-20-7-6-3-20-27-60-33-110-7-7-10-47-10-16-10-50-10-17-3-27-17-43 0-20-20-50 0-23-10-14 0-16-10-24 0-23-10-13 0-20-10-20 0-30-10-10 0-24-10-16 0-24-10-16 0-24-10-16 0-34-10-10 0-30-10-13 0-30zM3865 1608l7 10 0 20-7 7-7-7 0-20zM2695 1608l7 7 0 23-7 7-7-10 0-20zM3965 1598l7 14 0 16-7 14-7-10 0-24zM2585 1595l7 10 0 33-7 7-7-10 0-30zM3925 1568l7 7 0 33-10 10 0 34-10 6-4-33 10-17 0-30zM3875 1568l7 10 0 20-7 10-7-10 0-20zM2685 1568l7 7 0 23-7 7-7-10 0-20zM3975 1552l7 10-7 30-7-14 0-16zM2575 1552l7 6 0 27-7 10-7-10 0-27zM3885 1528l7 10 0 17-7 10-7-7 0-20zM3935 1525l7 7-4 36-10-3 0-30zM2675 1525l7 7 0 23-7 7-7-7 0-23zM3985 1505l0 40-7-27zM2562 1502l10 10 0 26-7 10-7-13zM2612 1495l10 10 0 33 10 10 0 34 10 13 0 30-7 7-7-10 0-30-10-14 0-33-10-10zM3895 1488l7 10 0 17-7 10-7-10 0-17zM2665 1485l7 7 0 20-7 10-7-10 0-20zM3945 1478l7 7 0 30-7 10-7-10 0-27zM3995 1455l7 13-7 27-7-17 0-13zM2555 1455l7 7 0 30-7 10-7-14 0-26zM3905 1445l7 10 0 17-7 10-7-10 0-17zM2655 1442l7 10 0 23-7 7-7-10 0-24zM3955 1432l7 6 0 34-10 6-4-33zM4005 1405l7 40-10 7-4-37zM3915 1402l7 10 0 16-7 10-7-6 0-20zM2545 1402l7 10 0 20-7 16-7-16 0-20zM2645 1398l7 10 0 20-7 7-7-10 0-17zM3965 1385l7 7 0 33-7 10-7-7 0-30zM4015 1358l0 44-7-37zM3925 1358l7 10 0 17-7 10-7-10 0-17zM2635 1355l7 10 0 17-7 10-7-10 0-20zM2582 1355l10 10 0 37 6 3 4 37 10 20-4 36-10-10 0-33-6-3-4-44-10-13zM2535 1355l7 7 0 30-7 10-7-10 0-30zM3975 1338l7 7 0 33-7 7-7-7 0-26zM3935 1315l7 10 0 17-7 10-7-10 0-17zM2625 1308l7 10 0 20-7 10-7-10 0-20zM2575 1308l7 14 0 30-7 6-7-10 0-33zM4025 1302l0 46-7-10zM2525 1302l7 6 0 30-7 14-7-17 0-27zM3985 1292l7 6 0 34-7 6-7-6 0-30zM3945 1268l7 14 0 13-7 10-7-10zM2615 1265l7 10 0 20-7 10-7-10 0-20zM4035 1252l0 43-7-27zM2515 1252l7 10 0 26-7 10-7-13 0-23zM3995 1242l7 10 0 33-10 7-4-37zM3955 1222l7 13 0 13-7 10-7-10zM2605 1218l7 10 0 20-7 10-7-10 0-20zM2555 1212l7 10 0 33 10 17-4 40-6-4-4-43-10-13 0-34zM4045 1198l0 47-7-10zM2505 1198l7 10 0 30-7 10-7-13 0-23zM4005 1192l7 6 0 37-10 7-4-40zM3965 1178l7 10-7 27-7-13 0-14zM2595 1172l7 10 0 20-7 10-7-10 0-20zM2545 1165l7 7 0 33-7 7-7-10 0-30zM4055 1148l7 27-7 17-7-14zM2495 1145l7 10 0 30-7 10-7-10 0-27zM4015 1142l7 10 0 30-7 10-7-14 0-23zM3975 1128l7 14 0 13-7 10-7-10zM2585 1125l7 10 0 20-7 10-7-10 0-20zM2532 1112l10 10 0 30-7 6-7-10zM4025 1092l7 10 0 30-7 10-7-7 0-30zM2485 1092l7 10 0 26-7 14-7-17 0-20zM3985 1082l7 13 0 13-7 10-7-10zM2575 1078l7 10 0 17-7 10-7-10 0-17zM2522 1058l10 14 0 30-7 10-7-10zM4075 1038l0 44-7-34zM4035 1038l7 10 0 34-7 10-7-14 0-26zM2475 1038l7 10 0 24-7 16-7-20 0-23zM3995 1032l7 16 0 17-7 7-7-14zM2565 1028l7 10 0 20-7 7-7-7 0-16zM2515 1005l7 13 0 30-7 10-7-10 0-36zM4045 988l7 14 0 26-7 7-7-7 0-26zM4085 985l0 40-7-20zM4005 985l7 10-7 23-7-13zM2465 985l7 10-7 40-7-20 0-20zM2555 982l7 10 0 16-7 14-7-14 0-16zM2505 952l7 13 0 33-7 7-7-7 0-40zM4055 935l7 10 0 30-7 10-7-13 0-27zM4015 935l7 10-7 27-7-17zM2545 932l7 10 0 16-7 14-7-14 0-16zM2455 928l7 10 0 30-7 10-7-13 0-23zM2492 902l10 13-4 40-10-10zM4065 885l7 7 0 30-7 10-7-17 0-20zM2535 882l7 10 0 16-7 10-7-10 0-16zM2445 872l7 10 0 30-7 10-7-14 0-23zM2482 848l10 10 0 34-7 10-7-14zM4035 832l7 13-7 27-7-17zM2525 828l7 14 0 16-7 10-7-10 0-16zM4075 825l7 17 0 23-7 10-7-27zM2435 815l7 7 0 30-7 13-7-17 0-23zM2475 792l7 13 0 23-7 20-7-13 0-37zM4045 778l7 17-7 23-7-13zM2515 775l7 13 0 17-7 10-7-10 0-17zM4085 772l7 10 0 33-7 7-7-7 0-30zM2425 755l7 10 0 30-7 13-7-13 0-30zM2465 738l7 10 0 37-7 7-7-7 0-40zM2505 722l7 13 0 17-7 13-7-13 0-17zM4095 718l7 14 0 30-7 6-7-10 0-23zM2415 698l7 10 0 27-7 10-7-10 0-20zM2455 678l7 14 0 33-7 10-7-10 0-40zM2495 672l7 13-7 27-7-14zM4105 662l7 16 0 27-7 7-7-7 0-27zM2405 638l7 7 0 30-7 13zM2445 622l7 13 0 33-7 10-7-10 0-40zM2485 615l7 10 0 20-7 10-7-10 0-20zM4115 605l7 10 0 30-7 10-7-17 0-23zM2395 578l7 10 0 27-7 13-7-40zM2435 568l7 10 0 34-7 13-7-10 0-40zM2475 562l7 13-7 27-7-17zM4125 548l7 14 0 26-7 10-7-13 0-20zM2385 522l7 13 0 23-7 14-7-24zM2425 512l7 13 0 30-10 7-4-40zM2465 505l7 17-7 23-7-10zM4135 492l7 13 0 23-7 10-7-33zM2375 458l7 7 0 27-7 16-7-30zM2455 448l7 17-7 27-7-17zM2415 448l7 17 0 27-7 10-7-7 0-40zM4145 432l7 13-4 33-10-13 0-20zM2365 398l7 7 0 30-7 13-7-13zM2405 392l7 10 0 40-7 6-7-6 0-40zM4155 368l7 24-7 33zM2435 335l0 40-7-10zM2395 332l7 16 0 24-7 16-7-10 0-30zM2355 332l7 13-7 40-7-40zM2015 322l10 113 7 17 3 70 7 13 3 67 7 16 3 67 7 17 3 66 10 47 0 37 7 13 3 67 7 13 3 70 7 13 3 64 7 16 3 60 10 47 0 33 7 14 3 66 7 14 3 63 7 13 3 60 10 47 0 33 7 14 3 56 7 14 3 63 7 13 23 204 7 16 3 54 7 13 3 60 7 13 13 127 7 10 13 127 7 10 3 56 7 10 3 57 7 13 3 50 7 14 3 53 7 13 3 54 7 10 3 53 7 10 3 53 7 10 13 114 7 10 13 113 17 70 3 47 7 10 13 106 7 10 3 50 7 10 3 44 7 10 3 46 7 10 3 44 7 10 3 46 7 10 13 97 7 10 13 93 7 10 3 40 7 10 3 40 7 10 3 40 7 10 3 40 7 10 23 120 140 0-17-50 0-23-10-13 0-27-10-13 0-20-10-20 4-37 10 10 0 20 10 17 0 26 10 14 0 23 10 13 13 70 7 10 63 0 0-13-17-37-3-26-17-44-3-26-7-7-3-27-7-10-3-26-37-120 0-17-10-23-13-70-7-7-3-33-7-10-3-34-7-6-10-67-10-20-3-33-7-10 0-27-13-40 3-10-10-13 0-24-10-23 0-30-13-30 3-20-10-10 0-27-10-23 0-27-10-23 0-30-10-17 0-26-6-10-4-40-10-24 0-36-10-14 0-33-10-20 0-37-10-13 0-40-10-17 0-36-6-4-4-13 0-40-10-13 0-37-10-20 0-37-10-16 0-40-10-17 0-47 7-3 7 13 0 40 10 17 0 40 10 17 0 30 10 26 0 34 10 20 0 36 10 17 0 40 10 13 0 34 10 20 0 30 10 20 0 36 10 17 0 30 10 17 0 36 10 17 0 30 10 17 0 33 10 13 0 27 20 70 0 27 10 20 0 23 10 20 0 30 10 17 0 23 10 20 0 23 10 20 10 67 10 20 10 60 10 20 0 20 10 20 0 20 20 60 0 17 10 20 13 66 7 7 3 30 7 7 3 30 7 6 3 27 7 7 3 26 7 10 3 24 7 6 23 90 27 0 3-6 3 6 47-3-7-7-3-20-27-60 0-13-10-13 0-14-10-16 0-14-10-16-23-84-7-6-3-27-37-110-3-27-7-6-10-54-10-20 0-23-10-13 0-20-10-17-10-60-10-17 0-20-10-23 0-27-10-13 0-23-10-17 0-30-10-10 0-30-10-13 0-27-10-17 0-30-10-13 0-33-10-10 0-34-10-13 0-33-10-10 4-40 10 6 0 30 10 20 0 27 10 17 0 33 10 10 0 27 10 16 0 30 10 14 0 26 10 17 0 30 10 10 0 27 10 13 0 33 10 10 0 27 10 13 0 24 10 16 0 20 10 17 3 30 7 7 0 26 10 14 0 16 10 20 3 27 7 7 0 23 10 10 0 20 10 17 23 90 7 6 0 17 10 17 0 13 10 17 3 23 7 7 0 13 10 17 13 50 27 60 0 13 20 40 0 13 100 0 3-6 3 6 80 0-3-13-47-60-3-13-7-4-3-13-7-3-30-54-23-56-7-4-3-16-17-27-3-20-17-27-3-20-17-30-3-20-27-60-3-23-17-33-13-54-7-6-3-24-17-36-3-27-7-7-3-26-7-7-3-27-7-6-3-27-7-7-13-63-7-7-3-30-7-10-13-66-7-7 0-17-20-63-3-33-7-7-3-33-7-7-13-77-7-6-3-37-7-7-3-36-7-10-3-37-7-10-3-37-7-10-3-40-7-10-3-40-7-10-3-46-7-7-13-90-7-7-3-40-7-10-3-40-10-26 0-24-7-10-3-40-7-10-3-43-7-7-3-43-7-10-3-43-7-10-3-44-7-10-3-46-7-7-3-47-7-10-3-46-7-7-13-107-7-10-3-46-7-10-3-50-10-27 0-30-7-10-3-50-10-30 0-33-7-7-3-53-7-10-3-54-7-10-3-50-7-10-13-120-7-10-3-53-7-10-3-57-7-10-3-56-7-10-3-57-7-10-3-57-7-10-3-60-7-10-3-60-7-10-3-60-7-10-3-60-7-10-3-60-7-10-3-63-7-10-3-63-7-10-3-40-67 0-3 6-3-6zM2625 3638l7 10 0 34 10 10 0 33 10 13 0 30 10 10 0 34 10 10 0 26 10 14-4 36-10-6 0-30-10-14 0-30-10-10 0-33-10-10 0-33-10-10 0-34-10-10 0-33zM2615 3595l7 10 0 30-7 7-7-10 0-30zM2602 3552l10 6 0 34-7 6-7-10zM2595 3505l7 7 0 33-7 7-7-10 0-30zM2585 3458l7 10 0 30-7 7-7-10 0-30zM2575 3408l7 10 0 34-7 6-7-10 0-33zM2565 3362l7 10 0 30-7 6-7-10 0-30zM2555 3312l7 10 0 30-7 6-7-10 0-30zM2545 3265l7 10 0 27-7 10-7-10 0-30zM2535 3212l7 10 0 30-7 10-7-10 0-34zM2525 3165l7 7 0 30-7 10-7-14 0-26zM2515 3112l7 10 0 26-7 10-7-10 0-26zM2505 3058l7 10 0 30-7 7-7-10 0-27zM2495 3005l7 10 0 30-7 10-7-10 0-30zM2485 2952l7 13 0 27-7 10-7-10 0-30zM2475 2898l7 10 0 30-7 10-7-13 0-27zM2465 2842l7 13 0 27-7 10-7-10 0-30zM2455 2788l7 10 0 27-7 10-7-10 0-27zM2562 2778l10 10 0 34 10 16 0 34 6 3 4 43 10 14 0 33-7 7-7-7 0-33-10-10 0-44-10-10 0-33-10-13zM2445 2728l7 14 0 30-7 6-7-10 0-26zM2435 2675l7 10 0 27-7 10-7-10 0-27zM2425 2618l7 10 0 27-7 10-7-10 0-27zM2415 2558l7 10 0 27-7 10-7-10 0-30zM2515 2525l7 10 0 37 10 13 0 40 10 13 0 34 10 16 0 37 10 17-4 40-10-10 0-30-10-20 0-40-10-10 0-40-10-10 0-44-10-10 0-36zM2405 2502l7 10 0 26-7 14-7-17 0-23zM2502 2472l10 10-4 40-10-7zM2395 2442l7 10 0 26-7 10-7-10 0-26zM2495 2418l7 14 0 33-7 7-7-10 0-34zM2385 2378l7 14 0 26-7 14-7-14 0-26zM2435 2368l7 14-4 46-10-10 0-40zM2482 2362l10 13 0 33-7 10-7-13zM2375 2318l7 14 0 23-7 10-7-10 0-23zM2472 2308l10 14-4 43-10-13zM2365 2258l7 10 0 27-7 10-7-10 0-27zM2465 2248l7 14 0 36-7 10-7-13 0-37zM2355 2195l7 10 0 27-7 10-7-10 0-27zM2452 2192l6 3 4 13-4 40-10-6zM2445 2138l7 14 0 36-7 7-7-13 0-37zM2345 2128l7 17 0 23-7 14-7-14 0-23zM2435 2082l7 13 0 30-7 10-7-10 0-30zM2382 2072l10 10 0 46 10 7 0 53 10 17 0 43 10 20 0 40 10 14 0 43-7 7-7-14 0-40-10-16 0-44-10-16 0-40-10-17 0-47-10-16zM2335 2065l7 13 0 24-7 16-7-16 0-24zM2425 2025l7 13-4 40-10-10 0-33zM2375 2008l7 17-4 47-10-10 0-44zM2325 2002l7 13 0 23-7 14-7-14 0-23zM2415 1965l7 17 0 23-7 13-7-6 0-37zM2365 1948l7 10 0 47-7 7-7-14 0-43zM2315 1938l7 10 0 27-7 13-7-13 0-27zM2405 1905l7 13 0 30-7 14-7-10 0-37zM2355 1888l7 10 0 44-7 6-7-13 0-37zM2305 1872l7 13 0 23-7 17-7-13 0-27zM2395 1842l7 20 0 26-7 10-7-10 0-26zM2342 1822l10 10 0 46-7 7-7-13zM2295 1808l7 10 0 24-7 13-7-13 0-24zM2385 1785l7 10-4 43-10-10 0-36zM2335 1758l7 7-4 60-10-13 0-47zM2285 1735l7 17 0 23-7 13-7-13 0-23zM2375 1722l7 16 0 27-7 13-7-10 0-30zM2325 1692l7 6 0 50-7 10-7-13 0-47zM2275 1668l7 17 0 23-7 10-7-10 0-23zM2365 1658l7 17 0 33-7 7-7-13 0-30zM2315 1625l7 13 0 47-7 7-7-14 0-43zM2265 1602l7 13 0 20-7 17-7-17 0-20zM2355 1595l7 17 0 30-7 13-7-13 0-30zM2305 1562l7 10 0 40-7 13-7-17 0-40zM2345 1532l7 33-7 27-7-14 0-30zM2255 1532l7 13 0 23-7 14-7-14 0-23zM2295 1498l7 7 0 47-7 10-7-17 0-37zM2245 1468l7 24-7 20-7-17zM2335 1465l7 20 0 20-7 17-7-10 0-27zM2285 1428l7 14 0 43-7 7-7-14 0-40zM2325 1402l7 16 0 30-7 10-7-10 0-33zM2235 1395l7 10-7 40-7-17 0-23zM2275 1355l7 13 0 44-7 13-7-17 0-40zM2315 1338l7 20 0 20-7 14-7-7 0-33zM2225 1322l7 13 0 20-7 17-7-17 0-20zM2305 1272l7 13 0 30-7 13-7-10 0-33zM2215 1248l7 24-7 30-7-24zM2255 1218l7 10 0 54 10 16 0 50-7 7-7-10 0-57-6-3-4-13 0-47zM2295 1205l7 37-7 20-7-14 0-33zM2205 1175l7 20-7 33-7-13zM2245 1152l7 13 0 40-7 10-7-10 0-37zM2285 1135l7 20 0 30-7 10-7-10 0-30zM2235 1078l7 10 0 47-7 13-7-16 0-47zM2275 1068l7 17 0 27-7 16-7-10 0-33zM2225 1005l7 10 0 50-7 10-7-10 0-50zM2265 998l7 24 0 23-7 10-7-7 0-30zM2215 935l7 10 0 47-7 10-7-14 0-40zM2255 932l7 33-7 23-7-13 0-30zM2165 878l7 17-7 37zM2205 862l7 10 0 46-7 14-7-14 0-40zM2245 858l7 24-7 36-7-13 0-40zM2235 788l7 17-7 40-7-17 0-26zM2195 788l7 14 0 43-7 10-7-13 0-37zM2225 715l0 60-7-10 0-40zM2185 715l7 10 0 47-7 13-7-17 0-43zM2215 642l7 33-7 23-7-13zM2175 642l7 10 0 40-7 13-7-13 0-37zM2205 565l0 60-7-10zM2165 562l7 10 0 53-7 7-7-17 0-47zM2195 495l0 57-7-17zM2155 488l7 10 0 47-7 13-7-20 0-36zM2185 418l0 60-7-13zM2145 412l7 10 0 43-7 13-7-20 0-33zM2105 412l7 13-7 47-7-24zM2175 345l0 60-7-13 0-37zM2135 328l7 14 0 36-7 24-7-20 0-34zM1912 322l13 150 7 16 3 74 7 23 3 70 7 13 3 74 7 16 13 160 7 14 0 40 10 50 3 70 7 20 3 70 7 10 3 70 10 43 0 40 7 17 13 153 7 10 0 37 13 73 0 47 7 13 13 143 7 14 3 63 10 40 0 40 7 13 3 67 7 13 3 67 7 7 3 66 7 14 3 63 7 13 3 60 7 14 3 63 7 10 13 137 10 33 0 40 7 10 3 60 7 13 3 57 7 10 3 63 7 7 3 63 7 14 3 56 7 10 3 57 7 13 3 54 7 10 3 60 7 10 3 56 7 7 3 60 7 10 3 53 7 10 0 30 10 37 3 50 7 13 3 50 7 7 3 53 7 14 3 50 7 10 13 113 7 7 0 30 10 33 13 107 7 6 3 50 100 0-10-60-7-10-3-43-7-10-3-40-7-13-3-40-7-14-3-43-7-10-13-97-7-13-23-160-10-30 0-27-7-10-13-110-7-10-3-50-7-10-3-50-7-10-3-53-7-10-3-50-7-13-3-50-7-10-13-120-7-10-3-50-7-14-3-53-7-13-3-54-7-13-3-53-7-14-3-56-7-10-23-194-7-13-3-60-7-10-3-60-7-13-13-134-7-13-13-133-7-10-13-137-7-13-13-140-7-14-3-66-7-10-3-64-7-13-3-67-10-43 0-40-7-10-3-63-10-47 0-40-7-10-3-67-7-16-3-67-7-13-3-70-7-14-13-153-7-13-3-70-7-17-3-67-7-20-3-70-7-13-3-70-7-17-3-70-7-26zM1795 322l20 226 7 17 3 80 7 17 3 76 7 17 3 83 7 14 3 80 7 13 3 77 7 16 3 80 7 17 3 73 7 20 3 70 7 14 13 166 7 10 3 84 7 13 3 73 7 17 13 157 7 13 3 70 17 107 3 70 7 13 13 157 7 13 13 150 7 13 3 70 7 14 3 73 7 10 3 63 7 14 3 66 7 14 3 66 7 14 3 63 7 17 3 60 7 16 3 64 7 13 13 137 7 13 13 140 7 10 3 60 7 10 3 67 7 13 3 60 7 10 3 60 7 10 3 60 7 13 3 54 7 13 3 63 7 10 3 57 7 10 13 127 7 26 46 0 0-43-10-20 0-30-10-30-3-57-7-16-3-50-7-14 0-36-10-30 0-37-13-50 3-23-10-27-3-50-7-17 0-53-10-20 0-53-10-14 0-43-13-50 3-30-10-20 0-47-10-23 0-43-10-30 0-54-10-26 0-40-10-34 0-40-10-36 0-47-10-23 0-54-10-23 0-53-10-24 0-50-10-30 0-46-10-30 0-64-10-16 0-60-10-17 0-63 7-7 7 17 0 40 10 33 0 53 10 20 0 54 10 33 0 50 10 27 0 53 10 23 0 47 10 30 0 50 10 23 0 50 10 27 0 37 10 40 0 46 10 27 0 50 10 23 0 47 10 23 0 47 10 27 0 46 10 24 0 43 10 27 0 40 10 30 0 43 10 27 0 40 10 23 0 43 10 27 0 37 10 33 3 50 7 13 0 37 20 93 0 40 10 27 3 53 17 0 3-6 3 6 24 0 3-6 3 6 24 0-17-113-7-13-3-47-7-13-3-47-7-13-13-110-7-14-3-53-7-10-3-50-7-13-3-54-7-10-3-53-7-10-3-57-7-10-3-56-7-10-3-57-7-10-13-127-7-10-3-56-7-10-13-130-7-14-3-63-7-7-3-60-7-13-3-57-7-10-3-23 3-17-10-40-3-56-7-14-3-63-7-13-13-137-7-17 0-30-10-43-3-63-10-37 0-37-20-126 0-37-7-10-13-147-7-13-3-67-10-43 0-43-7-14-3-66-7-14-3-70-7-13-3-67-7-16-13-154-7-16-3-77-10-40 3-10-10-50-3-70-7-13-3-74-7-13 0-43-10-50-13-157-7-17-13-170-7-13-6-93-50 0 0 40-7 6-7-13 0-33zM2355 4035l7 10-7 40-7-10 0-30zM2345 3972l7 33-7 17-7-10zM2335 3905l0 53-7-10 0-23zM2325 3842l7 20-7 30-7-7 0-30zM2315 3778l0 54-7-7zM2305 3718l7 17-7 33-7-13 0-20zM2295 3648l7 27-7 30-7-10 0-30zM2285 3585l0 57-7-7 0-33zM2275 3522l0 50-7-34zM2235 3248l0 54-7-17 0-27zM2202 3235l3-3 3 6-3 4zM2225 3182l0 53-7-7 0-33zM2215 3118l0 44-7-14zM2205 3038l0 57-7-17zM2195 2972l0 53-7-40zM2185 2895l0 53-7-23zM2175 2818l0 60-7-13zM2155 2672l0 56-7-23zM2145 2605l0 53-7-13zM2135 2522l0 56-7-33zM2125 2448l0 57-7-30zM2065 1982l0 50-7-7zM2002 1805l10 10 0 67 10 13 0 70 10 10 0 77 6 6 4 74 10 20 0 56 10 20 0 70-7 7-7-13 0-50-10-30 0-57-6-7-4-80-10-20 0-63-10-20 0-60-10-27-3-63zM2002 1485l3-3 3 6-3 4zM1955 1378l7 10-4 70 14 14 0 70 10 13 0 73 10 14 0 73 10 13-4 77-10-13 0-57-10-23 0-64-10-26 0-57-10-27 0-66-6-7-4-17 0-60zM1972 1225l3-3 3 6-3 4zM1895 838l7 10 0 70 10 20 0 77 10 7 0 70 10 26 0 74 10 16 0 70 10 20-4 77-10-10 0-63-6-7-4-23 0-70-6-4-4-13 0-70-6-3-4-20 0-60-10-30 0-67-10-20 0-67zM1882 745l10 10 0 73-7 10-7-20zM1875 655l7 10 0 77-7 6-7-20 0-66zM1862 558l10 7 0 87-7 6-7-26-3-67zM1845 368l7 14-4 76 10 7 4 10 0 73-7 10-7-20 0-70-6-3-4-17 0-73zM1575 322l0 36 7 14 3 86 7 14 3 80 7 16 3 84 10 50 0 46 7 14 3 83 7 13 3 84 7 13 3 80 10 50 0 47 7 13 3 83 7 14 3 80 7 13 3 80 7 17 3 80 7 13 3 77 7 16 3 77 7 13 3 80 7 14 3 76 7 14 3 80 7 13 3 77 7 13 3 77 7 13 3 77 10 43 0 47 7 13 3 73 7 14 3 76 7 10 3 77 7 13 3 74 7 13 3 73 7 14 3 73 10 43 0 44 7 13 3 70 7 13 3 70 7 14 3 70 10 43 0 43 7 10 3 70 7 14 3 70 7 10 3 70 7 16 3 67 7 13 3 64 10 43 0 40 7 10 3 67 7 13 3 67 10 43 0 37 7 10 3 66 7 20 60 0 3-16 3 16 30 0 7-13 7 13 96 0-3-60-7-13-13-130-7-13-13-130-7-14-3-56-7-17-3-57-7-13-3-60-7-17-3-60-7-13-3-60-7-13-3-64-7-13-3-63-7-17-3-63-7-14-3-60-7-16-13-147-7-10-3-67-7-13-13-147-7-13-13-153-7-14-3-70-7-16-3-67-10-50 0-37-7-13-13-160-7-10-3-73-7-14-13-163-7-13-3-74-7-16-3-70-7-20-3-74-7-10-3-80-7-10-3-80-7-16-3-77-7-13-3-80-7-17-13-170-7-13-3-84-7-13-13-177-7-13-3-80-7-17-3-80-7-10-3-93-7-10-6-93-84 0-3 43-7-43zM2095 4008l7 17-7 47-7-14 0-33zM2055 4008l7 44-7 20-7-17zM2085 3935l7 20-7 47-7-10 0-37zM2045 3932l7 13 0 30-7 17-7-47zM2075 3858l7 17 0 30-7 17-7-10 0-37zM2065 3782l7 23-7 40-7-10 0-30zM2025 3775l7 30-7 33zM2055 3705l7 20 0 37-7 13-7-10 0-40zM2015 3698l7 24-7 40-7-37zM2045 3628l7 17-7 47-7-14 0-33zM2072 3622l3-4 3 7-3 3zM2005 3618l7 7-7 57-7-44zM2035 3548l7 17 0 30-7 17-7-7 0-40zM2025 3468l7 17 0 37-7 13-7-13zM1985 3458l7 50-7 14-7-17zM2015 3382l7 20 0 36-7 20-7-13 0-43zM2005 3308l7 17-7 50-7-13 0-37zM1965 3295l7 10 0 30-7 27zM1995 3225l7 30-7 40-7-10zM1955 3215l7 10-7 53zM1985 3142l7 23-7 47-7-10 0-37zM2012 3135l3-3 3 6-3 4zM1975 3062l7 33-7 43-7-20zM1935 3048l7 17-7 47zM1965 2982l7 13-7 53-7-10 0-40zM1925 2962l7 16-7 47zM1992 2952l3-4 3 7-3 3zM1955 2895l7 50-7 20-7-10zM1945 2812l0 66-7-13zM1905 2795l7 17-7 46zM1935 2725l7 50-7 20-7-13zM1895 2702l7 23-7 47zM1925 2645l7 10-7 57-7-17 0-40zM1885 2618l7 7-7 60zM1952 2615l3-3 3 6-3 4zM1915 2555l0 70-7-13 0-34zM1875 2532l7 13-7 50zM1905 2472l0 66-7-20zM1865 2442l7 33-7 33-7-33zM1895 2378l0 67-7-10zM1855 2358l7 17-7 47-7-47zM1885 2295l0 70-7-17zM1845 2265l7 7-7 60zM1902 2222l3-4 3 7-3 3zM1875 2205l0 70-7-10 0-33zM1835 2175l7 10-7 57zM1892 2132l3-4 3 7-3 3zM1855 2025l7 10-7 63-7-20 0-43zM1845 1935l7 20-7 50-7-13 0-37zM1862 1862l3-4 3 7-3 3zM1835 1835l7 57-7 20-7-14zM1825 1748l0 74-7-17zM1815 1652l0 80-7-24zM1775 1622l7 13-7 60zM1805 1558l0 80-7-33zM1795 1468l0 70-7-13zM1755 1425l7 13 0 57-7 10zM1785 1372l0 76-7-16zM1802 1305l3-3 3 6-3 4zM1775 1278l7 17 0 40-7 13-7-13 0-40zM1765 1178l7 17-7 63-7-23 0-40zM1755 1085l0 73-7-13zM1715 1045l7 10-7 63zM1745 992l0 70-7-17zM1705 948l7 27-7 47zM1735 888l0 74-7-17zM1695 852l7 13-7 57zM1725 792l7 53-7 23-7-16zM1715 692l0 76-7-13zM1675 648l7 14 0 36-7 27zM1732 632l3-4 3 7-3 3zM1705 588l0 80-7-13 0-40zM1695 488l0 77-7-47zM1685 392l0 73-7-10zM1645 345l7 40 0 30-7 7zM1332 322l0 320 6 3 4 50-4 40-6 3 0 1087 6 3 17 284 7 23 3 117 7 26 3 127 7 10 3 123 7 20 3 120 7 27 23 393 7 24 13 256 7 20 3 117 7 17 13 256 7 27 3 103 7 20 3 117 7 20 0 23 70 0 3-90 3 90 80 0-3-116-7-20-3-117-7-20-13-250-10-70 0-67-7-20-3-120-7-16-3-114-7-26-3-120-7-20-3-114-7-26-3-124-7-20-3-120-7-23-3-123-7-17-3-130-7-20-3-123-7-24-3-130-7-13-3-133-7-20-3-134-7-20-3-126-7-20-3-130-7-24-3-130-7-26-3-134-7-20-3-133-7-27-3-133-7-23-3-140-7-20-13-280-57 0-3 86-3-86zM1605 4045l0 33-7-23zM1565 3935l7 10-7 27zM1595 3895l0 50-7-10zM1545 3615l7 70-7 27zM1525 3342l7 83-7 10zM1515 2778l0 90-7-13zM1475 2665l7 10-7 57zM1445 2242l7 53-7 43zM1465 2075l0 90-7-10zM1415 1808l7 17-7 87zM1385 1378l7 77-7 27zM1375 1242l7 63-7 23zM1395 1055l0 93-7-13zM1355 938l7 47 0 30-7 23zM1375 755l0 103-7-16z"/></g></g>
<defs><linearGradient id="sm" x1="0" y1="0" x2="0" y2="1"><stop offset="0" stop-color="#d8d8d8"/><stop offset="1" stop-color="#fff"/></linearGradient></defs><path d="M517.6 33.2L522.6 33.2L520 63L518.8 63Z" fill="url(#sm)"/><path fill="#f00" stroke="#f00" stroke-width="0.4" fill-rule="evenodd" d="M402.6 379.9 401.9 379.4 400.6 379.6 394.9 382.1 389.6 383.9 388.1 384.9 387.6 384.6 381.6 386.9 380.6 387.9 379.6 387.6 374.1 389.6 372.1 390.9 371.4 390.6 364.4 393.4 355.9 396.1 354.4 396.9 354.1 397.9 354.9 398.4 371.4 392.6 372.9 391.6 373.4 391.9 380.4 389.4 381.4 388.6 382.4 388.6 387.6 386.6 388.6 385.9 388.9 386.1 401.4 381.4 402.6 380.4ZM430.6 368.1 429.6 367.6 417.6 372.9 417.1 373.6 416.1 373.4 408.1 376.6 406.9 377.4 406.9 378.4 407.6 378.9 416.4 375.4 417.4 374.4 418.9 374.4 429.9 369.6ZM446.1 361.1 445.4 360.6 433.6 365.9 431.6 367.1 431.6 368.1 432.4 368.6 445.6 362.6 446.1 362.1ZM492.6 336.9 491.9 336.4 480.4 343.1 474.4 346.1 473.9 346.9 473.6 346.6 452.4 357.4 452.1 358.6 452.9 359.1 453.9 358.9 478.1 346.6 491.9 338.9 492.6 338.1ZM532.1 308.1 531.4 307.6 524.1 313.9 515.9 320.4 508.6 325.6 498.4 332.4 498.1 333.9 499.1 334.4 501.4 333.1 519.6 320.6 532.1 310.4ZM559.9 264.4 559.4 264.1 558.6 264.6 557.6 269.1 555.4 275.4 553.4 279.9 550.9 283.9 550.9 284.4 552.1 285.1 551.6 285.6 550.6 285.1 549.6 285.9 546.1 291.4 543.1 294.9 543.1 295.6 543.9 296.1 543.6 296.6 541.9 296.6 532.6 306.1 532.9 308.6 534.1 308.6 542.9 299.9 542.9 299.1 542.1 298.6 542.9 297.9 543.9 298.4 545.4 297.1 550.9 290.1 551.4 288.6 552.6 287.6 555.9 282.4 559.6 274.6 559.4 273.6 558.1 273.6 557.9 273.1 559.9 267.1ZM469.9 191.4 469.6 192.4 480.9 203.6 481.4 204.9 484.4 208.6 485.9 209.9 485.9 210.6 489.6 216.4 490.4 216.9 490.4 217.6 494.4 225.4 496.6 231.9 497.4 232.4 497.9 232.1 498.1 230.9 495.4 223.4 492.6 217.9 491.4 216.4 490.9 214.9 488.6 211.4 486.6 209.4 486.6 208.6 483.1 204.1 481.4 202.6 481.4 202.1 476.9 197.1 470.9 191.4ZM515.1 185.6 514.9 186.9 516.4 188.1 514.9 188.4 514.6 189.1 528.4 200.1 538.4 209.9 539.4 209.9 539.9 208.6 541.6 210.4 541.4 210.9 540.6 210.4 540.1 210.6 539.9 211.6 544.1 216.4 546.6 219.9 547.9 220.9 548.6 220.4 548.9 219.6 549.9 221.1 548.6 221.4 548.4 222.4 552.6 228.9 553.6 231.4 554.9 232.1 554.6 233.4 556.1 236.6 558.4 243.9 559.4 249.4 559.4 251.9 560.4 252.6 560.9 252.4 561.1 251.1 560.1 244.4 561.6 243.9 561.1 241.6 561.6 241.1 561.6 239.6 558.9 232.1 556.6 227.6 555.6 226.9 555.6 225.9 553.1 221.6 552.1 220.6 550.9 218.4 549.9 217.4 548.9 217.1 548.6 215.4 541.4 207.1 540.4 207.1 539.6 208.9 534.6 203.9 535.1 203.6 539.1 207.4 539.9 206.9 539.9 205.6 534.9 200.6 521.1 189.1 516.4 185.6ZM555.1 231.6 555.6 231.1 556.1 231.9 555.6 232.1ZM554.1 227.9 555.1 228.4 554.6 229.4 553.9 228.4ZM547.4 217.4 548.6 217.9 548.4 219.4 547.1 217.9ZM530.9 200.4 531.4 200.1 532.1 200.9 531.6 201.1ZM530.1 199.6 530.4 199.4 530.9 199.9 530.4 200.1ZM528.6 198.4 529.1 198.1 529.9 198.9 529.4 199.1ZM526.9 196.9 527.4 196.6 527.9 197.1 527.4 197.4ZM525.4 195.6 525.9 195.4 526.6 196.1 526.1 196.4ZM522.6 193.4 523.1 193.1 523.6 193.6 523.1 193.9ZM521.6 192.6 522.1 192.4 522.6 192.9 522.1 193.1ZM520.4 191.6 520.9 191.4 521.4 191.9 520.9 192.1ZM518.1 189.9 518.6 189.6 519.1 190.1 518.6 190.4ZM517.1 189.1 517.6 188.9 518.1 189.4 517.6 189.6ZM454.6 179.1 454.6 179.9 458.4 182.6 464.1 187.6 464.9 187.9 465.6 187.4 465.6 186.6 457.4 179.9 455.4 178.6ZM438.6 167.9 438.6 168.6 444.9 172.6 453.4 178.9 454.4 178.4 454.4 177.9 453.4 176.9 444.9 170.9 439.4 167.4ZM472.6 160.4 472.6 161.1 473.1 161.6 476.9 163.4 486.4 168.9 485.9 169.1 473.6 162.4 472.4 162.9 472.6 163.6 488.9 172.4 500.6 179.6 501.4 179.1 501.4 178.4 500.4 177.6 501.6 176.9 501.6 175.9 486.4 166.6 473.9 159.9ZM499.1 176.9 499.6 176.6 500.1 177.1 499.6 177.4ZM498.4 176.4 498.9 176.1 499.4 176.6 498.9 176.9ZM497.1 175.6 497.6 175.4 498.1 175.9 497.6 176.1ZM495.9 174.9 496.4 174.6 497.4 175.4 496.9 175.6ZM493.9 173.6 494.4 173.4 496.1 174.6 495.6 174.9ZM492.1 172.6 492.6 172.4 494.1 173.4 493.6 173.6ZM490.9 171.9 491.4 171.6 492.4 172.4 491.9 172.6ZM487.9 170.1 489.1 170.1 491.1 171.6 490.6 171.9ZM486.1 169.1 486.6 168.9 488.1 169.9 487.6 170.1ZM416.4 154.6 416.6 155.6 424.9 160.1 435.9 166.9 436.6 166.4 436.4 165.4 426.6 159.4 417.4 154.1ZM441.1 147.6 441.4 148.6 446.9 151.1 447.6 151.1 456.1 155.4 457.1 154.9 457.6 156.1 467.4 160.9 468.4 160.4 467.9 159.4 458.1 154.6 457.4 155.1 456.6 153.9 442.6 147.4 441.9 147.1ZM441.4 145.1 441.4 145.9 441.9 146.4 447.1 148.9 447.9 148.9 455.6 152.9 456.6 153.1 457.4 152.6 457.9 153.9 467.4 158.6 468.6 157.9 468.4 157.1 458.9 152.4 457.6 152.9 456.9 151.4 442.4 144.6ZM419.1 138.4 419.4 139.1 430.4 143.6 438.4 147.1 439.1 146.6 439.1 146.1 438.1 145.4 420.4 137.9ZM380.4 136.4 380.6 137.4 388.9 141.1 405.1 149.4 406.1 148.9 405.6 147.9 382.4 136.4 381.1 135.9ZM419.4 135.9 419.9 136.9 427.9 140.1 438.4 144.9 439.6 144.4 439.6 143.6 437.9 142.6 420.9 135.4ZM367.6 130.6 367.6 131.4 378.9 136.6 379.9 136.1 379.6 135.1 368.4 130.1ZM383.6 124.9 383.6 125.4 384.9 126.1 399.1 131.1 407.6 134.6 408.9 134.1 408.6 133.4 392.6 127.1 384.9 124.4ZM371.4 120.6 371.4 121.1 372.1 121.6 382.1 125.1 383.1 124.6 383.1 124.1 382.1 123.4 372.9 120.1ZM330.4 115.4 330.6 116.1 345.9 122.1 353.1 125.4 354.4 124.9 355.1 126.1 361.4 128.9 362.1 128.9 366.1 130.9 367.1 130.4 366.6 129.4 356.4 124.9 355.4 124.6 354.6 125.1 353.9 123.9 331.6 114.9ZM339.9 110.6 339.9 111.1 340.9 111.9 348.6 113.9 357.6 116.9 358.9 116.4 359.1 117.1 359.9 117.6 366.1 119.4 369.9 120.9 370.9 120.4 370.9 119.9 369.9 119.1 359.9 115.9 359.1 116.4 358.6 115.6 355.4 114.4 341.1 110.1ZM343.1 107.6 343.1 108.4 344.4 109.1 359.1 114.1 360.1 113.9 361.9 115.1 370.6 118.1 371.9 117.6 372.1 118.4 373.4 119.1 383.1 122.6 383.9 122.1 384.6 123.1 396.9 127.6 407.9 132.1 409.4 131.6 409.4 131.1 407.9 130.1 386.4 121.9 384.9 121.6 384.1 122.1 383.4 120.9 373.1 117.1 372.1 117.6 371.9 116.9 371.1 116.4 361.9 113.1 360.6 113.4 359.6 112.4 344.1 107.1ZM278.9 96.4 278.9 97.1 279.6 97.6 290.4 101.4 291.6 100.9 292.4 101.9 293.9 102.6 305.6 106.6 315.1 110.4 316.4 109.9 316.4 109.4 315.4 108.6 292.9 100.4 291.9 100.9 290.6 99.6 279.9 95.9ZM265.6 91.9 265.6 92.6 266.4 93.1 277.4 96.9 278.4 96.4 277.9 95.4 266.6 91.4ZM276.1 87.1 276.6 88.1 277.9 88.6 280.6 89.1 286.6 91.1 287.6 90.9 289.1 91.9 304.1 96.4 305.4 95.9 305.4 95.1 304.6 94.6 288.9 89.9 288.1 90.1 287.1 89.4 284.6 88.6 284.4 88.9 277.6 86.6ZM263.6 83.4 263.6 84.1 264.6 84.9 270.9 86.6 271.1 86.4 274.4 87.6 275.6 87.1 275.4 86.1 264.6 82.9ZM234.6 81.9 235.1 82.9 248.1 86.9 251.1 88.1 252.9 88.4 264.1 92.4 264.9 91.9 264.9 91.1 263.6 90.4 236.9 81.6 235.4 81.4ZM233.6 75.4 234.1 76.4 235.4 76.9 242.1 78.4 245.6 79.6 246.9 79.6 248.4 80.4 251.4 80.9 252.1 81.4 262.1 84.1 263.1 83.6 262.9 82.6 258.4 81.1 235.4 74.9 234.4 74.9ZM204.9 72.6 205.4 73.6 213.1 76.1 214.1 76.1 230.1 81.4 231.1 80.9 230.9 79.9 227.4 78.6 218.4 76.1 207.1 72.4 205.6 72.1ZM204.4 67.6 204.4 68.4 205.4 69.1 212.4 70.9 213.6 70.9 214.4 71.4 228.9 75.1 230.1 74.6 229.9 73.6 225.9 72.4 221.9 71.6 220.1 70.9 205.4 67.1ZM181.6 65.4 181.6 66.1 182.1 66.6 184.1 67.4 186.9 67.9 192.6 69.9 193.6 69.6 195.1 70.6 200.9 72.4 202.4 71.9 201.9 70.9 194.6 68.6 194.1 68.9 193.1 68.1 187.1 66.6 182.4 64.9ZM181.1 62.1 181.1 62.9 182.6 63.6 190.1 65.4 190.4 65.1 192.1 65.9 193.1 65.6 194.1 66.4 200.4 67.9 201.6 67.4 201.6 66.6 200.4 65.9 194.1 64.4 193.6 64.6 192.1 63.9 186.9 62.6 186.6 62.9 182.9 61.6 181.9 61.6ZM158.1 56.9 158.4 59.1 159.4 59.9 169.1 62.9 170.1 62.9 179.1 65.9 180.4 65.4 180.4 64.6 179.1 63.9 168.4 60.6 169.9 60.4 170.6 60.9 172.9 61.4 173.1 61.1 178.4 62.6 179.9 62.1 179.9 61.4 178.6 60.6 159.6 56.4Z"/><g fill="#00f"><circle cx="156.1" cy="56.5" r="2.9"/><circle cx="336.0" cy="109.9" r="2.9"/><circle cx="498.4" cy="237.3" r="2.9"/><circle cx="561.0" cy="247.4" r="2.9"/><circle cx="348.0" cy="399.7" r="2.9"/></g>
<path d="M133.7 410.1V440.9M133.7 32.2V3.2M177.5 410.1V425.4M177.5 32.2V17.2M221.3 410.1V425.4M221.3 32.2V17.2M265.1 410.1V425.4M265.1 32.2V17.2M308.9 410.1V425.4M308.9 32.2V17.2M352.7 410.1V440.9M352.7 32.2V3.2M396.5 410.1V425.4M396.5 32.2V17.2M440.3 410.1V425.4M440.3 32.2V17.2M484.1 410.1V425.4M484.1 32.2V17.2M527.9 410.1V425.4M527.9 32.2V17.2M571.7 410.1V440.9M571.7 32.2V3.2M133.8 32.1H106.8M573.2 32.1H600.2M133.8 69.9H120.8M573.2 69.9H587.2M133.8 107.7H120.8M573.2 107.7H587.2M133.8 145.5H120.8M573.2 145.5H587.2M133.8 183.3H120.8M573.2 183.3H587.2M133.8 221.1H106.8M573.2 221.1H600.2M133.8 258.9H120.8M573.2 258.9H587.2M133.8 296.7H120.8M573.2 296.7H587.2M133.8 334.5H120.8M573.2 334.5H587.2M133.8 372.3H120.8M573.2 372.3H587.2M133.8 410.1H106.8M573.2 410.1H600.2" stroke="#000" stroke-width="1.5" fill="none"/>
<rect x="133.8" y="32.2" width="439.4" height="377.9" fill="none" stroke="#000" stroke-width="2.2"/>
<g font-family="'Liberation Sans', Arial, Helvetica, sans-serif" fill="#000"><g transform="translate(47.14 44.89) scale(0.8382 1.0000)"><text font-size="40.56">0.2</text></g><g transform="translate(47.15 234.39) scale(0.8318 1.0000)"><text font-size="40.56">0.0</text></g><g transform="translate(35.44 423.30) scale(0.8631 1.0000)"><text font-size="40.14">-0.2</text></g><g transform="translate(104.26 477.29) scale(0.8356 1.0000)"><text font-size="40.85">-1.0</text><rect x="15.64" y="-3.47" width="8.13" height="4.08" fill="#fff"/><rect x="27.53" y="-3.47" width="7.72" height="4.08" fill="#fff"/></g><g transform="translate(328.60 477.19) scale(0.8652 1.0000)"><text font-size="40.56">0.1</text><rect x="35.86" y="-3.45" width="8.07" height="4.06" fill="#fff"/><rect x="47.66" y="-3.45" width="7.67" height="4.06" fill="#fff"/></g><g transform="translate(548.33 476.80) scale(0.8557 1.0000)"><text font-size="40.00">1.2</text><rect x="2.00" y="-3.40" width="7.96" height="4.00" fill="#fff"/><rect x="13.64" y="-3.40" width="7.56" height="4.00" fill="#fff"/></g><g transform="translate(337.51 510.90) scale(0.8465 1.0000)"><text font-size="38.30">x</text></g><g transform="translate(354.36 522.78) scale(0.8850 1.0000)"><text font-size="32.11">0</text></g><g transform="translate(21.31 238.97) rotate(-90) scale(1.0050 1.0000)"><text font-size="34.73">y</text></g><g transform="translate(31.61 220.00) rotate(-90) scale(1.0430 1.0000)"><text font-size="28.87">0</text></g></g>
</svg></body></html>
